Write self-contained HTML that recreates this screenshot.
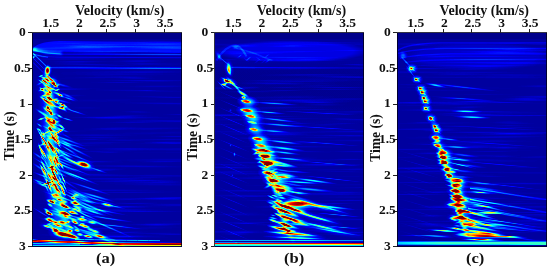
<!DOCTYPE html>
<html><head><meta charset="utf-8">
<style>
html,body{margin:0;padding:0;background:#fff;}
body{width:550px;height:272px;position:relative;overflow:hidden;font-family:"Liberation Serif","Times New Roman",serif;font-weight:bold;color:#111;}
div,svg.hm{position:absolute;}
.tk{background:#222;}
.tl{font-size:13.5px;line-height:14px;white-space:nowrap;}
.ttl{font-size:14px;line-height:15px;white-space:nowrap;}
.cap{font-size:14.5px;line-height:17px;white-space:nowrap;transform:scaleX(1.14);transform-origin:0 0;}
.yl{font-size:14px;line-height:15px;white-space:nowrap;transform:translate(-50%,-50%) rotate(-90deg);}
.add > *{mix-blend-mode:plus-lighter;}
.bx{border:1px solid rgba(0,0,20,0.8);box-sizing:border-box;}
</style></head><body>
<svg width="0" height="0" style="position:absolute">
<defs>
<filter id="jet" x="0" y="0" width="1" height="1" color-interpolation-filters="sRGB">
<feGaussianBlur stdDeviation="0.7"/>
<feColorMatrix type="matrix" values="1 0 0 0 0  1 0 0 0 0  1 0 0 0 0  0 0 0 0 1"/>
<feComponentTransfer>
<feFuncR type="table" tableValues="0 0 0 0 0 0 0 0 0 0 0 0 0 0.125 0.25 0.375 0.5 0.625 0.75 0.875 1 1 1 1 1 1 1 1 1 0.875 0.75 0.625 0.5"/>
<feFuncG type="table" tableValues="0 0 0 0 0 0.125 0.25 0.375 0.5 0.625 0.75 0.875 1 1 1 1 1 1 1 1 1 0.875 0.75 0.625 0.5 0.375 0.25 0.125 0 0 0 0 0"/>
<feFuncB type="table" tableValues="0.5 0.625 0.75 0.875 1 1 1 1 1 1 1 1 1 0.875 0.75 0.625 0.5 0.375 0.25 0.125 0 0 0 0 0 0 0 0 0 0 0 0 0"/>
</feComponentTransfer>
</filter>
<filter id="b05" filterUnits="userSpaceOnUse" x="-20" y="-20" width="200" height="260"><feGaussianBlur stdDeviation="0.5"/></filter>
<filter id="b1" filterUnits="userSpaceOnUse" x="-20" y="-20" width="200" height="260"><feGaussianBlur stdDeviation="1"/></filter>
<filter id="b2" filterUnits="userSpaceOnUse" x="-20" y="-20" width="200" height="260"><feGaussianBlur stdDeviation="2"/></filter>
<radialGradient id="g"><stop offset="0" stop-color="#fff" stop-opacity="1"/><stop offset="0.25" stop-color="#fff" stop-opacity="0.85"/><stop offset="0.5" stop-color="#fff" stop-opacity="0.5"/><stop offset="0.75" stop-color="#fff" stop-opacity="0.18"/><stop offset="1" stop-color="#fff" stop-opacity="0"/></radialGradient>
<radialGradient id="h"><stop offset="0" stop-color="#fff" stop-opacity="1"/><stop offset="0.5" stop-color="#fff" stop-opacity="0.9"/><stop offset="0.8" stop-color="#fff" stop-opacity="0.45"/><stop offset="1" stop-color="#fff" stop-opacity="0"/></radialGradient>
<radialGradient id="f"><stop offset="0" stop-color="#fff" stop-opacity="1"/><stop offset="0.8" stop-color="#fff" stop-opacity="0.95"/><stop offset="1" stop-color="#fff" stop-opacity="0"/></radialGradient>
</defs></svg>
<svg class="hm" style="left:32.0px;top:32.6px" width="149.8" height="214.2" viewBox="0 0 149.8 214.2"><g filter="url(#jet)"><rect width="149.8" height="214.2" fill="rgb(3,3,3)"/><g class="add"><rect x="0.0" y="6.4" width="150.0" height="208.0" fill="#fff" opacity="0.020"/>
<ellipse cx="130.2" cy="34.5" rx="49.4" ry="1.0" fill="url(#g)" opacity="0.038" transform="rotate(-0.3 130.2 34.5)"/>
<ellipse cx="32.2" cy="164.7" rx="16.3" ry="1.4" fill="url(#g)" opacity="0.015" transform="rotate(0.9 32.2 164.7)"/>
<ellipse cx="113.8" cy="96.4" rx="25.3" ry="0.6" fill="url(#g)" opacity="0.016" transform="rotate(1.9 113.8 96.4)"/>
<ellipse cx="142.1" cy="115.9" rx="32.2" ry="0.6" fill="url(#g)" opacity="0.023" transform="rotate(-0.6 142.1 115.9)"/>
<ellipse cx="84.5" cy="95.0" rx="25.5" ry="1.1" fill="url(#g)" opacity="0.025" transform="rotate(-1.2 84.5 95.0)"/>
<ellipse cx="128.9" cy="11.2" rx="40.0" ry="1.6" fill="url(#g)" opacity="0.045" transform="rotate(-0.2 128.9 11.2)"/>
<ellipse cx="63.3" cy="31.8" rx="47.5" ry="1.0" fill="url(#g)" opacity="0.044" transform="rotate(0.8 63.3 31.8)"/>
<ellipse cx="59.4" cy="141.4" rx="41.4" ry="1.1" fill="url(#g)" opacity="0.036" transform="rotate(1.0 59.4 141.4)"/>
<ellipse cx="51.6" cy="14.1" rx="50.9" ry="1.1" fill="url(#g)" opacity="0.040" transform="rotate(-0.5 51.6 14.1)"/>
<ellipse cx="68.7" cy="142.6" rx="34.8" ry="1.1" fill="url(#g)" opacity="0.029" transform="rotate(0.5 68.7 142.6)"/>
<ellipse cx="23.8" cy="105.6" rx="17.0" ry="1.2" fill="url(#g)" opacity="0.029" transform="rotate(2.3 23.8 105.6)"/>
<ellipse cx="85.3" cy="41.2" rx="59.2" ry="1.5" fill="url(#g)" opacity="0.023" transform="rotate(0.3 85.3 41.2)"/>
<ellipse cx="143.8" cy="110.0" rx="41.0" ry="1.1" fill="url(#g)" opacity="0.048" transform="rotate(-0.4 143.8 110.0)"/>
<ellipse cx="121.9" cy="8.4" rx="51.9" ry="1.4" fill="url(#g)" opacity="0.033" transform="rotate(0.7 121.9 8.4)"/>
<ellipse cx="75.4" cy="119.4" rx="17.5" ry="0.8" fill="url(#g)" opacity="0.033" transform="rotate(1.4 75.4 119.4)"/>
<ellipse cx="66.4" cy="104.5" rx="30.6" ry="1.2" fill="url(#g)" opacity="0.031" transform="rotate(0.3 66.4 104.5)"/>
<ellipse cx="49.8" cy="13.3" rx="23.0" ry="1.4" fill="url(#g)" opacity="0.043" transform="rotate(1.1 49.8 13.3)"/>
<ellipse cx="53.2" cy="170.1" rx="52.9" ry="0.6" fill="url(#g)" opacity="0.016" transform="rotate(-0.3 53.2 170.1)"/>
<ellipse cx="52.4" cy="158.2" rx="19.9" ry="0.7" fill="url(#g)" opacity="0.021" transform="rotate(-0.1 52.4 158.2)"/>
<ellipse cx="41.9" cy="112.6" rx="27.3" ry="0.9" fill="url(#g)" opacity="0.032" transform="rotate(0.3 41.9 112.6)"/>
<ellipse cx="70.3" cy="12.0" rx="33.9" ry="1.5" fill="url(#g)" opacity="0.033" transform="rotate(-1.2 70.3 12.0)"/>
<ellipse cx="98.7" cy="49.2" rx="51.8" ry="0.7" fill="url(#g)" opacity="0.040" transform="rotate(-1.1 98.7 49.2)"/>
<ellipse cx="111.6" cy="39.1" rx="45.5" ry="1.6" fill="url(#g)" opacity="0.043" transform="rotate(-0.3 111.6 39.1)"/>
<ellipse cx="49.0" cy="110.9" rx="44.2" ry="0.9" fill="url(#g)" opacity="0.037" transform="rotate(-0.0 49.0 110.9)"/>
<ellipse cx="58.8" cy="18.6" rx="58.6" ry="1.5" fill="url(#g)" opacity="0.026" transform="rotate(0.2 58.8 18.6)"/>
<ellipse cx="116.7" cy="195.0" rx="33.7" ry="1.5" fill="url(#g)" opacity="0.016" transform="rotate(-1.3 116.7 195.0)"/>
<ellipse cx="145.1" cy="172.0" rx="40.7" ry="1.6" fill="url(#g)" opacity="0.040" transform="rotate(0.1 145.1 172.0)"/>
<ellipse cx="69.1" cy="109.6" rx="30.6" ry="1.0" fill="url(#g)" opacity="0.022" transform="rotate(-0.2 69.1 109.6)"/>
<ellipse cx="106.6" cy="28.1" rx="28.3" ry="1.5" fill="url(#g)" opacity="0.046" transform="rotate(-0.4 106.6 28.1)"/>
<ellipse cx="46.1" cy="10.8" rx="29.8" ry="0.9" fill="url(#g)" opacity="0.022" transform="rotate(1.5 46.1 10.8)"/>
<ellipse cx="128.9" cy="142.8" rx="56.9" ry="1.3" fill="url(#g)" opacity="0.032" transform="rotate(0.2 128.9 142.8)"/>
<ellipse cx="50.5" cy="204.6" rx="47.7" ry="1.5" fill="url(#g)" opacity="0.022" transform="rotate(-0.9 50.5 204.6)"/>
<ellipse cx="98.0" cy="159.2" rx="52.9" ry="0.9" fill="url(#g)" opacity="0.045" transform="rotate(-0.3 98.0 159.2)"/>
<ellipse cx="144.1" cy="128.6" rx="54.9" ry="0.7" fill="url(#g)" opacity="0.016" transform="rotate(-0.3 144.1 128.6)"/>
<ellipse cx="132.6" cy="21.6" rx="50.5" ry="1.2" fill="url(#g)" opacity="0.042" transform="rotate(0.2 132.6 21.6)"/>
<ellipse cx="94.2" cy="83.2" rx="25.1" ry="1.5" fill="url(#g)" opacity="0.035" transform="rotate(-1.5 94.2 83.2)"/>
<ellipse cx="79.5" cy="192.5" rx="27.5" ry="0.6" fill="url(#g)" opacity="0.038" transform="rotate(1.3 79.5 192.5)"/>
<ellipse cx="35.0" cy="25.9" rx="54.8" ry="1.6" fill="url(#g)" opacity="0.030" transform="rotate(-0.8 35.0 25.9)"/>
<ellipse cx="41.8" cy="29.9" rx="25.9" ry="1.5" fill="url(#g)" opacity="0.028" transform="rotate(-0.3 41.8 29.9)"/>
<ellipse cx="138.2" cy="201.7" rx="28.2" ry="0.7" fill="url(#g)" opacity="0.038" transform="rotate(-0.5 138.2 201.7)"/>
<ellipse cx="21.4" cy="15.6" rx="59.2" ry="1.0" fill="url(#g)" opacity="0.026" transform="rotate(-0.1 21.4 15.6)"/>
<ellipse cx="138.7" cy="19.1" rx="58.6" ry="0.8" fill="url(#g)" opacity="0.037" transform="rotate(0.1 138.7 19.1)"/>
<ellipse cx="90.6" cy="203.0" rx="46.0" ry="1.1" fill="url(#g)" opacity="0.026" transform="rotate(-0.1 90.6 203.0)"/>
<ellipse cx="30.6" cy="56.1" rx="27.6" ry="1.3" fill="url(#g)" opacity="0.038" transform="rotate(0.9 30.6 56.1)"/>
<ellipse cx="70.8" cy="195.5" rx="28.8" ry="1.4" fill="url(#g)" opacity="0.046" transform="rotate(-0.7 70.8 195.5)"/>
<ellipse cx="63.5" cy="68.0" rx="39.5" ry="0.8" fill="url(#g)" opacity="0.016" transform="rotate(0.3 63.5 68.0)"/>
<ellipse cx="29.4" cy="56.2" rx="39.8" ry="1.2" fill="url(#g)" opacity="0.025" transform="rotate(-1.2 29.4 56.2)"/>
<ellipse cx="84.1" cy="166.2" rx="53.8" ry="1.4" fill="url(#g)" opacity="0.018" transform="rotate(-0.4 84.1 166.2)"/>
<ellipse cx="42.5" cy="197.1" rx="49.9" ry="0.9" fill="url(#g)" opacity="0.019" transform="rotate(0.9 42.5 197.1)"/>
<ellipse cx="139.5" cy="109.5" rx="28.2" ry="1.5" fill="url(#g)" opacity="0.016" transform="rotate(0.1 139.5 109.5)"/>
<ellipse cx="137.4" cy="70.5" rx="51.2" ry="1.3" fill="url(#g)" opacity="0.039" transform="rotate(0.8 137.4 70.5)"/>
<ellipse cx="76.2" cy="43.0" rx="22.1" ry="0.9" fill="url(#g)" opacity="0.017" transform="rotate(1.0 76.2 43.0)"/>
<ellipse cx="125.1" cy="200.4" rx="39.7" ry="1.1" fill="url(#g)" opacity="0.029" transform="rotate(0.6 125.1 200.4)"/>
<ellipse cx="53.5" cy="74.9" rx="16.1" ry="1.2" fill="url(#g)" opacity="0.017" transform="rotate(0.2 53.5 74.9)"/>
<ellipse cx="38.0" cy="79.0" rx="20.6" ry="1.0" fill="url(#g)" opacity="0.029" transform="rotate(0.2 38.0 79.0)"/>
<ellipse cx="50.4" cy="129.9" rx="15.3" ry="1.2" fill="url(#g)" opacity="0.030" transform="rotate(0.1 50.4 129.9)"/>
<ellipse cx="115.1" cy="144.7" rx="25.7" ry="0.8" fill="url(#g)" opacity="0.029" transform="rotate(-0.1 115.1 144.7)"/>
<ellipse cx="137.9" cy="119.9" rx="56.3" ry="0.6" fill="url(#g)" opacity="0.018" transform="rotate(-0.1 137.9 119.9)"/>
<ellipse cx="134.1" cy="109.9" rx="22.2" ry="0.9" fill="url(#g)" opacity="0.039" transform="rotate(1.7 134.1 109.9)"/>
<ellipse cx="68.3" cy="177.1" rx="46.6" ry="1.5" fill="url(#g)" opacity="0.046" transform="rotate(0.4 68.3 177.1)"/>
<ellipse cx="94.3" cy="199.4" rx="22.9" ry="1.2" fill="url(#g)" opacity="0.042" transform="rotate(-1.3 94.3 199.4)"/>
<ellipse cx="108.6" cy="18.0" rx="47.3" ry="0.8" fill="url(#g)" opacity="0.041" transform="rotate(-0.2 108.6 18.0)"/>
<ellipse cx="147.6" cy="15.2" rx="51.4" ry="1.5" fill="url(#g)" opacity="0.049" transform="rotate(-0.1 147.6 15.2)"/>
<ellipse cx="120.8" cy="35.3" rx="52.9" ry="1.0" fill="url(#g)" opacity="0.047" transform="rotate(0.4 120.8 35.3)"/>
<ellipse cx="69.7" cy="201.4" rx="51.1" ry="0.9" fill="url(#g)" opacity="0.019" transform="rotate(-0.5 69.7 201.4)"/>
<ellipse cx="144.7" cy="189.0" rx="20.4" ry="0.7" fill="url(#g)" opacity="0.025" transform="rotate(0.0 144.7 189.0)"/>
<ellipse cx="117.4" cy="57.3" rx="15.2" ry="0.6" fill="url(#g)" opacity="0.037" transform="rotate(-1.4 117.4 57.3)"/>
<ellipse cx="128.6" cy="128.8" rx="24.3" ry="0.9" fill="url(#g)" opacity="0.036" transform="rotate(-0.4 128.6 128.8)"/>
<ellipse cx="108.9" cy="57.7" rx="50.6" ry="1.1" fill="url(#g)" opacity="0.032" transform="rotate(0.9 108.9 57.7)"/>
<ellipse cx="120.0" cy="178.4" rx="40.7" ry="0.7" fill="url(#g)" opacity="0.043" transform="rotate(-0.5 120.0 178.4)"/>
<ellipse cx="117.1" cy="30.8" rx="39.5" ry="1.6" fill="url(#g)" opacity="0.020" transform="rotate(1.1 117.1 30.8)"/>
<ellipse cx="94.4" cy="107.3" rx="29.0" ry="1.1" fill="url(#g)" opacity="0.015" transform="rotate(-0.3 94.4 107.3)"/>
<ellipse cx="78.4" cy="96.2" rx="28.7" ry="1.3" fill="url(#g)" opacity="0.032" transform="rotate(0.4 78.4 96.2)"/>
<ellipse cx="69.1" cy="137.2" rx="24.2" ry="1.2" fill="url(#g)" opacity="0.046" transform="rotate(-1.7 69.1 137.2)"/>
<ellipse cx="86.4" cy="173.7" rx="59.4" ry="1.0" fill="url(#g)" opacity="0.041" transform="rotate(0.3 86.4 173.7)"/>
<ellipse cx="59.7" cy="204.8" rx="22.7" ry="1.0" fill="url(#g)" opacity="0.015" transform="rotate(0.4 59.7 204.8)"/>
<ellipse cx="75.4" cy="85.0" rx="33.2" ry="1.3" fill="url(#g)" opacity="0.046" transform="rotate(0.8 75.4 85.0)"/>
<ellipse cx="84.1" cy="157.2" rx="48.6" ry="1.2" fill="url(#g)" opacity="0.029" transform="rotate(0.3 84.1 157.2)"/>
<ellipse cx="102.4" cy="133.3" rx="57.2" ry="1.4" fill="url(#g)" opacity="0.044" transform="rotate(0.6 102.4 133.3)"/>
<ellipse cx="65.4" cy="128.7" rx="26.9" ry="1.1" fill="url(#g)" opacity="0.020" transform="rotate(1.2 65.4 128.7)"/>
<ellipse cx="83.0" cy="174.5" rx="36.0" ry="1.3" fill="url(#g)" opacity="0.030" transform="rotate(-0.7 83.0 174.5)"/>
<ellipse cx="105.4" cy="78.9" rx="15.9" ry="1.3" fill="url(#g)" opacity="0.029" transform="rotate(1.6 105.4 78.9)"/>
<ellipse cx="98.6" cy="145.9" rx="24.4" ry="0.9" fill="url(#g)" opacity="0.018" transform="rotate(0.2 98.6 145.9)"/>
<ellipse cx="88.0" cy="173.8" rx="31.6" ry="0.8" fill="url(#g)" opacity="0.038" transform="rotate(0.5 88.0 173.8)"/>
<ellipse cx="126.0" cy="149.7" rx="27.1" ry="1.2" fill="url(#g)" opacity="0.021" transform="rotate(-0.3 126.0 149.7)"/>
<ellipse cx="132.7" cy="166.1" rx="29.8" ry="1.3" fill="url(#g)" opacity="0.045" transform="rotate(0.4 132.7 166.1)"/>
<ellipse cx="136.9" cy="13.6" rx="43.0" ry="1.4" fill="url(#g)" opacity="0.042" transform="rotate(-0.3 136.9 13.6)"/>
<ellipse cx="101.4" cy="44.9" rx="22.5" ry="1.5" fill="url(#g)" opacity="0.040" transform="rotate(1.1 101.4 44.9)"/>
<ellipse cx="54.1" cy="128.7" rx="38.7" ry="1.3" fill="url(#g)" opacity="0.028" transform="rotate(-1.1 54.1 128.7)"/>
<ellipse cx="51.3" cy="157.3" rx="47.3" ry="0.7" fill="url(#g)" opacity="0.029" transform="rotate(0.0 51.3 157.3)"/>
<ellipse cx="33.0" cy="106.4" rx="23.4" ry="1.5" fill="url(#g)" opacity="0.023" transform="rotate(-0.8 33.0 106.4)"/>
<ellipse cx="111.5" cy="14.0" rx="51.7" ry="0.9" fill="url(#g)" opacity="0.044" transform="rotate(0.6 111.5 14.0)"/>
<ellipse cx="110.0" cy="31.1" rx="19.3" ry="1.0" fill="url(#g)" opacity="0.021" transform="rotate(-0.3 110.0 31.1)"/>
<ellipse cx="126.6" cy="53.4" rx="35.8" ry="1.3" fill="url(#g)" opacity="0.027" transform="rotate(-0.3 126.6 53.4)"/>
<ellipse cx="138.2" cy="126.9" rx="59.7" ry="1.5" fill="url(#g)" opacity="0.026" transform="rotate(-0.1 138.2 126.9)"/>
<ellipse cx="95.4" cy="84.5" rx="56.3" ry="1.4" fill="url(#g)" opacity="0.020" transform="rotate(0.3 95.4 84.5)"/>
<ellipse cx="22.0" cy="189.5" rx="21.5" ry="1.0" fill="url(#g)" opacity="0.020" transform="rotate(-0.7 22.0 189.5)"/>
<ellipse cx="129.2" cy="100.0" rx="55.8" ry="1.4" fill="url(#g)" opacity="0.016" transform="rotate(-0.9 129.2 100.0)"/>
<ellipse cx="35.3" cy="62.7" rx="19.1" ry="1.3" fill="url(#g)" opacity="0.039" transform="rotate(-1.0 35.3 62.7)"/>
<ellipse cx="106.2" cy="176.9" rx="32.5" ry="1.2" fill="url(#g)" opacity="0.024" transform="rotate(1.1 106.2 176.9)"/>
<ellipse cx="141.6" cy="19.7" rx="41.6" ry="1.2" fill="url(#g)" opacity="0.033" transform="rotate(-0.1 141.6 19.7)"/>
<ellipse cx="65.9" cy="20.2" rx="33.6" ry="1.0" fill="url(#g)" opacity="0.038" transform="rotate(0.1 65.9 20.2)"/>
<ellipse cx="116.6" cy="149.6" rx="47.5" ry="1.6" fill="url(#g)" opacity="0.020" transform="rotate(0.0 116.6 149.6)"/>
<ellipse cx="131.1" cy="191.2" rx="53.4" ry="1.4" fill="url(#g)" opacity="0.031" transform="rotate(-0.9 131.1 191.2)"/>
<ellipse cx="148.0" cy="81.4" rx="16.8" ry="0.7" fill="url(#g)" opacity="0.029" transform="rotate(-0.1 148.0 81.4)"/>
<ellipse cx="134.7" cy="148.5" rx="16.1" ry="1.4" fill="url(#g)" opacity="0.018" transform="rotate(-1.4 134.7 148.5)"/>
<ellipse cx="70.0" cy="14.1" rx="48.0" ry="1.4" fill="url(#g)" opacity="0.043" transform="rotate(-0.7 70.0 14.1)"/>
<ellipse cx="59.5" cy="178.9" rx="34.1" ry="0.9" fill="url(#g)" opacity="0.027" transform="rotate(-0.3 59.5 178.9)"/>
<ellipse cx="144.3" cy="164.7" rx="41.3" ry="1.0" fill="url(#g)" opacity="0.050" transform="rotate(-0.3 144.3 164.7)"/>
<ellipse cx="128.5" cy="151.6" rx="46.6" ry="1.4" fill="url(#g)" opacity="0.025" transform="rotate(0.5 128.5 151.6)"/>
<ellipse cx="68.1" cy="39.1" rx="38.5" ry="1.2" fill="url(#g)" opacity="0.017" transform="rotate(-0.8 68.1 39.1)"/>
<ellipse cx="104.6" cy="170.4" rx="29.1" ry="0.9" fill="url(#g)" opacity="0.041" transform="rotate(-0.7 104.6 170.4)"/>
<ellipse cx="88.4" cy="107.0" rx="21.7" ry="0.9" fill="url(#g)" opacity="0.017" transform="rotate(0.6 88.4 107.0)"/>
<ellipse cx="82.4" cy="203.3" rx="56.1" ry="1.4" fill="url(#g)" opacity="0.047" transform="rotate(0.9 82.4 203.3)"/>
<ellipse cx="124.2" cy="191.9" rx="21.1" ry="1.6" fill="url(#g)" opacity="0.042" transform="rotate(0.3 124.2 191.9)"/>
<ellipse cx="117.1" cy="147.7" rx="31.3" ry="1.0" fill="url(#g)" opacity="0.031" transform="rotate(1.1 117.1 147.7)"/>
<ellipse cx="89.2" cy="203.9" rx="22.6" ry="1.2" fill="url(#g)" opacity="0.047" transform="rotate(-0.4 89.2 203.9)"/>
<ellipse cx="73.4" cy="44.4" rx="47.8" ry="1.1" fill="url(#g)" opacity="0.024" transform="rotate(-1.0 73.4 44.4)"/>
<ellipse cx="54.0" cy="28.3" rx="43.4" ry="0.7" fill="url(#g)" opacity="0.045" transform="rotate(-0.5 54.0 28.3)"/>
<ellipse cx="42.5" cy="136.4" rx="53.8" ry="1.4" fill="url(#g)" opacity="0.040" transform="rotate(-0.6 42.5 136.4)"/>
<ellipse cx="135.9" cy="64.2" rx="41.9" ry="1.0" fill="url(#g)" opacity="0.039" transform="rotate(1.0 135.9 64.2)"/>
<ellipse cx="142.8" cy="116.4" rx="50.9" ry="1.6" fill="url(#g)" opacity="0.024" transform="rotate(0.6 142.8 116.4)"/>
<ellipse cx="117.1" cy="47.6" rx="49.7" ry="1.0" fill="url(#g)" opacity="0.046" transform="rotate(0.0 117.1 47.6)"/>
<ellipse cx="96.0" cy="166.3" rx="16.8" ry="0.8" fill="url(#g)" opacity="0.025" transform="rotate(1.1 96.0 166.3)"/>
<ellipse cx="20.7" cy="146.3" rx="20.4" ry="1.3" fill="url(#g)" opacity="0.049" transform="rotate(0.5 20.7 146.3)"/>
<ellipse cx="94.4" cy="116.0" rx="39.8" ry="1.4" fill="url(#g)" opacity="0.048" transform="rotate(0.1 94.4 116.0)"/>
<ellipse cx="101.9" cy="89.3" rx="28.8" ry="1.2" fill="url(#g)" opacity="0.034" transform="rotate(-0.4 101.9 89.3)"/>
<ellipse cx="41.2" cy="202.5" rx="43.7" ry="1.2" fill="url(#g)" opacity="0.028" transform="rotate(1.0 41.2 202.5)"/>
<ellipse cx="141.7" cy="88.1" rx="55.3" ry="1.5" fill="url(#g)" opacity="0.045" transform="rotate(0.6 141.7 88.1)"/>
<ellipse cx="80.4" cy="84.5" rx="50.8" ry="1.1" fill="url(#g)" opacity="0.027" transform="rotate(0.1 80.4 84.5)"/>
<ellipse cx="35.1" cy="98.2" rx="31.0" ry="0.8" fill="url(#g)" opacity="0.024" transform="rotate(-1.0 35.1 98.2)"/>
<ellipse cx="96.6" cy="178.2" rx="27.9" ry="1.1" fill="url(#g)" opacity="0.041" transform="rotate(0.5 96.6 178.2)"/>
<ellipse cx="76.4" cy="145.9" rx="50.0" ry="1.1" fill="url(#g)" opacity="0.049" transform="rotate(0.2 76.4 145.9)"/>
<ellipse cx="31.9" cy="149.9" rx="20.8" ry="0.6" fill="url(#g)" opacity="0.024" transform="rotate(0.5 31.9 149.9)"/>
<ellipse cx="143.8" cy="103.5" rx="33.0" ry="0.7" fill="url(#g)" opacity="0.036" transform="rotate(1.0 143.8 103.5)"/>
<ellipse cx="91.4" cy="207.2" rx="39.1" ry="1.6" fill="url(#g)" opacity="0.019" transform="rotate(0.4 91.4 207.2)"/>
<ellipse cx="74.6" cy="118.1" rx="45.2" ry="0.9" fill="url(#g)" opacity="0.032" transform="rotate(-0.8 74.6 118.1)"/>
<ellipse cx="131.5" cy="165.5" rx="50.4" ry="1.0" fill="url(#g)" opacity="0.038" transform="rotate(-0.3 131.5 165.5)"/>
<ellipse cx="86.0" cy="67.0" rx="55.7" ry="0.7" fill="url(#g)" opacity="0.029" transform="rotate(-0.0 86.0 67.0)"/>
<ellipse cx="46.2" cy="188.9" rx="38.4" ry="1.6" fill="url(#g)" opacity="0.025" transform="rotate(0.5 46.2 188.9)"/>
<ellipse cx="136.4" cy="106.4" rx="39.5" ry="0.9" fill="url(#g)" opacity="0.032" transform="rotate(-0.0 136.4 106.4)"/>
<ellipse cx="148.6" cy="9.2" rx="44.6" ry="0.9" fill="url(#g)" opacity="0.034" transform="rotate(1.1 148.6 9.2)"/>
<ellipse cx="118.8" cy="95.5" rx="52.9" ry="1.3" fill="url(#g)" opacity="0.029" transform="rotate(-0.5 118.8 95.5)"/>
<ellipse cx="45.4" cy="33.8" rx="40.2" ry="1.1" fill="url(#g)" opacity="0.036" transform="rotate(0.8 45.4 33.8)"/>
<ellipse cx="73.8" cy="36.7" rx="27.6" ry="0.8" fill="url(#g)" opacity="0.028" transform="rotate(-0.1 73.8 36.7)"/>
<ellipse cx="64.0" cy="102.2" rx="42.3" ry="1.3" fill="url(#g)" opacity="0.034" transform="rotate(0.1 64.0 102.2)"/>
<ellipse cx="62.4" cy="19.2" rx="46.1" ry="1.5" fill="url(#g)" opacity="0.026" transform="rotate(0.6 62.4 19.2)"/>
<ellipse cx="62.9" cy="106.3" rx="20.8" ry="0.7" fill="url(#g)" opacity="0.034" transform="rotate(-1.7 62.9 106.3)"/>
<ellipse cx="93.2" cy="148.0" rx="45.8" ry="1.2" fill="url(#g)" opacity="0.046" transform="rotate(-0.7 93.2 148.0)"/>
<ellipse cx="20.6" cy="92.2" rx="15.9" ry="0.7" fill="url(#g)" opacity="0.023" transform="rotate(-0.3 20.6 92.2)"/>
<path d="M 1.0 14.9 C 6.0 10.4 13.0 8.4 28.0 7.9 L 151.0 9.4 L 151.0 19.4 L 28.0 18.4 C 13.0 18.4 6.0 18.4 1.0 18.9 Z" fill="#fff" opacity="0.100" filter="url(#b05)"/>
<ellipse cx="2.5" cy="16.4" rx="4.0" ry="3.0" fill="url(#g)" opacity="0.100"/>
<path d="M 1.0 15.9 C 5.0 16.9 10.0 18.7 16.0 19.7 L 30.0 20.4" fill="none" stroke="#fff" stroke-width="2.2" stroke-linecap="butt" opacity="0.220" filter="url(#b1)"/>
<path d="M 1.0 20.9 C 6.0 22.4 10.0 23.9 16.0 24.4" fill="none" stroke="#fff" stroke-width="1.3" stroke-linecap="butt" opacity="0.120" filter="url(#b05)"/>
<ellipse cx="1.5" cy="24.4" rx="1.5" ry="1.2" fill="url(#g)" opacity="0.350"/>
<ellipse cx="2.0" cy="23.4" rx="2.0" ry="1.5" fill="url(#g)" opacity="0.250"/>
<path d="M 1.0 16.9 C 6.0 18.9 13.0 20.4 28.0 21.0 L 151.0 21.7" fill="none" stroke="#fff" stroke-width="1.2" stroke-linecap="butt" opacity="0.120" filter="url(#b05)"/>
<path d="M 1.0 20.9 C 6.0 22.9 13.0 23.9 28.0 24.2 L 151.0 24.7" fill="none" stroke="#fff" stroke-width="1.0" stroke-linecap="butt" opacity="0.080" filter="url(#b05)"/>
<path d="M 1.0 20.4 L 14.0 32.9" fill="none" stroke="#fff" stroke-width="1.1" stroke-linecap="butt" opacity="0.220" filter="url(#b05)"/>
<path d="M 1.0 24.9 L 12.0 35.9" fill="none" stroke="#fff" stroke-width="1.0" stroke-linecap="butt" opacity="0.120" filter="url(#b05)"/>
<path d="M 1.0 29.4 L 11.0 39.4" fill="none" stroke="#fff" stroke-width="1.0" stroke-linecap="butt" opacity="0.100" filter="url(#b05)"/>
<path d="M 17.0 34.7 L 151.0 35.4" fill="none" stroke="#fff" stroke-width="1.1" stroke-linecap="butt" opacity="0.180" filter="url(#b05)"/>
<ellipse cx="15.5" cy="37.4" rx="3.0" ry="5.5" fill="url(#g)" opacity="0.750"/>
<ellipse cx="15.5" cy="37.9" rx="4.5" ry="7.0" fill="url(#g)" opacity="0.450" transform="rotate(10.0 15.5 37.9)"/>
<path d="M 15.0 45.4 C 18.0 67.4 18.0 107.4 20.0 137.4 C 22.0 162.4 28.0 182.4 32.0 199.4" fill="none" stroke="#fff" stroke-width="16" stroke-linecap="butt" opacity="0.090" filter="url(#b2)"/>
<path d="M 16.0 47.4 C 18.0 67.4 18.0 107.4 19.0 137.4 C 21.0 157.4 24.0 177.4 26.0 195.4" fill="none" stroke="#fff" stroke-width="7" stroke-linecap="butt" opacity="0.080" filter="url(#b2)"/>
<ellipse cx="14.0" cy="43.4" rx="7.8" ry="3.5" fill="url(#g)" opacity="0.050" transform="rotate(60.0 14.0 43.4)"/>
<ellipse cx="16.2" cy="43.4" rx="3.6" ry="1.3" fill="url(#g)" opacity="0.544" transform="rotate(32.0 16.2 43.4)"/>
<ellipse cx="22.6" cy="46.7" rx="7.3" ry="1.6" fill="url(#g)" opacity="0.127" transform="rotate(27.4 22.6 46.7)"/>
<ellipse cx="8.9" cy="42.9" rx="3.6" ry="1.1" fill="url(#g)" opacity="0.440" transform="rotate(-23.0 8.9 42.9)"/>
<ellipse cx="16.3" cy="47.8" rx="8.6" ry="1.6" fill="url(#g)" opacity="0.159" transform="rotate(30.7 16.3 47.8)"/>
<ellipse cx="16.2" cy="44.3" rx="4.6" ry="1.7" fill="url(#g)" opacity="0.259" transform="rotate(26.4 16.2 44.3)"/>
<ellipse cx="14.5" cy="45.8" rx="8.6" ry="3.5" fill="url(#g)" opacity="0.050" transform="rotate(60.0 14.5 45.8)"/>
<ellipse cx="19.0" cy="46.2" rx="5.4" ry="1.5" fill="url(#g)" opacity="0.392" transform="rotate(28.1 19.0 46.2)"/>
<ellipse cx="15.0" cy="45.9" rx="3.7" ry="1.5" fill="url(#g)" opacity="0.308" transform="rotate(32.7 15.0 45.9)"/>
<ellipse cx="21.5" cy="48.3" rx="6.9" ry="1.5" fill="url(#g)" opacity="0.160" transform="rotate(20.7 21.5 48.3)"/>
<ellipse cx="11.5" cy="45.0" rx="4.6" ry="1.6" fill="url(#g)" opacity="0.362" transform="rotate(28.1 11.5 45.0)"/>
<ellipse cx="15.0" cy="48.2" rx="9.4" ry="3.5" fill="url(#g)" opacity="0.050" transform="rotate(60.0 15.0 48.2)"/>
<ellipse cx="15.6" cy="47.3" rx="4.4" ry="1.6" fill="url(#g)" opacity="0.488" transform="rotate(33.7 15.6 47.3)"/>
<ellipse cx="28.4" cy="51.6" rx="13.2" ry="1.7" fill="url(#g)" opacity="0.155" transform="rotate(14.8 28.4 51.6)"/>
<ellipse cx="19.9" cy="47.5" rx="6.0" ry="1.4" fill="url(#g)" opacity="0.489" transform="rotate(37.8 19.9 47.5)"/>
<ellipse cx="9.5" cy="48.8" rx="5.3" ry="1.1" fill="url(#g)" opacity="0.390" transform="rotate(33.3 9.5 48.8)"/>
<ellipse cx="15.5" cy="50.6" rx="10.1" ry="3.5" fill="url(#g)" opacity="0.050" transform="rotate(60.0 15.5 50.6)"/>
<ellipse cx="22.0" cy="51.4" rx="4.9" ry="1.6" fill="url(#g)" opacity="0.407" transform="rotate(31.2 22.0 51.4)"/>
<ellipse cx="14.3" cy="49.7" rx="4.9" ry="1.1" fill="url(#g)" opacity="0.523" transform="rotate(32.1 14.3 49.7)"/>
<ellipse cx="7.7" cy="50.6" rx="4.6" ry="1.3" fill="url(#g)" opacity="0.167" transform="rotate(-26.9 7.7 50.6)"/>
<ellipse cx="16.0" cy="53.0" rx="10.9" ry="3.5" fill="url(#g)" opacity="0.050" transform="rotate(60.0 16.0 53.0)"/>
<ellipse cx="22.9" cy="52.5" rx="5.9" ry="1.3" fill="url(#g)" opacity="0.412" transform="rotate(36.4 22.9 52.5)"/>
<ellipse cx="13.6" cy="52.6" rx="6.1" ry="1.3" fill="url(#g)" opacity="0.213" transform="rotate(38.3 13.6 52.6)"/>
<ellipse cx="24.3" cy="52.8" rx="4.4" ry="1.7" fill="url(#g)" opacity="0.459" transform="rotate(-20.4 24.3 52.8)"/>
<ellipse cx="16.5" cy="55.4" rx="11.7" ry="3.5" fill="url(#g)" opacity="0.050" transform="rotate(60.0 16.5 55.4)"/>
<ellipse cx="20.1" cy="55.7" rx="6.2" ry="1.2" fill="url(#g)" opacity="0.404" transform="rotate(21.1 20.1 55.7)"/>
<ellipse cx="16.3" cy="54.4" rx="6.2" ry="1.4" fill="url(#g)" opacity="0.286" transform="rotate(39.5 16.3 54.4)"/>
<ellipse cx="10.6" cy="56.3" rx="5.5" ry="1.6" fill="url(#g)" opacity="0.437" transform="rotate(-22.6 10.6 56.3)"/>
<ellipse cx="17.0" cy="57.8" rx="12.5" ry="3.5" fill="url(#g)" opacity="0.050" transform="rotate(60.0 17.0 57.8)"/>
<ellipse cx="16.4" cy="57.2" rx="4.8" ry="1.5" fill="url(#g)" opacity="0.347" transform="rotate(34.5 16.4 57.2)"/>
<ellipse cx="25.2" cy="57.0" rx="3.6" ry="1.2" fill="url(#g)" opacity="0.486" transform="rotate(-21.7 25.2 57.0)"/>
<ellipse cx="35.9" cy="62.9" rx="11.9" ry="1.7" fill="url(#g)" opacity="0.166" transform="rotate(25.3 35.9 62.9)"/>
<ellipse cx="10.4" cy="56.8" rx="4.7" ry="1.5" fill="url(#g)" opacity="0.539" transform="rotate(38.9 10.4 56.8)"/>
<ellipse cx="17.5" cy="60.2" rx="13.3" ry="3.5" fill="url(#g)" opacity="0.050" transform="rotate(60.0 17.5 60.2)"/>
<ellipse cx="25.9" cy="60.8" rx="6.4" ry="1.7" fill="url(#g)" opacity="0.365" transform="rotate(20.1 25.9 60.8)"/>
<ellipse cx="14.3" cy="61.1" rx="4.0" ry="1.5" fill="url(#g)" opacity="0.246" transform="rotate(38.7 14.3 61.1)"/>
<ellipse cx="16.0" cy="60.6" rx="5.6" ry="1.6" fill="url(#g)" opacity="0.468" transform="rotate(34.5 16.0 60.6)"/>
<ellipse cx="18.0" cy="62.6" rx="14.0" ry="3.5" fill="url(#g)" opacity="0.050" transform="rotate(60.0 18.0 62.6)"/>
<ellipse cx="12.6" cy="62.4" rx="5.2" ry="1.5" fill="url(#g)" opacity="0.462" transform="rotate(-15.8 12.6 62.4)"/>
<ellipse cx="28.3" cy="62.2" rx="4.3" ry="1.4" fill="url(#g)" opacity="0.246" transform="rotate(-9.0 28.3 62.2)"/>
<ellipse cx="28.5" cy="62.5" rx="5.0" ry="1.4" fill="url(#g)" opacity="0.433" transform="rotate(30.7 28.5 62.5)"/>
<ellipse cx="36.6" cy="65.5" rx="8.6" ry="1.3" fill="url(#g)" opacity="0.251" transform="rotate(19.8 36.6 65.5)"/>
<ellipse cx="18.5" cy="65.0" rx="14.8" ry="3.5" fill="url(#g)" opacity="0.050" transform="rotate(60.0 18.5 65.0)"/>
<ellipse cx="15.3" cy="65.6" rx="5.4" ry="1.6" fill="url(#g)" opacity="0.211" transform="rotate(36.9 15.3 65.6)"/>
<ellipse cx="10.4" cy="64.9" rx="3.9" ry="1.2" fill="url(#g)" opacity="0.252" transform="rotate(25.6 10.4 64.9)"/>
<ellipse cx="16.3" cy="68.2" rx="6.8" ry="1.5" fill="url(#g)" opacity="0.152" transform="rotate(28.0 16.3 68.2)"/>
<ellipse cx="16.9" cy="64.8" rx="4.1" ry="1.5" fill="url(#g)" opacity="0.499" transform="rotate(31.1 16.9 64.8)"/>
<ellipse cx="28.6" cy="67.7" rx="12.1" ry="1.6" fill="url(#g)" opacity="0.181" transform="rotate(13.2 28.6 67.7)"/>
<ellipse cx="19.0" cy="67.4" rx="15.6" ry="3.5" fill="url(#g)" opacity="0.050" transform="rotate(60.0 19.0 67.4)"/>
<ellipse cx="23.4" cy="66.5" rx="4.2" ry="1.4" fill="url(#g)" opacity="0.386" transform="rotate(-18.2 23.4 66.5)"/>
<ellipse cx="32.7" cy="73.2" rx="11.0" ry="1.4" fill="url(#g)" opacity="0.254" transform="rotate(31.7 32.7 73.2)"/>
<ellipse cx="12.4" cy="66.6" rx="6.0" ry="1.2" fill="url(#g)" opacity="0.434" transform="rotate(30.7 12.4 66.6)"/>
<ellipse cx="14.0" cy="67.9" rx="4.3" ry="1.1" fill="url(#g)" opacity="0.474" transform="rotate(32.3 14.0 67.9)"/>
<ellipse cx="19.0" cy="69.8" rx="15.6" ry="3.5" fill="url(#g)" opacity="0.050" transform="rotate(60.0 19.0 69.8)"/>
<ellipse cx="14.6" cy="69.0" rx="6.1" ry="1.5" fill="url(#g)" opacity="0.475" transform="rotate(32.6 14.6 69.0)"/>
<ellipse cx="20.9" cy="72.4" rx="6.9" ry="1.3" fill="url(#g)" opacity="0.265" transform="rotate(22.2 20.9 72.4)"/>
<ellipse cx="24.0" cy="69.1" rx="5.6" ry="1.3" fill="url(#g)" opacity="0.478" transform="rotate(38.5 24.0 69.1)"/>
<ellipse cx="29.8" cy="71.5" rx="6.1" ry="1.7" fill="url(#g)" opacity="0.180" transform="rotate(16.0 29.8 71.5)"/>
<ellipse cx="18.6" cy="70.1" rx="6.3" ry="1.5" fill="url(#g)" opacity="0.395" transform="rotate(32.8 18.6 70.1)"/>
<ellipse cx="19.0" cy="72.2" rx="15.6" ry="3.5" fill="url(#g)" opacity="0.050" transform="rotate(60.0 19.0 72.2)"/>
<ellipse cx="30.2" cy="71.4" rx="6.0" ry="1.2" fill="url(#g)" opacity="0.458" transform="rotate(25.4 30.2 71.4)"/>
<ellipse cx="17.9" cy="72.3" rx="6.3" ry="1.7" fill="url(#g)" opacity="0.168" transform="rotate(36.5 17.9 72.3)"/>
<ellipse cx="28.7" cy="74.7" rx="11.1" ry="1.5" fill="url(#g)" opacity="0.191" transform="rotate(12.9 28.7 74.7)"/>
<ellipse cx="30.0" cy="72.2" rx="4.1" ry="1.4" fill="url(#g)" opacity="0.388" transform="rotate(-18.8 30.0 72.2)"/>
<ellipse cx="19.0" cy="74.6" rx="15.6" ry="3.5" fill="url(#g)" opacity="0.050" transform="rotate(60.0 19.0 74.6)"/>
<ellipse cx="30.6" cy="74.5" rx="6.0" ry="1.2" fill="url(#g)" opacity="0.461" transform="rotate(-10.1 30.6 74.5)"/>
<ellipse cx="43.1" cy="78.6" rx="13.2" ry="1.2" fill="url(#g)" opacity="0.200" transform="rotate(17.7 43.1 78.6)"/>
<ellipse cx="30.8" cy="75.2" rx="6.0" ry="1.6" fill="url(#g)" opacity="0.484" transform="rotate(39.9 30.8 75.2)"/>
<ellipse cx="28.7" cy="75.4" rx="4.9" ry="1.4" fill="url(#g)" opacity="0.338" transform="rotate(31.0 28.7 75.4)"/>
<ellipse cx="19.0" cy="77.0" rx="15.6" ry="3.5" fill="url(#g)" opacity="0.050" transform="rotate(60.0 19.0 77.0)"/>
<ellipse cx="14.6" cy="76.6" rx="6.1" ry="1.7" fill="url(#g)" opacity="0.210" transform="rotate(37.0 14.6 76.6)"/>
<ellipse cx="17.0" cy="76.2" rx="5.2" ry="1.1" fill="url(#g)" opacity="0.550" transform="rotate(31.5 17.0 76.2)"/>
<ellipse cx="15.1" cy="77.2" rx="5.0" ry="1.5" fill="url(#g)" opacity="0.297" transform="rotate(32.7 15.1 77.2)"/>
<ellipse cx="19.0" cy="79.4" rx="15.6" ry="3.5" fill="url(#g)" opacity="0.050" transform="rotate(60.0 19.0 79.4)"/>
<ellipse cx="17.7" cy="78.7" rx="4.5" ry="1.2" fill="url(#g)" opacity="0.350" transform="rotate(20.1 17.7 78.7)"/>
<ellipse cx="10.6" cy="80.0" rx="6.5" ry="1.7" fill="url(#g)" opacity="0.193" transform="rotate(30.2 10.6 80.0)"/>
<ellipse cx="7.9" cy="78.9" rx="6.4" ry="1.5" fill="url(#g)" opacity="0.175" transform="rotate(36.4 7.9 78.9)"/>
<ellipse cx="19.0" cy="81.8" rx="15.6" ry="3.5" fill="url(#g)" opacity="0.050" transform="rotate(60.0 19.0 81.8)"/>
<ellipse cx="21.8" cy="81.3" rx="3.7" ry="1.3" fill="url(#g)" opacity="0.180" transform="rotate(-9.4 21.8 81.3)"/>
<ellipse cx="13.3" cy="82.3" rx="4.4" ry="1.7" fill="url(#g)" opacity="0.234" transform="rotate(29.6 13.3 82.3)"/>
<ellipse cx="26.7" cy="82.5" rx="3.9" ry="1.4" fill="url(#g)" opacity="0.180" transform="rotate(38.5 26.7 82.5)"/>
<ellipse cx="19.0" cy="84.2" rx="15.6" ry="3.5" fill="url(#g)" opacity="0.050" transform="rotate(60.0 19.0 84.2)"/>
<ellipse cx="24.9" cy="85.0" rx="3.6" ry="1.5" fill="url(#g)" opacity="0.161" transform="rotate(35.0 24.9 85.0)"/>
<ellipse cx="28.0" cy="83.4" rx="3.9" ry="1.5" fill="url(#g)" opacity="0.320" transform="rotate(23.9 28.0 83.4)"/>
<ellipse cx="35.1" cy="86.2" rx="7.4" ry="1.2" fill="url(#g)" opacity="0.274" transform="rotate(15.9 35.1 86.2)"/>
<ellipse cx="15.0" cy="85.1" rx="3.5" ry="1.8" fill="url(#g)" opacity="0.536" transform="rotate(24.4 15.0 85.1)"/>
<ellipse cx="21.7" cy="87.0" rx="7.3" ry="1.2" fill="url(#g)" opacity="0.242" transform="rotate(23.0 21.7 87.0)"/>
<ellipse cx="19.0" cy="86.6" rx="15.6" ry="3.5" fill="url(#g)" opacity="0.050" transform="rotate(60.0 19.0 86.6)"/>
<ellipse cx="9.0" cy="86.0" rx="4.4" ry="1.4" fill="url(#g)" opacity="0.477" transform="rotate(-18.4 9.0 86.0)"/>
<ellipse cx="16.4" cy="87.0" rx="4.4" ry="1.8" fill="url(#g)" opacity="0.411" transform="rotate(-26.0 16.4 87.0)"/>
<ellipse cx="18.4" cy="86.9" rx="5.5" ry="1.8" fill="url(#g)" opacity="0.159" transform="rotate(-27.7 18.4 86.9)"/>
<ellipse cx="19.0" cy="89.0" rx="15.6" ry="3.5" fill="url(#g)" opacity="0.050" transform="rotate(60.0 19.0 89.0)"/>
<ellipse cx="24.0" cy="89.4" rx="5.9" ry="1.8" fill="url(#g)" opacity="0.287" transform="rotate(-20.8 24.0 89.4)"/>
<ellipse cx="20.5" cy="89.4" rx="5.2" ry="1.7" fill="url(#g)" opacity="0.370" transform="rotate(29.6 20.5 89.4)"/>
<ellipse cx="18.3" cy="89.1" rx="5.9" ry="1.5" fill="url(#g)" opacity="0.483" transform="rotate(30.5 18.3 89.1)"/>
<ellipse cx="25.4" cy="92.2" rx="7.8" ry="1.2" fill="url(#g)" opacity="0.193" transform="rotate(24.1 25.4 92.2)"/>
<ellipse cx="19.0" cy="91.4" rx="15.6" ry="3.5" fill="url(#g)" opacity="0.050" transform="rotate(60.0 19.0 91.4)"/>
<ellipse cx="28.4" cy="92.3" rx="5.6" ry="1.5" fill="url(#g)" opacity="0.243" transform="rotate(34.0 28.4 92.3)"/>
<ellipse cx="17.5" cy="90.4" rx="5.8" ry="1.6" fill="url(#g)" opacity="0.407" transform="rotate(35.7 17.5 90.4)"/>
<ellipse cx="7.4" cy="92.1" rx="4.1" ry="1.2" fill="url(#g)" opacity="0.285" transform="rotate(35.7 7.4 92.1)"/>
<ellipse cx="20.0" cy="97.3" rx="13.9" ry="1.3" fill="url(#g)" opacity="0.231" transform="rotate(24.9 20.0 97.3)"/>
<ellipse cx="19.0" cy="93.8" rx="15.6" ry="3.5" fill="url(#g)" opacity="0.050" transform="rotate(60.0 19.0 93.8)"/>
<ellipse cx="30.0" cy="94.2" rx="4.0" ry="1.6" fill="url(#g)" opacity="0.393" transform="rotate(39.2 30.0 94.2)"/>
<ellipse cx="20.8" cy="93.9" rx="4.9" ry="1.7" fill="url(#g)" opacity="0.296" transform="rotate(28.4 20.8 93.9)"/>
<ellipse cx="26.6" cy="97.3" rx="6.8" ry="1.6" fill="url(#g)" opacity="0.219" transform="rotate(30.8 26.6 97.3)"/>
<ellipse cx="22.1" cy="93.1" rx="6.5" ry="1.6" fill="url(#g)" opacity="0.247" transform="rotate(24.2 22.1 93.1)"/>
<ellipse cx="19.0" cy="96.2" rx="15.6" ry="3.5" fill="url(#g)" opacity="0.050" transform="rotate(60.0 19.0 96.2)"/>
<ellipse cx="7.0" cy="96.6" rx="3.6" ry="1.4" fill="url(#g)" opacity="0.432" transform="rotate(30.0 7.0 96.6)"/>
<ellipse cx="28.0" cy="96.4" rx="4.4" ry="1.5" fill="url(#g)" opacity="0.355" transform="rotate(32.1 28.0 96.4)"/>
<ellipse cx="32.8" cy="97.8" rx="5.1" ry="1.3" fill="url(#g)" opacity="0.199" transform="rotate(18.2 32.8 97.8)"/>
<ellipse cx="19.0" cy="97.2" rx="4.3" ry="1.4" fill="url(#g)" opacity="0.498" transform="rotate(35.0 19.0 97.2)"/>
<ellipse cx="24.5" cy="98.4" rx="5.9" ry="1.5" fill="url(#g)" opacity="0.141" transform="rotate(22.3 24.5 98.4)"/>
<ellipse cx="18.0" cy="99.4" rx="14.3" ry="3.5" fill="url(#g)" opacity="0.050" transform="rotate(60.0 18.0 99.4)"/>
<ellipse cx="27.3" cy="98.5" rx="7.9" ry="1.4" fill="url(#g)" opacity="0.591" transform="rotate(-29.9 27.3 98.5)"/>
<ellipse cx="34.1" cy="102.9" rx="7.6" ry="1.3" fill="url(#g)" opacity="0.123" transform="rotate(27.1 34.1 102.9)"/>
<ellipse cx="7.2" cy="99.5" rx="6.0" ry="1.1" fill="url(#g)" opacity="0.285" transform="rotate(59.4 7.2 99.5)"/>
<ellipse cx="26.5" cy="107.2" rx="20.8" ry="1.4" fill="url(#g)" opacity="0.183" transform="rotate(22.1 26.5 107.2)"/>
<ellipse cx="14.3" cy="99.7" rx="8.0" ry="1.1" fill="url(#g)" opacity="0.363" transform="rotate(-25.9 14.3 99.7)"/>
<ellipse cx="34.1" cy="106.5" rx="21.1" ry="1.5" fill="url(#g)" opacity="0.243" transform="rotate(19.7 34.1 106.5)"/>
<ellipse cx="18.1" cy="101.7" rx="14.2" ry="3.5" fill="url(#g)" opacity="0.050" transform="rotate(60.0 18.1 101.7)"/>
<ellipse cx="10.4" cy="101.3" rx="6.4" ry="1.3" fill="url(#g)" opacity="0.533" transform="rotate(55.6 10.4 101.3)"/>
<ellipse cx="24.5" cy="102.2" rx="5.5" ry="1.5" fill="url(#g)" opacity="0.466" transform="rotate(58.0 24.5 102.2)"/>
<ellipse cx="12.0" cy="101.2" rx="5.1" ry="1.1" fill="url(#g)" opacity="0.314" transform="rotate(61.3 12.0 101.2)"/>
<ellipse cx="23.5" cy="107.2" rx="12.7" ry="1.5" fill="url(#g)" opacity="0.212" transform="rotate(25.7 23.5 107.2)"/>
<ellipse cx="18.2" cy="104.0" rx="14.1" ry="3.5" fill="url(#g)" opacity="0.050" transform="rotate(60.0 18.2 104.0)"/>
<ellipse cx="20.8" cy="103.5" rx="8.3" ry="1.4" fill="url(#g)" opacity="0.546" transform="rotate(61.4 20.8 103.5)"/>
<ellipse cx="20.5" cy="104.8" rx="7.1" ry="1.5" fill="url(#g)" opacity="0.246" transform="rotate(-12.5 20.5 104.8)"/>
<ellipse cx="23.8" cy="103.8" rx="6.9" ry="1.0" fill="url(#g)" opacity="0.348" transform="rotate(60.3 23.8 103.8)"/>
<ellipse cx="32.7" cy="108.6" rx="10.0" ry="1.5" fill="url(#g)" opacity="0.220" transform="rotate(27.6 32.7 108.6)"/>
<ellipse cx="18.4" cy="106.3" rx="14.1" ry="3.5" fill="url(#g)" opacity="0.050" transform="rotate(60.0 18.4 106.3)"/>
<ellipse cx="10.8" cy="105.5" rx="7.4" ry="1.1" fill="url(#g)" opacity="0.383" transform="rotate(57.0 10.8 105.5)"/>
<ellipse cx="11.3" cy="106.4" rx="8.5" ry="1.5" fill="url(#g)" opacity="0.542" transform="rotate(61.4 11.3 106.4)"/>
<ellipse cx="22.4" cy="107.3" rx="7.9" ry="1.1" fill="url(#g)" opacity="0.228" transform="rotate(63.0 22.4 107.3)"/>
<ellipse cx="42.0" cy="116.1" rx="21.9" ry="1.5" fill="url(#g)" opacity="0.240" transform="rotate(26.6 42.0 116.1)"/>
<ellipse cx="18.5" cy="108.6" rx="14.0" ry="3.5" fill="url(#g)" opacity="0.050" transform="rotate(60.0 18.5 108.6)"/>
<ellipse cx="24.5" cy="107.8" rx="8.8" ry="1.0" fill="url(#g)" opacity="0.451" transform="rotate(60.1 24.5 107.8)"/>
<ellipse cx="38.3" cy="118.0" rx="16.7" ry="1.2" fill="url(#g)" opacity="0.155" transform="rotate(34.4 38.3 118.0)"/>
<ellipse cx="26.0" cy="107.7" rx="8.8" ry="1.3" fill="url(#g)" opacity="0.331" transform="rotate(60.4 26.0 107.7)"/>
<ellipse cx="34.4" cy="111.7" rx="9.0" ry="1.3" fill="url(#g)" opacity="0.245" transform="rotate(20.3 34.4 111.7)"/>
<ellipse cx="10.8" cy="109.4" rx="7.2" ry="1.5" fill="url(#g)" opacity="0.291" transform="rotate(62.7 10.8 109.4)"/>
<ellipse cx="18.6" cy="110.9" rx="13.9" ry="3.5" fill="url(#g)" opacity="0.050" transform="rotate(60.0 18.6 110.9)"/>
<ellipse cx="17.2" cy="110.9" rx="6.4" ry="1.2" fill="url(#g)" opacity="0.549" transform="rotate(62.1 17.2 110.9)"/>
<ellipse cx="26.2" cy="116.3" rx="10.6" ry="1.2" fill="url(#g)" opacity="0.149" transform="rotate(31.0 26.2 116.3)"/>
<ellipse cx="11.4" cy="111.1" rx="7.7" ry="1.4" fill="url(#g)" opacity="0.345" transform="rotate(-22.1 11.4 111.1)"/>
<ellipse cx="27.4" cy="117.1" rx="17.2" ry="1.3" fill="url(#g)" opacity="0.201" transform="rotate(21.3 27.4 117.1)"/>
<ellipse cx="25.8" cy="110.5" rx="6.9" ry="1.0" fill="url(#g)" opacity="0.468" transform="rotate(55.3 25.8 110.5)"/>
<ellipse cx="37.4" cy="116.9" rx="13.0" ry="1.2" fill="url(#g)" opacity="0.130" transform="rotate(27.5 37.4 116.9)"/>
<ellipse cx="18.7" cy="113.2" rx="13.8" ry="3.5" fill="url(#g)" opacity="0.050" transform="rotate(60.0 18.7 113.2)"/>
<ellipse cx="14.9" cy="113.4" rx="8.6" ry="1.3" fill="url(#g)" opacity="0.497" transform="rotate(70.0 14.9 113.4)"/>
<ellipse cx="16.9" cy="113.9" rx="5.1" ry="1.1" fill="url(#g)" opacity="0.229" transform="rotate(-15.5 16.9 113.9)"/>
<ellipse cx="27.3" cy="119.7" rx="12.2" ry="1.2" fill="url(#g)" opacity="0.163" transform="rotate(32.2 27.3 119.7)"/>
<ellipse cx="18.5" cy="112.3" rx="6.7" ry="1.5" fill="url(#g)" opacity="0.580" transform="rotate(64.5 18.5 112.3)"/>
<ellipse cx="29.7" cy="119.5" rx="12.8" ry="1.4" fill="url(#g)" opacity="0.201" transform="rotate(29.1 29.7 119.5)"/>
<ellipse cx="18.8" cy="115.5" rx="13.7" ry="3.5" fill="url(#g)" opacity="0.050" transform="rotate(60.0 18.8 115.5)"/>
<ellipse cx="21.1" cy="115.3" rx="7.1" ry="1.3" fill="url(#g)" opacity="0.470" transform="rotate(60.3 21.1 115.3)"/>
<ellipse cx="16.6" cy="115.0" rx="7.9" ry="1.1" fill="url(#g)" opacity="0.380" transform="rotate(69.6 16.6 115.0)"/>
<ellipse cx="9.1" cy="116.3" rx="8.2" ry="1.3" fill="url(#g)" opacity="0.403" transform="rotate(65.5 9.1 116.3)"/>
<ellipse cx="19.0" cy="117.8" rx="13.7" ry="3.5" fill="url(#g)" opacity="0.050" transform="rotate(60.0 19.0 117.8)"/>
<ellipse cx="8.7" cy="117.1" rx="7.4" ry="1.0" fill="url(#g)" opacity="0.421" transform="rotate(66.1 8.7 117.1)"/>
<ellipse cx="25.7" cy="117.4" rx="5.4" ry="1.4" fill="url(#g)" opacity="0.375" transform="rotate(64.9 25.7 117.4)"/>
<ellipse cx="34.7" cy="122.1" rx="9.9" ry="1.5" fill="url(#g)" opacity="0.254" transform="rotate(25.5 34.7 122.1)"/>
<ellipse cx="20.4" cy="116.8" rx="5.9" ry="1.4" fill="url(#g)" opacity="0.588" transform="rotate(62.4 20.4 116.8)"/>
<ellipse cx="35.9" cy="125.6" rx="17.3" ry="1.6" fill="url(#g)" opacity="0.259" transform="rotate(26.7 35.9 125.6)"/>
<ellipse cx="19.1" cy="120.1" rx="13.6" ry="3.5" fill="url(#g)" opacity="0.050" transform="rotate(60.0 19.1 120.1)"/>
<ellipse cx="11.2" cy="119.5" rx="8.6" ry="1.3" fill="url(#g)" opacity="0.305" transform="rotate(59.9 11.2 119.5)"/>
<ellipse cx="25.5" cy="126.9" rx="15.8" ry="1.3" fill="url(#g)" opacity="0.197" transform="rotate(25.3 25.5 126.9)"/>
<ellipse cx="12.2" cy="120.7" rx="6.1" ry="1.1" fill="url(#g)" opacity="0.446" transform="rotate(63.9 12.2 120.7)"/>
<ellipse cx="33.1" cy="127.7" rx="22.2" ry="1.3" fill="url(#g)" opacity="0.212" transform="rotate(20.0 33.1 127.7)"/>
<ellipse cx="24.0" cy="120.0" rx="8.3" ry="1.0" fill="url(#g)" opacity="0.447" transform="rotate(67.2 24.0 120.0)"/>
<ellipse cx="19.2" cy="122.4" rx="13.5" ry="3.5" fill="url(#g)" opacity="0.050" transform="rotate(60.0 19.2 122.4)"/>
<ellipse cx="10.8" cy="122.3" rx="8.4" ry="1.0" fill="url(#g)" opacity="0.355" transform="rotate(57.7 10.8 122.3)"/>
<ellipse cx="30.8" cy="132.0" rx="22.1" ry="1.3" fill="url(#g)" opacity="0.248" transform="rotate(25.6 30.8 132.0)"/>
<ellipse cx="24.9" cy="123.0" rx="7.2" ry="1.4" fill="url(#g)" opacity="0.269" transform="rotate(57.7 24.9 123.0)"/>
<ellipse cx="44.8" cy="130.4" rx="21.4" ry="1.5" fill="url(#g)" opacity="0.182" transform="rotate(21.9 44.8 130.4)"/>
<ellipse cx="27.3" cy="123.3" rx="6.9" ry="1.3" fill="url(#g)" opacity="0.241" transform="rotate(-19.7 27.3 123.3)"/>
<ellipse cx="41.4" cy="129.1" rx="15.6" ry="1.5" fill="url(#g)" opacity="0.224" transform="rotate(25.3 41.4 129.1)"/>
<ellipse cx="19.3" cy="124.7" rx="13.4" ry="3.5" fill="url(#g)" opacity="0.050" transform="rotate(60.0 19.3 124.7)"/>
<ellipse cx="18.9" cy="124.9" rx="5.9" ry="1.4" fill="url(#g)" opacity="0.260" transform="rotate(69.6 18.9 124.9)"/>
<ellipse cx="30.9" cy="132.5" rx="14.3" ry="1.2" fill="url(#g)" opacity="0.134" transform="rotate(32.9 30.9 132.5)"/>
<ellipse cx="10.1" cy="124.3" rx="5.1" ry="1.2" fill="url(#g)" opacity="0.261" transform="rotate(59.8 10.1 124.3)"/>
<ellipse cx="24.3" cy="125.2" rx="5.7" ry="1.2" fill="url(#g)" opacity="0.321" transform="rotate(59.7 24.3 125.2)"/>
<ellipse cx="19.5" cy="127.0" rx="13.4" ry="3.5" fill="url(#g)" opacity="0.050" transform="rotate(60.0 19.5 127.0)"/>
<ellipse cx="18.6" cy="127.6" rx="8.8" ry="1.3" fill="url(#g)" opacity="0.415" transform="rotate(59.7 18.6 127.6)"/>
<ellipse cx="24.0" cy="127.0" rx="6.6" ry="1.3" fill="url(#g)" opacity="0.328" transform="rotate(61.9 24.0 127.0)"/>
<ellipse cx="34.4" cy="131.1" rx="11.1" ry="1.4" fill="url(#g)" opacity="0.154" transform="rotate(21.4 34.4 131.1)"/>
<ellipse cx="25.2" cy="127.9" rx="6.4" ry="1.2" fill="url(#g)" opacity="0.562" transform="rotate(59.9 25.2 127.9)"/>
<ellipse cx="19.6" cy="129.3" rx="13.3" ry="3.5" fill="url(#g)" opacity="0.050" transform="rotate(60.0 19.6 129.3)"/>
<ellipse cx="22.9" cy="128.9" rx="5.9" ry="1.2" fill="url(#g)" opacity="0.364" transform="rotate(67.8 22.9 128.9)"/>
<ellipse cx="23.0" cy="130.2" rx="7.4" ry="1.4" fill="url(#g)" opacity="0.270" transform="rotate(68.5 23.0 130.2)"/>
<ellipse cx="13.9" cy="129.7" rx="6.2" ry="1.2" fill="url(#g)" opacity="0.226" transform="rotate(60.8 13.9 129.7)"/>
<ellipse cx="19.7" cy="131.6" rx="13.2" ry="3.5" fill="url(#g)" opacity="0.050" transform="rotate(60.0 19.7 131.6)"/>
<ellipse cx="11.4" cy="132.1" rx="8.9" ry="1.4" fill="url(#g)" opacity="0.363" transform="rotate(63.0 11.4 132.1)"/>
<ellipse cx="23.9" cy="138.0" rx="14.1" ry="1.4" fill="url(#g)" opacity="0.218" transform="rotate(27.2 23.9 138.0)"/>
<ellipse cx="29.3" cy="132.5" rx="5.6" ry="1.5" fill="url(#g)" opacity="0.577" transform="rotate(57.4 29.3 132.5)"/>
<ellipse cx="44.6" cy="137.2" rx="16.3" ry="1.2" fill="url(#g)" opacity="0.167" transform="rotate(20.2 44.6 137.2)"/>
<ellipse cx="25.7" cy="131.3" rx="5.7" ry="1.1" fill="url(#g)" opacity="0.481" transform="rotate(57.1 25.7 131.3)"/>
<ellipse cx="19.8" cy="133.9" rx="13.1" ry="3.5" fill="url(#g)" opacity="0.050" transform="rotate(60.0 19.8 133.9)"/>
<ellipse cx="19.6" cy="134.0" rx="5.6" ry="1.2" fill="url(#g)" opacity="0.569" transform="rotate(-18.3 19.6 134.0)"/>
<ellipse cx="38.7" cy="142.4" rx="20.9" ry="1.1" fill="url(#g)" opacity="0.187" transform="rotate(23.9 38.7 142.4)"/>
<ellipse cx="20.4" cy="134.7" rx="5.0" ry="1.3" fill="url(#g)" opacity="0.555" transform="rotate(58.1 20.4 134.7)"/>
<ellipse cx="38.9" cy="141.1" rx="19.8" ry="1.5" fill="url(#g)" opacity="0.234" transform="rotate(21.2 38.9 141.1)"/>
<ellipse cx="25.3" cy="134.3" rx="9.0" ry="1.3" fill="url(#g)" opacity="0.244" transform="rotate(56.6 25.3 134.3)"/>
<ellipse cx="19.9" cy="136.2" rx="13.0" ry="3.5" fill="url(#g)" opacity="0.050" transform="rotate(60.0 19.9 136.2)"/>
<ellipse cx="23.3" cy="136.7" rx="6.6" ry="1.2" fill="url(#g)" opacity="0.257" transform="rotate(60.2 23.3 136.7)"/>
<ellipse cx="14.0" cy="136.5" rx="6.8" ry="1.3" fill="url(#g)" opacity="0.226" transform="rotate(55.3 14.0 136.5)"/>
<ellipse cx="11.0" cy="136.1" rx="8.1" ry="1.2" fill="url(#g)" opacity="0.526" transform="rotate(55.1 11.0 136.1)"/>
<ellipse cx="20.2" cy="138.5" rx="13.1" ry="3.5" fill="url(#g)" opacity="0.050" transform="rotate(60.0 20.2 138.5)"/>
<ellipse cx="24.1" cy="138.7" rx="5.2" ry="1.2" fill="url(#g)" opacity="0.464" transform="rotate(66.7 24.1 138.7)"/>
<ellipse cx="20.6" cy="138.0" rx="7.6" ry="1.2" fill="url(#g)" opacity="0.434" transform="rotate(67.6 20.6 138.0)"/>
<ellipse cx="27.9" cy="141.2" rx="7.8" ry="1.2" fill="url(#g)" opacity="0.186" transform="rotate(20.2 27.9 141.2)"/>
<ellipse cx="10.6" cy="138.4" rx="6.9" ry="1.3" fill="url(#g)" opacity="0.227" transform="rotate(69.7 10.6 138.4)"/>
<ellipse cx="24.2" cy="146.2" rx="15.6" ry="1.6" fill="url(#g)" opacity="0.210" transform="rotate(29.5 24.2 146.2)"/>
<ellipse cx="20.5" cy="140.8" rx="13.2" ry="3.5" fill="url(#g)" opacity="0.050" transform="rotate(60.0 20.5 140.8)"/>
<ellipse cx="21.4" cy="140.8" rx="7.9" ry="1.2" fill="url(#g)" opacity="0.364" transform="rotate(62.9 21.4 140.8)"/>
<ellipse cx="35.2" cy="149.7" rx="16.4" ry="1.3" fill="url(#g)" opacity="0.133" transform="rotate(32.7 35.2 149.7)"/>
<ellipse cx="12.5" cy="140.0" rx="7.0" ry="1.5" fill="url(#g)" opacity="0.563" transform="rotate(64.8 12.5 140.0)"/>
<ellipse cx="23.1" cy="146.6" rx="12.1" ry="1.4" fill="url(#g)" opacity="0.198" transform="rotate(28.4 23.1 146.6)"/>
<ellipse cx="18.3" cy="141.0" rx="6.8" ry="1.1" fill="url(#g)" opacity="0.216" transform="rotate(59.2 18.3 141.0)"/>
<ellipse cx="20.8" cy="143.1" rx="13.3" ry="3.5" fill="url(#g)" opacity="0.050" transform="rotate(60.0 20.8 143.1)"/>
<ellipse cx="17.1" cy="142.6" rx="5.7" ry="1.4" fill="url(#g)" opacity="0.588" transform="rotate(63.0 17.1 142.6)"/>
<ellipse cx="22.5" cy="143.6" rx="7.7" ry="1.2" fill="url(#g)" opacity="0.273" transform="rotate(64.9 22.5 143.6)"/>
<ellipse cx="22.8" cy="142.2" rx="5.6" ry="1.5" fill="url(#g)" opacity="0.391" transform="rotate(59.6 22.8 142.2)"/>
<ellipse cx="21.1" cy="145.4" rx="13.5" ry="3.5" fill="url(#g)" opacity="0.050" transform="rotate(60.0 21.1 145.4)"/>
<ellipse cx="27.9" cy="145.5" rx="6.2" ry="1.1" fill="url(#g)" opacity="0.304" transform="rotate(66.8 27.9 145.5)"/>
<ellipse cx="31.4" cy="146.2" rx="7.2" ry="1.1" fill="url(#g)" opacity="0.540" transform="rotate(65.9 31.4 146.2)"/>
<ellipse cx="21.9" cy="145.3" rx="5.0" ry="1.1" fill="url(#g)" opacity="0.508" transform="rotate(56.0 21.9 145.3)"/>
<ellipse cx="21.4" cy="147.7" rx="13.6" ry="3.5" fill="url(#g)" opacity="0.050" transform="rotate(60.0 21.4 147.7)"/>
<ellipse cx="25.4" cy="147.9" rx="7.5" ry="1.3" fill="url(#g)" opacity="0.426" transform="rotate(65.3 25.4 147.9)"/>
<ellipse cx="20.3" cy="148.1" rx="5.8" ry="1.0" fill="url(#g)" opacity="0.444" transform="rotate(63.8 20.3 148.1)"/>
<ellipse cx="27.5" cy="151.5" rx="8.1" ry="1.3" fill="url(#g)" opacity="0.230" transform="rotate(27.4 27.5 151.5)"/>
<ellipse cx="14.3" cy="147.4" rx="7.8" ry="1.3" fill="url(#g)" opacity="0.260" transform="rotate(56.3 14.3 147.4)"/>
<ellipse cx="22.7" cy="152.1" rx="9.5" ry="1.2" fill="url(#g)" opacity="0.240" transform="rotate(27.8 22.7 152.1)"/>
<ellipse cx="21.7" cy="150.0" rx="13.7" ry="3.5" fill="url(#g)" opacity="0.050" transform="rotate(60.0 21.7 150.0)"/>
<ellipse cx="16.7" cy="149.6" rx="6.9" ry="1.2" fill="url(#g)" opacity="0.573" transform="rotate(-16.6 16.7 149.6)"/>
<ellipse cx="15.1" cy="150.6" rx="6.7" ry="1.4" fill="url(#g)" opacity="0.507" transform="rotate(-16.0 15.1 150.6)"/>
<ellipse cx="25.8" cy="157.1" rx="12.8" ry="1.6" fill="url(#g)" opacity="0.230" transform="rotate(33.5 25.8 157.1)"/>
<ellipse cx="16.0" cy="149.6" rx="5.9" ry="1.1" fill="url(#g)" opacity="0.577" transform="rotate(68.0 16.0 149.6)"/>
<ellipse cx="22.0" cy="152.3" rx="13.9" ry="3.5" fill="url(#g)" opacity="0.050" transform="rotate(60.0 22.0 152.3)"/>
<ellipse cx="32.3" cy="153.1" rx="8.1" ry="1.0" fill="url(#g)" opacity="0.408" transform="rotate(65.3 32.3 153.1)"/>
<ellipse cx="48.9" cy="161.9" rx="19.1" ry="1.6" fill="url(#g)" opacity="0.246" transform="rotate(29.9 48.9 161.9)"/>
<ellipse cx="28.4" cy="152.8" rx="6.8" ry="1.4" fill="url(#g)" opacity="0.476" transform="rotate(55.5 28.4 152.8)"/>
<ellipse cx="46.2" cy="162.2" rx="20.4" ry="1.5" fill="url(#g)" opacity="0.218" transform="rotate(29.0 46.2 162.2)"/>
<ellipse cx="20.7" cy="152.4" rx="5.7" ry="1.2" fill="url(#g)" opacity="0.406" transform="rotate(-24.7 20.7 152.4)"/>
<ellipse cx="22.3" cy="154.6" rx="14.0" ry="3.5" fill="url(#g)" opacity="0.050" transform="rotate(60.0 22.3 154.6)"/>
<ellipse cx="24.4" cy="154.4" rx="8.0" ry="1.3" fill="url(#g)" opacity="0.558" transform="rotate(63.3 24.4 154.4)"/>
<ellipse cx="14.6" cy="154.9" rx="5.8" ry="1.1" fill="url(#g)" opacity="0.251" transform="rotate(64.2 14.6 154.9)"/>
<ellipse cx="17.3" cy="153.9" rx="7.9" ry="1.4" fill="url(#g)" opacity="0.532" transform="rotate(66.7 17.3 153.9)"/>
<ellipse cx="22.7" cy="156.9" rx="14.2" ry="3.5" fill="url(#g)" opacity="0.050" transform="rotate(60.0 22.7 156.9)"/>
<ellipse cx="31.4" cy="157.4" rx="6.8" ry="1.4" fill="url(#g)" opacity="0.210" transform="rotate(68.7 31.4 157.4)"/>
<ellipse cx="49.1" cy="165.1" rx="19.5" ry="1.6" fill="url(#g)" opacity="0.124" transform="rotate(24.9 49.1 165.1)"/>
<ellipse cx="24.5" cy="156.9" rx="8.4" ry="1.1" fill="url(#g)" opacity="0.252" transform="rotate(69.6 24.5 156.9)"/>
<ellipse cx="42.2" cy="165.2" rx="19.5" ry="1.1" fill="url(#g)" opacity="0.214" transform="rotate(25.0 42.2 165.2)"/>
<ellipse cx="31.4" cy="156.0" rx="5.3" ry="1.0" fill="url(#g)" opacity="0.234" transform="rotate(60.2 31.4 156.0)"/>
<ellipse cx="42.2" cy="162.4" rx="12.1" ry="1.4" fill="url(#g)" opacity="0.239" transform="rotate(27.1 42.2 162.4)"/>
<ellipse cx="23.0" cy="159.2" rx="14.3" ry="3.5" fill="url(#g)" opacity="0.050" transform="rotate(60.0 23.0 159.2)"/>
<ellipse cx="30.8" cy="158.7" rx="7.4" ry="1.5" fill="url(#g)" opacity="0.268" transform="rotate(68.1 30.8 158.7)"/>
<ellipse cx="27.4" cy="158.8" rx="6.2" ry="1.0" fill="url(#g)" opacity="0.324" transform="rotate(67.5 27.4 158.8)"/>
<ellipse cx="31.2" cy="158.5" rx="6.0" ry="1.1" fill="url(#g)" opacity="0.514" transform="rotate(58.6 31.2 158.5)"/>
<ellipse cx="44.3" cy="167.9" rx="15.8" ry="1.5" fill="url(#g)" opacity="0.207" transform="rotate(33.5 44.3 167.9)"/>
<ellipse cx="30.0" cy="162.4" rx="20.8" ry="3.5" fill="url(#g)" opacity="0.060" transform="rotate(60.0 30.0 162.4)"/>
<ellipse cx="24.1" cy="161.8" rx="4.6" ry="1.8" fill="url(#g)" opacity="0.518" transform="rotate(15.8 24.1 161.8)"/>
<ellipse cx="21.0" cy="162.3" rx="3.2" ry="1.3" fill="url(#g)" opacity="0.423" transform="rotate(30.9 21.0 162.3)"/>
<ellipse cx="31.4" cy="167.5" rx="11.5" ry="1.5" fill="url(#g)" opacity="0.122" transform="rotate(26.3 31.4 167.5)"/>
<ellipse cx="44.5" cy="161.9" rx="3.4" ry="1.7" fill="url(#g)" opacity="0.360" transform="rotate(18.8 44.5 161.9)"/>
<ellipse cx="30.3" cy="165.0" rx="21.1" ry="3.5" fill="url(#g)" opacity="0.060" transform="rotate(60.0 30.3 165.0)"/>
<ellipse cx="22.7" cy="164.0" rx="4.6" ry="2.0" fill="url(#g)" opacity="0.322" transform="rotate(15.6 22.7 164.0)"/>
<ellipse cx="28.2" cy="167.1" rx="6.0" ry="1.4" fill="url(#g)" opacity="0.159" transform="rotate(21.0 28.2 167.1)"/>
<ellipse cx="42.3" cy="165.2" rx="4.4" ry="1.8" fill="url(#g)" opacity="0.268" transform="rotate(-10.1 42.3 165.2)"/>
<ellipse cx="59.1" cy="168.8" rx="17.2" ry="1.3" fill="url(#g)" opacity="0.196" transform="rotate(12.6 59.1 168.8)"/>
<ellipse cx="41.3" cy="164.0" rx="3.3" ry="1.9" fill="url(#g)" opacity="0.532" transform="rotate(-27.0 41.3 164.0)"/>
<ellipse cx="52.6" cy="168.2" rx="11.7" ry="1.2" fill="url(#g)" opacity="0.165" transform="rotate(15.9 52.6 168.2)"/>
<ellipse cx="30.6" cy="167.6" rx="21.4" ry="3.5" fill="url(#g)" opacity="0.060" transform="rotate(60.0 30.6 167.6)"/>
<ellipse cx="22.7" cy="167.7" rx="3.6" ry="1.4" fill="url(#g)" opacity="0.390" transform="rotate(25.6 22.7 167.7)"/>
<ellipse cx="27.1" cy="166.7" rx="3.6" ry="1.5" fill="url(#g)" opacity="0.516" transform="rotate(15.5 27.1 166.7)"/>
<ellipse cx="43.2" cy="168.4" rx="3.1" ry="1.8" fill="url(#g)" opacity="0.455" transform="rotate(31.6 43.2 168.4)"/>
<ellipse cx="52.7" cy="171.0" rx="10.1" ry="1.4" fill="url(#g)" opacity="0.127" transform="rotate(19.8 52.7 171.0)"/>
<ellipse cx="30.9" cy="170.2" rx="21.7" ry="3.5" fill="url(#g)" opacity="0.060" transform="rotate(60.0 30.9 170.2)"/>
<ellipse cx="20.7" cy="169.2" rx="4.1" ry="1.4" fill="url(#g)" opacity="0.447" transform="rotate(33.2 20.7 169.2)"/>
<ellipse cx="32.1" cy="169.3" rx="4.7" ry="1.9" fill="url(#g)" opacity="0.257" transform="rotate(-19.4 32.1 169.3)"/>
<ellipse cx="45.2" cy="177.4" rx="15.0" ry="1.2" fill="url(#g)" opacity="0.214" transform="rotate(28.8 45.2 177.4)"/>
<ellipse cx="30.1" cy="170.8" rx="4.9" ry="2.0" fill="url(#g)" opacity="0.261" transform="rotate(26.3 30.1 170.8)"/>
<ellipse cx="31.3" cy="172.8" rx="22.0" ry="3.5" fill="url(#g)" opacity="0.060" transform="rotate(60.0 31.3 172.8)"/>
<ellipse cx="43.9" cy="172.8" rx="3.7" ry="1.9" fill="url(#g)" opacity="0.222" transform="rotate(24.5 43.9 172.8)"/>
<ellipse cx="43.0" cy="173.8" rx="4.1" ry="1.6" fill="url(#g)" opacity="0.355" transform="rotate(22.1 43.0 173.8)"/>
<ellipse cx="17.9" cy="172.0" rx="3.8" ry="1.7" fill="url(#g)" opacity="0.440" transform="rotate(31.1 17.9 172.0)"/>
<ellipse cx="30.5" cy="180.1" rx="14.5" ry="1.6" fill="url(#g)" opacity="0.242" transform="rotate(30.0 30.5 180.1)"/>
<ellipse cx="31.6" cy="175.4" rx="22.3" ry="3.5" fill="url(#g)" opacity="0.060" transform="rotate(60.0 31.6 175.4)"/>
<ellipse cx="46.8" cy="175.8" rx="3.6" ry="1.7" fill="url(#g)" opacity="0.359" transform="rotate(32.8 46.8 175.8)"/>
<ellipse cx="43.4" cy="175.8" rx="4.5" ry="1.6" fill="url(#g)" opacity="0.245" transform="rotate(-14.9 43.4 175.8)"/>
<ellipse cx="47.4" cy="174.6" rx="4.3" ry="1.8" fill="url(#g)" opacity="0.289" transform="rotate(15.5 47.4 174.6)"/>
<ellipse cx="61.1" cy="179.2" rx="14.3" ry="1.4" fill="url(#g)" opacity="0.222" transform="rotate(15.4 61.1 179.2)"/>
<ellipse cx="31.9" cy="178.0" rx="22.6" ry="3.5" fill="url(#g)" opacity="0.060" transform="rotate(60.0 31.9 178.0)"/>
<ellipse cx="41.6" cy="178.3" rx="4.7" ry="1.7" fill="url(#g)" opacity="0.358" transform="rotate(24.4 41.6 178.3)"/>
<ellipse cx="47.0" cy="177.6" rx="4.1" ry="1.7" fill="url(#g)" opacity="0.212" transform="rotate(-29.2 47.0 177.6)"/>
<ellipse cx="15.1" cy="177.7" rx="4.7" ry="1.8" fill="url(#g)" opacity="0.506" transform="rotate(34.3 15.1 177.7)"/>
<ellipse cx="25.8" cy="181.9" rx="11.4" ry="1.8" fill="url(#g)" opacity="0.157" transform="rotate(19.9 25.8 181.9)"/>
<ellipse cx="32.2" cy="180.6" rx="23.0" ry="3.5" fill="url(#g)" opacity="0.060" transform="rotate(60.0 32.2 180.6)"/>
<ellipse cx="28.5" cy="180.8" rx="3.3" ry="1.9" fill="url(#g)" opacity="0.261" transform="rotate(-18.2 28.5 180.8)"/>
<ellipse cx="43.6" cy="187.8" rx="16.7" ry="1.8" fill="url(#g)" opacity="0.190" transform="rotate(25.5 43.6 187.8)"/>
<ellipse cx="44.2" cy="180.6" rx="3.5" ry="1.5" fill="url(#g)" opacity="0.412" transform="rotate(23.2 44.2 180.6)"/>
<ellipse cx="17.3" cy="180.5" rx="4.7" ry="1.7" fill="url(#g)" opacity="0.491" transform="rotate(18.2 17.3 180.5)"/>
<ellipse cx="32.5" cy="183.2" rx="23.3" ry="3.5" fill="url(#g)" opacity="0.060" transform="rotate(60.0 32.5 183.2)"/>
<ellipse cx="32.7" cy="182.8" rx="3.7" ry="1.8" fill="url(#g)" opacity="0.260" transform="rotate(30.0 32.7 182.8)"/>
<ellipse cx="34.4" cy="184.0" rx="4.4" ry="1.5" fill="url(#g)" opacity="0.300" transform="rotate(25.9 34.4 184.0)"/>
<ellipse cx="47.0" cy="187.1" rx="13.2" ry="1.7" fill="url(#g)" opacity="0.146" transform="rotate(17.3 47.0 187.1)"/>
<ellipse cx="50.3" cy="183.8" rx="3.2" ry="1.4" fill="url(#g)" opacity="0.480" transform="rotate(15.3 50.3 183.8)"/>
<ellipse cx="32.8" cy="185.8" rx="23.6" ry="3.5" fill="url(#g)" opacity="0.060" transform="rotate(60.0 32.8 185.8)"/>
<ellipse cx="21.0" cy="186.4" rx="3.1" ry="1.3" fill="url(#g)" opacity="0.233" transform="rotate(28.1 21.0 186.4)"/>
<ellipse cx="41.6" cy="186.6" rx="4.7" ry="2.0" fill="url(#g)" opacity="0.273" transform="rotate(17.2 41.6 186.6)"/>
<ellipse cx="17.7" cy="185.7" rx="4.4" ry="1.8" fill="url(#g)" opacity="0.486" transform="rotate(22.0 17.7 185.7)"/>
<ellipse cx="33.2" cy="188.4" rx="23.9" ry="3.5" fill="url(#g)" opacity="0.060" transform="rotate(60.0 33.2 188.4)"/>
<ellipse cx="24.6" cy="189.3" rx="3.1" ry="1.7" fill="url(#g)" opacity="0.253" transform="rotate(-8.8 24.6 189.3)"/>
<ellipse cx="35.9" cy="189.1" rx="3.2" ry="1.4" fill="url(#g)" opacity="0.540" transform="rotate(-14.2 35.9 189.1)"/>
<ellipse cx="23.4" cy="188.9" rx="3.6" ry="1.9" fill="url(#g)" opacity="0.416" transform="rotate(29.2 23.4 188.9)"/>
<ellipse cx="32.6" cy="192.1" rx="10.0" ry="1.6" fill="url(#g)" opacity="0.125" transform="rotate(21.8 32.6 192.1)"/>
<ellipse cx="33.5" cy="191.0" rx="24.2" ry="3.5" fill="url(#g)" opacity="0.060" transform="rotate(60.0 33.5 191.0)"/>
<ellipse cx="17.7" cy="190.9" rx="4.2" ry="1.6" fill="url(#g)" opacity="0.329" transform="rotate(-10.0 17.7 190.9)"/>
<ellipse cx="49.3" cy="191.6" rx="4.8" ry="1.7" fill="url(#g)" opacity="0.515" transform="rotate(-16.6 49.3 191.6)"/>
<ellipse cx="21.4" cy="191.4" rx="3.8" ry="1.7" fill="url(#g)" opacity="0.203" transform="rotate(-23.9 21.4 191.4)"/>
<ellipse cx="36.2" cy="199.7" rx="17.2" ry="1.4" fill="url(#g)" opacity="0.181" transform="rotate(30.4 36.2 199.7)"/>
<ellipse cx="33.8" cy="193.6" rx="24.5" ry="3.5" fill="url(#g)" opacity="0.060" transform="rotate(60.0 33.8 193.6)"/>
<ellipse cx="18.9" cy="193.2" rx="4.4" ry="1.3" fill="url(#g)" opacity="0.338" transform="rotate(29.5 18.9 193.2)"/>
<ellipse cx="39.0" cy="194.4" rx="4.4" ry="1.6" fill="url(#g)" opacity="0.302" transform="rotate(32.3 39.0 194.4)"/>
<ellipse cx="43.7" cy="194.0" rx="4.5" ry="1.3" fill="url(#g)" opacity="0.311" transform="rotate(30.7 43.7 194.0)"/>
<ellipse cx="19.0" cy="168.4" rx="5.6" ry="2.0" fill="url(#g)" opacity="0.848" transform="rotate(17.5 19.0 168.4)"/>
<ellipse cx="43.0" cy="170.4" rx="6.3" ry="2.1" fill="url(#g)" opacity="0.899" transform="rotate(12.2 43.0 170.4)"/>
<ellipse cx="33.0" cy="173.4" rx="6.8" ry="2.1" fill="url(#g)" opacity="0.839" transform="rotate(21.9 33.0 173.4)"/>
<ellipse cx="17.0" cy="180.4" rx="5.4" ry="1.8" fill="url(#g)" opacity="0.756" transform="rotate(24.1 17.0 180.4)"/>
<ellipse cx="34.0" cy="180.4" rx="6.5" ry="1.9" fill="url(#g)" opacity="0.842" transform="rotate(22.7 34.0 180.4)"/>
<ellipse cx="40.0" cy="179.4" rx="4.9" ry="1.9" fill="url(#g)" opacity="0.858" transform="rotate(19.6 40.0 179.4)"/>
<ellipse cx="18.0" cy="187.4" rx="6.9" ry="1.8" fill="url(#g)" opacity="0.852" transform="rotate(22.1 18.0 187.4)"/>
<ellipse cx="30.0" cy="189.4" rx="5.5" ry="2.2" fill="url(#g)" opacity="0.812" transform="rotate(13.9 30.0 189.4)"/>
<ellipse cx="43.0" cy="189.4" rx="4.9" ry="1.8" fill="url(#g)" opacity="0.898" transform="rotate(23.9 43.0 189.4)"/>
<ellipse cx="23.0" cy="196.4" rx="6.7" ry="2.0" fill="url(#g)" opacity="0.825" transform="rotate(20.4 23.0 196.4)"/>
<ellipse cx="45.0" cy="197.4" rx="3.5" ry="1.8" fill="url(#g)" opacity="0.600" transform="rotate(15.0 45.0 197.4)"/>
<ellipse cx="53.0" cy="193.4" rx="6.2" ry="2.0" fill="url(#g)" opacity="0.600" transform="rotate(12.7 53.0 193.4)"/>
<ellipse cx="53.0" cy="193.4" rx="9.0" ry="3.5" fill="url(#g)" opacity="0.150" transform="rotate(12.0 53.0 193.4)"/>
<ellipse cx="63.0" cy="198.4" rx="5.8" ry="1.9" fill="url(#g)" opacity="0.450" transform="rotate(17.6 63.0 198.4)"/>
<ellipse cx="63.0" cy="198.4" rx="9.0" ry="3.5" fill="url(#g)" opacity="0.150" transform="rotate(12.0 63.0 198.4)"/>
<ellipse cx="68.0" cy="203.4" rx="6.5" ry="1.6" fill="url(#g)" opacity="0.500" transform="rotate(15.6 68.0 203.4)"/>
<ellipse cx="68.0" cy="203.4" rx="9.0" ry="3.5" fill="url(#g)" opacity="0.150" transform="rotate(12.0 68.0 203.4)"/>
<ellipse cx="56.0" cy="203.4" rx="5.5" ry="1.6" fill="url(#g)" opacity="0.700" transform="rotate(11.1 56.0 203.4)"/>
<ellipse cx="56.0" cy="203.4" rx="9.0" ry="3.5" fill="url(#g)" opacity="0.150" transform="rotate(12.0 56.0 203.4)"/>
<ellipse cx="15.0" cy="193.4" rx="5.0" ry="1.6" fill="url(#g)" opacity="0.550" transform="rotate(16.1 15.0 193.4)"/>
<ellipse cx="15.0" cy="193.4" rx="9.0" ry="3.5" fill="url(#g)" opacity="0.150" transform="rotate(12.0 15.0 193.4)"/>
<ellipse cx="26.0" cy="192.4" rx="6.6" ry="1.6" fill="url(#g)" opacity="0.600" transform="rotate(19.4 26.0 192.4)"/>
<ellipse cx="26.0" cy="192.4" rx="9.0" ry="3.5" fill="url(#g)" opacity="0.150" transform="rotate(12.0 26.0 192.4)"/>
<ellipse cx="50.0" cy="186.4" rx="5.9" ry="1.9" fill="url(#g)" opacity="0.500" transform="rotate(8.5 50.0 186.4)"/>
<ellipse cx="50.0" cy="186.4" rx="9.0" ry="3.5" fill="url(#g)" opacity="0.150" transform="rotate(12.0 50.0 186.4)"/>
<ellipse cx="60.0" cy="189.4" rx="5.2" ry="1.9" fill="url(#g)" opacity="0.400" transform="rotate(9.2 60.0 189.4)"/>
<ellipse cx="60.0" cy="189.4" rx="9.0" ry="3.5" fill="url(#g)" opacity="0.150" transform="rotate(12.0 60.0 189.4)"/>
<ellipse cx="12.0" cy="47.9" rx="3.5" ry="1.5" fill="url(#g)" opacity="0.850" transform="rotate(25.0 12.0 47.9)"/>
<ellipse cx="21.5" cy="50.4" rx="3.5" ry="2.0" fill="url(#g)" opacity="0.850" transform="rotate(15.0 21.5 50.4)"/>
<ellipse cx="18.0" cy="59.4" rx="2.5" ry="1.5" fill="url(#g)" opacity="0.700" transform="rotate(20.0 18.0 59.4)"/>
<ellipse cx="18.0" cy="65.9" rx="4.5" ry="1.8" fill="url(#g)" opacity="0.850" transform="rotate(30.0 18.0 65.9)"/>
<ellipse cx="25.0" cy="68.4" rx="3.0" ry="1.6" fill="url(#g)" opacity="0.600" transform="rotate(-15.0 25.0 68.4)"/>
<ellipse cx="16.0" cy="74.4" rx="3.0" ry="1.8" fill="url(#g)" opacity="0.800" transform="rotate(40.0 16.0 74.4)"/>
<ellipse cx="19.0" cy="80.4" rx="3.0" ry="2.0" fill="url(#g)" opacity="0.800" transform="rotate(50.0 19.0 80.4)"/>
<ellipse cx="22.0" cy="88.4" rx="3.0" ry="2.0" fill="url(#g)" opacity="0.800" transform="rotate(55.0 22.0 88.4)"/>
<ellipse cx="18.0" cy="95.4" rx="3.0" ry="2.0" fill="url(#g)" opacity="0.800" transform="rotate(55.0 18.0 95.4)"/>
<ellipse cx="52.0" cy="131.4" rx="8.0" ry="3.0" fill="url(#g)" opacity="0.920" transform="rotate(18.0 52.0 131.4)"/>
<ellipse cx="52.0" cy="131.9" rx="12.0" ry="5.5" fill="url(#g)" opacity="0.300" transform="rotate(18.0 52.0 131.9)"/>
<ellipse cx="65.5" cy="136.9" rx="11.1" ry="1.3" fill="url(#g)" opacity="0.220" transform="rotate(18.4 65.5 136.9)"/>
<ellipse cx="75.0" cy="171.9" rx="7.0" ry="2.0" fill="url(#g)" opacity="0.550" transform="rotate(10.0 75.0 171.9)"/>
<ellipse cx="79.0" cy="172.4" rx="16.5" ry="1.3" fill="url(#g)" opacity="0.220" transform="rotate(14.0 79.0 172.4)"/>
<ellipse cx="49.0" cy="144.9" rx="20.4" ry="1.4" fill="url(#g)" opacity="0.220" transform="rotate(21.5 49.0 144.9)"/>
<ellipse cx="56.5" cy="154.9" rx="24.7" ry="1.4" fill="url(#g)" opacity="0.200" transform="rotate(17.7 56.5 154.9)"/>
<ellipse cx="64.0" cy="166.4" rx="26.9" ry="1.3" fill="url(#g)" opacity="0.200" transform="rotate(15.1 64.0 166.4)"/>
<ellipse cx="69.5" cy="177.4" rx="27.0" ry="1.3" fill="url(#g)" opacity="0.200" transform="rotate(10.7 69.5 177.4)"/>
<ellipse cx="75.5" cy="185.4" rx="27.8" ry="1.3" fill="url(#g)" opacity="0.220" transform="rotate(8.3 75.5 185.4)"/>
<ellipse cx="83.0" cy="192.9" rx="30.2" ry="1.2" fill="url(#g)" opacity="0.200" transform="rotate(6.7 83.0 192.9)"/>
<ellipse cx="45.5" cy="123.9" rx="18.7" ry="1.3" fill="url(#g)" opacity="0.200" transform="rotate(20.4 45.5 123.9)"/>
<ellipse cx="42.0" cy="112.4" rx="16.8" ry="1.2" fill="url(#g)" opacity="0.180" transform="rotate(17.4 42.0 112.4)"/>
<ellipse cx="20.9" cy="189.0" rx="16.0" ry="1.6" fill="url(#g)" opacity="0.167" transform="rotate(17.0 20.9 189.0)"/>
<ellipse cx="75.9" cy="207.7" rx="36.9" ry="1.6" fill="url(#g)" opacity="0.174" transform="rotate(19.4 75.9 207.7)"/>
<ellipse cx="62.7" cy="202.3" rx="34.5" ry="1.6" fill="url(#g)" opacity="0.210" transform="rotate(14.1 62.7 202.3)"/>
<ellipse cx="55.4" cy="198.7" rx="30.0" ry="1.6" fill="url(#g)" opacity="0.290" transform="rotate(15.9 55.4 198.7)"/>
<ellipse cx="54.1" cy="162.6" rx="15.3" ry="1.2" fill="url(#g)" opacity="0.163" transform="rotate(18.9 54.1 162.6)"/>
<ellipse cx="62.9" cy="163.2" rx="21.3" ry="1.7" fill="url(#g)" opacity="0.292" transform="rotate(15.7 62.9 163.2)"/>
<ellipse cx="54.7" cy="182.6" rx="17.6" ry="1.3" fill="url(#g)" opacity="0.246" transform="rotate(23.6 54.7 182.6)"/>
<ellipse cx="70.3" cy="191.6" rx="34.9" ry="1.4" fill="url(#g)" opacity="0.256" transform="rotate(23.3 70.3 191.6)"/>
<ellipse cx="37.2" cy="182.3" rx="30.1" ry="1.4" fill="url(#g)" opacity="0.264" transform="rotate(15.3 37.2 182.3)"/>
<ellipse cx="30.9" cy="200.6" rx="18.2" ry="1.5" fill="url(#g)" opacity="0.185" transform="rotate(14.7 30.9 200.6)"/>
<ellipse cx="57.7" cy="177.3" rx="17.9" ry="1.4" fill="url(#g)" opacity="0.244" transform="rotate(20.0 57.7 177.3)"/>
<ellipse cx="29.5" cy="164.5" rx="21.6" ry="1.3" fill="url(#g)" opacity="0.181" transform="rotate(18.2 29.5 164.5)"/>
<ellipse cx="61.9" cy="174.8" rx="22.8" ry="1.7" fill="url(#g)" opacity="0.266" transform="rotate(22.5 61.9 174.8)"/>
<ellipse cx="26.0" cy="195.3" rx="17.0" ry="1.3" fill="url(#g)" opacity="0.183" transform="rotate(21.6 26.0 195.3)"/>
<ellipse cx="50.6" cy="172.8" rx="30.0" ry="1.5" fill="url(#g)" opacity="0.270" transform="rotate(21.9 50.6 172.8)"/>
<ellipse cx="43.6" cy="176.7" rx="33.8" ry="1.6" fill="url(#g)" opacity="0.235" transform="rotate(15.9 43.6 176.7)"/>
<ellipse cx="7.1" cy="134.4" rx="8.6" ry="1.5" fill="url(#g)" opacity="0.197" transform="rotate(33.8 7.1 134.4)"/>
<ellipse cx="6.3" cy="123.0" rx="7.6" ry="1.4" fill="url(#g)" opacity="0.211" transform="rotate(34.1 6.3 123.0)"/>
<ellipse cx="11.2" cy="143.0" rx="12.0" ry="1.3" fill="url(#g)" opacity="0.209" transform="rotate(21.1 11.2 143.0)"/>
<ellipse cx="10.7" cy="152.3" rx="11.6" ry="1.5" fill="url(#g)" opacity="0.241" transform="rotate(22.8 10.7 152.3)"/>
<ellipse cx="7.8" cy="150.0" rx="9.1" ry="1.2" fill="url(#g)" opacity="0.197" transform="rotate(31.9 7.8 150.0)"/>
<ellipse cx="10.4" cy="180.4" rx="12.2" ry="1.1" fill="url(#g)" opacity="0.166" transform="rotate(31.3 10.4 180.4)"/>
<ellipse cx="9.7" cy="129.8" rx="11.5" ry="1.1" fill="url(#g)" opacity="0.181" transform="rotate(32.7 9.7 129.8)"/>
<ellipse cx="8.4" cy="148.9" rx="8.9" ry="1.3" fill="url(#g)" opacity="0.244" transform="rotate(20.4 8.4 148.9)"/>
<ellipse cx="31.0" cy="201.4" rx="11.0" ry="3.5" fill="url(#g)" opacity="0.950" transform="rotate(10.0 31.0 201.4)"/>
<ellipse cx="41.0" cy="203.9" rx="8.0" ry="2.5" fill="url(#g)" opacity="0.800" transform="rotate(12.0 41.0 203.9)"/>
<ellipse cx="33.0" cy="201.4" rx="18.0" ry="7.0" fill="url(#g)" opacity="0.280" transform="rotate(10.0 33.0 201.4)"/>
<ellipse cx="23.0" cy="197.9" rx="4.0" ry="1.8" fill="url(#g)" opacity="0.700"/>
<ellipse cx="38.0" cy="197.9" rx="3.5" ry="1.8" fill="url(#g)" opacity="0.750"/>
<ellipse cx="48.0" cy="201.4" rx="4.0" ry="2.0" fill="url(#g)" opacity="0.550" transform="rotate(10.0 48.0 201.4)"/>
<ellipse cx="58.0" cy="196.4" rx="4.0" ry="2.0" fill="url(#g)" opacity="0.350" transform="rotate(10.0 58.0 196.4)"/>
<path d="M 0.0 207.7 C 28.0 208.4 58.0 210.4 88.0 210.8 L 151.0 211.0" fill="none" stroke="#fff" stroke-width="2.0" stroke-linecap="butt" opacity="0.880" filter="url(#b05)"/>
<ellipse cx="2.0" cy="207.7" rx="4.0" ry="1.5" fill="url(#g)" opacity="0.200"/>
<path d="M 0.0 210.6 L 48.0 211.0" fill="none" stroke="#fff" stroke-width="1.0" stroke-linecap="butt" opacity="0.330" filter="url(#b05)"/>
<path d="M 43.0 206.4 C 68.0 206.9 98.0 207.4 128.0 207.7" fill="none" stroke="#fff" stroke-width="1.0" stroke-linecap="butt" opacity="0.300" filter="url(#b05)"/>
<linearGradient id="lg0_575" gradientUnits="userSpaceOnUse" x1="28.0" y1="0" x2="118.0" y2="0"><stop offset="0" stop-color="#fff" stop-opacity="0.3"/><stop offset="1" stop-color="#fff" stop-opacity="0.58"/></linearGradient>
<path d="M 0.0 212.5 L 151.0 212.6" fill="none" stroke="url(#lg0_575)" stroke-width="1.5" filter="url(#b05)"/></g></g></svg><div class="bx" style="left:31.5px;top:32.1px;width:150.10000000000002px;height:214.5px"></div>
<svg class="hm" style="left:214.5px;top:32.6px" width="149.8" height="214.2" viewBox="0 0 149.8 214.2"><g filter="url(#jet)"><rect width="149.8" height="214.2" fill="rgb(3,3,3)"/><g class="add"><linearGradient id="vg1_0" gradientUnits="userSpaceOnUse" x1="0" y1="6.4" x2="0" y2="214.4"><stop offset="0.000" stop-color="#fff" stop-opacity="0.02"/><stop offset="0.111" stop-color="#fff" stop-opacity="0.02"/><stop offset="0.159" stop-color="#fff" stop-opacity="0.006"/><stop offset="0.293" stop-color="#fff" stop-opacity="0.006"/><stop offset="0.413" stop-color="#fff" stop-opacity="0.02"/><stop offset="1.000" stop-color="#fff" stop-opacity="0.02"/></linearGradient>
<rect x="0.0" y="6.4" width="150.0" height="208.0" fill="url(#vg1_0)"/>
<ellipse cx="142.7" cy="199.4" rx="17.5" ry="1.3" fill="url(#g)" opacity="0.038" transform="rotate(-0.3 142.7 199.4)"/>
<ellipse cx="94.8" cy="68.6" rx="42.3" ry="1.0" fill="url(#g)" opacity="0.029" transform="rotate(-0.4 94.8 68.6)"/>
<ellipse cx="149.3" cy="151.9" rx="57.7" ry="0.9" fill="url(#g)" opacity="0.016" transform="rotate(-0.0 149.3 151.9)"/>
<ellipse cx="75.1" cy="13.4" rx="29.3" ry="1.1" fill="url(#g)" opacity="0.035" transform="rotate(0.5 75.1 13.4)"/>
<ellipse cx="13.3" cy="55.0" rx="29.6" ry="1.6" fill="url(#g)" opacity="0.039" transform="rotate(-0.7 13.3 55.0)"/>
<ellipse cx="135.1" cy="43.9" rx="50.9" ry="1.4" fill="url(#g)" opacity="0.043" transform="rotate(0.7 135.1 43.9)"/>
<ellipse cx="147.3" cy="78.8" rx="58.3" ry="1.3" fill="url(#g)" opacity="0.031" transform="rotate(-0.1 147.3 78.8)"/>
<ellipse cx="78.6" cy="113.8" rx="56.6" ry="1.0" fill="url(#g)" opacity="0.046" transform="rotate(0.3 78.6 113.8)"/>
<ellipse cx="74.5" cy="187.1" rx="40.6" ry="1.1" fill="url(#g)" opacity="0.023" transform="rotate(0.9 74.5 187.1)"/>
<ellipse cx="107.9" cy="71.7" rx="22.5" ry="1.5" fill="url(#g)" opacity="0.026" transform="rotate(0.4 107.9 71.7)"/>
<ellipse cx="108.9" cy="199.0" rx="37.7" ry="1.2" fill="url(#g)" opacity="0.026" transform="rotate(0.3 108.9 199.0)"/>
<ellipse cx="81.7" cy="48.4" rx="57.0" ry="1.4" fill="url(#g)" opacity="0.040" transform="rotate(-0.3 81.7 48.4)"/>
<ellipse cx="36.8" cy="189.5" rx="48.5" ry="0.9" fill="url(#g)" opacity="0.023" transform="rotate(-0.3 36.8 189.5)"/>
<ellipse cx="24.9" cy="181.9" rx="38.5" ry="0.8" fill="url(#g)" opacity="0.046" transform="rotate(0.1 24.9 181.9)"/>
<ellipse cx="110.4" cy="91.8" rx="16.4" ry="1.3" fill="url(#g)" opacity="0.018" transform="rotate(-1.6 110.4 91.8)"/>
<ellipse cx="13.5" cy="198.5" rx="47.8" ry="1.4" fill="url(#g)" opacity="0.020" transform="rotate(-0.9 13.5 198.5)"/>
<ellipse cx="106.8" cy="45.1" rx="32.4" ry="0.8" fill="url(#g)" opacity="0.016" transform="rotate(0.1 106.8 45.1)"/>
<ellipse cx="96.1" cy="76.5" rx="48.4" ry="0.6" fill="url(#g)" opacity="0.031" transform="rotate(-0.7 96.1 76.5)"/>
<ellipse cx="113.6" cy="160.7" rx="55.6" ry="1.3" fill="url(#g)" opacity="0.032" transform="rotate(0.6 113.6 160.7)"/>
<ellipse cx="102.5" cy="52.9" rx="29.2" ry="1.5" fill="url(#g)" opacity="0.019" transform="rotate(-0.9 102.5 52.9)"/>
<ellipse cx="65.0" cy="125.2" rx="38.2" ry="0.9" fill="url(#g)" opacity="0.036" transform="rotate(0.2 65.0 125.2)"/>
<ellipse cx="12.5" cy="91.3" rx="40.1" ry="0.6" fill="url(#g)" opacity="0.021" transform="rotate(-1.1 12.5 91.3)"/>
<ellipse cx="98.9" cy="26.5" rx="37.9" ry="1.6" fill="url(#g)" opacity="0.023" transform="rotate(1.4 98.9 26.5)"/>
<ellipse cx="45.1" cy="96.5" rx="41.6" ry="1.3" fill="url(#g)" opacity="0.024" transform="rotate(0.6 45.1 96.5)"/>
<ellipse cx="83.7" cy="92.4" rx="15.2" ry="0.7" fill="url(#g)" opacity="0.040" transform="rotate(-2.1 83.7 92.4)"/>
<ellipse cx="24.0" cy="55.6" rx="23.2" ry="1.1" fill="url(#g)" opacity="0.031" transform="rotate(-1.4 24.0 55.6)"/>
<ellipse cx="99.8" cy="69.4" rx="24.6" ry="1.3" fill="url(#g)" opacity="0.030" transform="rotate(2.0 99.8 69.4)"/>
<ellipse cx="91.4" cy="109.8" rx="17.3" ry="0.8" fill="url(#g)" opacity="0.018" transform="rotate(-0.2 91.4 109.8)"/>
<ellipse cx="61.3" cy="167.6" rx="38.4" ry="0.9" fill="url(#g)" opacity="0.049" transform="rotate(0.8 61.3 167.6)"/>
<ellipse cx="12.7" cy="82.1" rx="45.8" ry="1.4" fill="url(#g)" opacity="0.039" transform="rotate(-0.7 12.7 82.1)"/>
<ellipse cx="73.2" cy="10.3" rx="33.5" ry="1.2" fill="url(#g)" opacity="0.018" transform="rotate(-0.5 73.2 10.3)"/>
<ellipse cx="62.2" cy="65.0" rx="57.1" ry="0.8" fill="url(#g)" opacity="0.035" transform="rotate(-0.2 62.2 65.0)"/>
<ellipse cx="74.9" cy="85.5" rx="48.9" ry="0.7" fill="url(#g)" opacity="0.018" transform="rotate(-0.6 74.9 85.5)"/>
<ellipse cx="99.7" cy="176.7" rx="58.2" ry="1.3" fill="url(#g)" opacity="0.042" transform="rotate(-0.3 99.7 176.7)"/>
<ellipse cx="79.7" cy="152.4" rx="31.1" ry="0.9" fill="url(#g)" opacity="0.033" transform="rotate(0.5 79.7 152.4)"/>
<ellipse cx="143.7" cy="102.8" rx="51.2" ry="0.9" fill="url(#g)" opacity="0.023" transform="rotate(0.9 143.7 102.8)"/>
<ellipse cx="46.3" cy="105.4" rx="34.2" ry="1.2" fill="url(#g)" opacity="0.044" transform="rotate(1.0 46.3 105.4)"/>
<ellipse cx="59.8" cy="26.9" rx="59.9" ry="0.7" fill="url(#g)" opacity="0.018" transform="rotate(-0.4 59.8 26.9)"/>
<ellipse cx="148.4" cy="186.7" rx="44.2" ry="0.8" fill="url(#g)" opacity="0.038" transform="rotate(-0.7 148.4 186.7)"/>
<ellipse cx="71.4" cy="144.0" rx="38.6" ry="1.5" fill="url(#g)" opacity="0.041" transform="rotate(-0.5 71.4 144.0)"/>
<ellipse cx="82.3" cy="27.3" rx="47.2" ry="1.1" fill="url(#g)" opacity="0.040" transform="rotate(0.2 82.3 27.3)"/>
<ellipse cx="149.3" cy="87.8" rx="50.2" ry="1.0" fill="url(#g)" opacity="0.016" transform="rotate(-0.3 149.3 87.8)"/>
<ellipse cx="133.5" cy="126.4" rx="23.1" ry="1.0" fill="url(#g)" opacity="0.040" transform="rotate(-0.0 133.5 126.4)"/>
<ellipse cx="108.8" cy="194.1" rx="36.3" ry="1.3" fill="url(#g)" opacity="0.038" transform="rotate(0.5 108.8 194.1)"/>
<ellipse cx="129.3" cy="159.5" rx="25.1" ry="1.3" fill="url(#g)" opacity="0.049" transform="rotate(0.1 129.3 159.5)"/>
<ellipse cx="11.6" cy="134.5" rx="35.9" ry="1.3" fill="url(#g)" opacity="0.044" transform="rotate(0.9 11.6 134.5)"/>
<ellipse cx="142.1" cy="11.1" rx="47.8" ry="1.5" fill="url(#g)" opacity="0.019" transform="rotate(0.6 142.1 11.1)"/>
<ellipse cx="117.4" cy="170.4" rx="24.0" ry="0.8" fill="url(#g)" opacity="0.043" transform="rotate(0.8 117.4 170.4)"/>
<ellipse cx="95.7" cy="35.3" rx="34.5" ry="1.1" fill="url(#g)" opacity="0.022" transform="rotate(-0.3 95.7 35.3)"/>
<ellipse cx="20.2" cy="201.1" rx="15.1" ry="1.3" fill="url(#g)" opacity="0.041" transform="rotate(1.2 20.2 201.1)"/>
<ellipse cx="104.5" cy="104.6" rx="30.1" ry="0.6" fill="url(#g)" opacity="0.018" transform="rotate(-0.4 104.5 104.6)"/>
<ellipse cx="34.3" cy="157.8" rx="48.8" ry="1.3" fill="url(#g)" opacity="0.043" transform="rotate(0.2 34.3 157.8)"/>
<ellipse cx="28.9" cy="180.3" rx="22.3" ry="0.9" fill="url(#g)" opacity="0.015" transform="rotate(-0.4 28.9 180.3)"/>
<ellipse cx="145.4" cy="118.7" rx="31.5" ry="1.0" fill="url(#g)" opacity="0.045" transform="rotate(-0.1 145.4 118.7)"/>
<ellipse cx="100.9" cy="69.5" rx="36.8" ry="0.7" fill="url(#g)" opacity="0.044" transform="rotate(0.7 100.9 69.5)"/>
<ellipse cx="100.5" cy="68.0" rx="50.8" ry="1.4" fill="url(#g)" opacity="0.018" transform="rotate(0.1 100.5 68.0)"/>
<ellipse cx="64.8" cy="134.0" rx="38.9" ry="1.2" fill="url(#g)" opacity="0.026" transform="rotate(1.0 64.8 134.0)"/>
<ellipse cx="74.1" cy="54.7" rx="25.4" ry="0.7" fill="url(#g)" opacity="0.044" transform="rotate(0.5 74.1 54.7)"/>
<ellipse cx="61.0" cy="83.6" rx="29.3" ry="0.8" fill="url(#g)" opacity="0.030" transform="rotate(-0.9 61.0 83.6)"/>
<ellipse cx="135.2" cy="66.0" rx="56.5" ry="1.5" fill="url(#g)" opacity="0.026" transform="rotate(0.1 135.2 66.0)"/>
<ellipse cx="43.3" cy="27.0" rx="23.5" ry="1.0" fill="url(#g)" opacity="0.043" transform="rotate(0.1 43.3 27.0)"/>
<ellipse cx="123.2" cy="54.5" rx="43.5" ry="0.9" fill="url(#g)" opacity="0.046" transform="rotate(0.3 123.2 54.5)"/>
<ellipse cx="80.4" cy="192.4" rx="46.1" ry="1.4" fill="url(#g)" opacity="0.045" transform="rotate(0.9 80.4 192.4)"/>
<ellipse cx="115.5" cy="194.8" rx="59.1" ry="1.3" fill="url(#g)" opacity="0.028" transform="rotate(-0.1 115.5 194.8)"/>
<ellipse cx="34.5" cy="86.6" rx="58.1" ry="1.5" fill="url(#g)" opacity="0.022" transform="rotate(-0.2 34.5 86.6)"/>
<ellipse cx="27.8" cy="199.5" rx="16.3" ry="1.5" fill="url(#g)" opacity="0.046" transform="rotate(-1.0 27.8 199.5)"/>
<ellipse cx="71.1" cy="160.3" rx="39.4" ry="1.0" fill="url(#g)" opacity="0.025" transform="rotate(0.1 71.1 160.3)"/>
<ellipse cx="31.1" cy="134.1" rx="29.2" ry="0.7" fill="url(#g)" opacity="0.022" transform="rotate(0.0 31.1 134.1)"/>
<ellipse cx="68.9" cy="57.5" rx="26.3" ry="0.8" fill="url(#g)" opacity="0.036" transform="rotate(-0.9 68.9 57.5)"/>
<ellipse cx="62.2" cy="74.8" rx="49.6" ry="1.5" fill="url(#g)" opacity="0.030" transform="rotate(-0.9 62.2 74.8)"/>
<ellipse cx="28.6" cy="162.7" rx="38.5" ry="1.4" fill="url(#g)" opacity="0.036" transform="rotate(0.3 28.6 162.7)"/>
<ellipse cx="149.6" cy="86.5" rx="32.7" ry="0.9" fill="url(#g)" opacity="0.044" transform="rotate(0.2 149.6 86.5)"/>
<ellipse cx="92.3" cy="126.9" rx="39.2" ry="1.4" fill="url(#g)" opacity="0.031" transform="rotate(1.4 92.3 126.9)"/>
<ellipse cx="83.5" cy="90.6" rx="17.1" ry="0.7" fill="url(#g)" opacity="0.048" transform="rotate(0.3 83.5 90.6)"/>
<ellipse cx="138.1" cy="143.8" rx="18.5" ry="0.6" fill="url(#g)" opacity="0.019" transform="rotate(0.3 138.1 143.8)"/>
<ellipse cx="34.2" cy="77.0" rx="21.6" ry="1.6" fill="url(#g)" opacity="0.038" transform="rotate(-0.6 34.2 77.0)"/>
<ellipse cx="135.8" cy="17.4" rx="25.9" ry="0.7" fill="url(#g)" opacity="0.033" transform="rotate(0.1 135.8 17.4)"/>
<ellipse cx="37.9" cy="19.2" rx="56.3" ry="1.3" fill="url(#g)" opacity="0.046" transform="rotate(0.4 37.9 19.2)"/>
<ellipse cx="78.9" cy="35.4" rx="20.9" ry="0.8" fill="url(#g)" opacity="0.017" transform="rotate(-2.1 78.9 35.4)"/>
<ellipse cx="63.1" cy="50.5" rx="43.0" ry="1.3" fill="url(#g)" opacity="0.033" transform="rotate(1.0 63.1 50.5)"/>
<ellipse cx="32.8" cy="190.6" rx="19.8" ry="0.8" fill="url(#g)" opacity="0.028" transform="rotate(1.3 32.8 190.6)"/>
<ellipse cx="70.3" cy="67.3" rx="34.2" ry="1.4" fill="url(#g)" opacity="0.035" transform="rotate(0.3 70.3 67.3)"/>
<ellipse cx="49.8" cy="101.2" rx="49.4" ry="1.3" fill="url(#g)" opacity="0.039" transform="rotate(0.3 49.8 101.2)"/>
<ellipse cx="14.3" cy="139.0" rx="39.8" ry="1.2" fill="url(#g)" opacity="0.038" transform="rotate(-0.9 14.3 139.0)"/>
<ellipse cx="113.9" cy="132.1" rx="46.6" ry="1.4" fill="url(#g)" opacity="0.044" transform="rotate(-0.6 113.9 132.1)"/>
<ellipse cx="93.7" cy="174.4" rx="16.7" ry="1.2" fill="url(#g)" opacity="0.034" transform="rotate(-2.4 93.7 174.4)"/>
<ellipse cx="143.8" cy="44.3" rx="59.0" ry="0.9" fill="url(#g)" opacity="0.022" transform="rotate(0.4 143.8 44.3)"/>
<ellipse cx="108.1" cy="171.9" rx="27.5" ry="1.0" fill="url(#g)" opacity="0.030" transform="rotate(1.0 108.1 171.9)"/>
<ellipse cx="73.8" cy="152.1" rx="44.7" ry="0.9" fill="url(#g)" opacity="0.047" transform="rotate(-0.2 73.8 152.1)"/>
<ellipse cx="56.7" cy="50.4" rx="39.2" ry="1.5" fill="url(#g)" opacity="0.022" transform="rotate(-0.1 56.7 50.4)"/>
<ellipse cx="107.1" cy="161.8" rx="50.4" ry="0.9" fill="url(#g)" opacity="0.032" transform="rotate(-0.1 107.1 161.8)"/>
<ellipse cx="36.7" cy="58.6" rx="36.4" ry="1.2" fill="url(#g)" opacity="0.026" transform="rotate(-0.5 36.7 58.6)"/>
<ellipse cx="94.7" cy="41.9" rx="53.7" ry="1.3" fill="url(#g)" opacity="0.046" transform="rotate(-0.2 94.7 41.9)"/>
<ellipse cx="53.1" cy="143.3" rx="24.3" ry="0.6" fill="url(#g)" opacity="0.045" transform="rotate(0.3 53.1 143.3)"/>
<ellipse cx="53.8" cy="47.4" rx="29.4" ry="0.9" fill="url(#g)" opacity="0.030" transform="rotate(-0.0 53.8 47.4)"/>
<ellipse cx="126.7" cy="90.8" rx="15.8" ry="0.8" fill="url(#g)" opacity="0.036" transform="rotate(-1.0 126.7 90.8)"/>
<ellipse cx="19.1" cy="82.3" rx="41.5" ry="1.1" fill="url(#g)" opacity="0.043" transform="rotate(0.8 19.1 82.3)"/>
<ellipse cx="31.2" cy="190.5" rx="28.5" ry="0.8" fill="url(#g)" opacity="0.040" transform="rotate(1.8 31.2 190.5)"/>
<ellipse cx="92.8" cy="182.0" rx="46.6" ry="0.8" fill="url(#g)" opacity="0.017" transform="rotate(-0.3 92.8 182.0)"/>
<ellipse cx="29.4" cy="140.6" rx="43.0" ry="1.6" fill="url(#g)" opacity="0.029" transform="rotate(-0.2 29.4 140.6)"/>
<ellipse cx="63.2" cy="102.7" rx="24.7" ry="1.4" fill="url(#g)" opacity="0.018" transform="rotate(-0.6 63.2 102.7)"/>
<ellipse cx="104.4" cy="196.2" rx="17.4" ry="1.1" fill="url(#g)" opacity="0.019" transform="rotate(0.4 104.4 196.2)"/>
<ellipse cx="82.8" cy="109.6" rx="50.2" ry="1.3" fill="url(#g)" opacity="0.023" transform="rotate(0.3 82.8 109.6)"/>
<ellipse cx="77.0" cy="12.5" rx="20.8" ry="1.1" fill="url(#g)" opacity="0.037" transform="rotate(-1.5 77.0 12.5)"/>
<ellipse cx="142.0" cy="136.2" rx="19.6" ry="1.3" fill="url(#g)" opacity="0.030" transform="rotate(-1.0 142.0 136.2)"/>
<ellipse cx="53.5" cy="35.9" rx="44.7" ry="1.0" fill="url(#g)" opacity="0.027" transform="rotate(0.5 53.5 35.9)"/>
<ellipse cx="94.8" cy="191.5" rx="19.8" ry="1.5" fill="url(#g)" opacity="0.037" transform="rotate(0.4 94.8 191.5)"/>
<ellipse cx="135.4" cy="167.4" rx="37.9" ry="0.9" fill="url(#g)" opacity="0.044" transform="rotate(-0.0 135.4 167.4)"/>
<ellipse cx="104.1" cy="9.2" rx="60.0" ry="0.7" fill="url(#g)" opacity="0.034" transform="rotate(0.6 104.1 9.2)"/>
<ellipse cx="71.0" cy="128.7" rx="33.9" ry="0.6" fill="url(#g)" opacity="0.036" transform="rotate(-0.1 71.0 128.7)"/>
<ellipse cx="125.8" cy="201.3" rx="45.3" ry="0.6" fill="url(#g)" opacity="0.024" transform="rotate(0.3 125.8 201.3)"/>
<ellipse cx="135.3" cy="164.2" rx="33.1" ry="1.2" fill="url(#g)" opacity="0.017" transform="rotate(0.0 135.3 164.2)"/>
<ellipse cx="36.6" cy="54.2" rx="15.3" ry="0.9" fill="url(#g)" opacity="0.038" transform="rotate(-0.4 36.6 54.2)"/>
<ellipse cx="82.4" cy="18.4" rx="38.7" ry="0.7" fill="url(#g)" opacity="0.030" transform="rotate(0.5 82.4 18.4)"/>
<ellipse cx="62.2" cy="99.3" rx="58.8" ry="1.0" fill="url(#g)" opacity="0.030" transform="rotate(0.1 62.2 99.3)"/>
<ellipse cx="121.9" cy="198.0" rx="44.1" ry="0.7" fill="url(#g)" opacity="0.027" transform="rotate(-0.3 121.9 198.0)"/>
<ellipse cx="108.7" cy="11.9" rx="59.0" ry="0.9" fill="url(#g)" opacity="0.030" transform="rotate(0.2 108.7 11.9)"/>
<ellipse cx="69.2" cy="100.8" rx="27.1" ry="1.6" fill="url(#g)" opacity="0.044" transform="rotate(-0.1 69.2 100.8)"/>
<ellipse cx="13.9" cy="131.8" rx="28.6" ry="1.1" fill="url(#g)" opacity="0.035" transform="rotate(1.6 13.9 131.8)"/>
<ellipse cx="44.6" cy="145.2" rx="47.0" ry="1.1" fill="url(#g)" opacity="0.038" transform="rotate(0.3 44.6 145.2)"/>
<ellipse cx="84.9" cy="118.4" rx="35.7" ry="1.0" fill="url(#g)" opacity="0.033" transform="rotate(1.1 84.9 118.4)"/>
<ellipse cx="114.6" cy="186.1" rx="44.4" ry="1.2" fill="url(#g)" opacity="0.037" transform="rotate(0.1 114.6 186.1)"/>
<ellipse cx="144.8" cy="98.5" rx="58.5" ry="1.4" fill="url(#g)" opacity="0.039" transform="rotate(0.0 144.8 98.5)"/>
<ellipse cx="121.8" cy="80.5" rx="30.7" ry="1.2" fill="url(#g)" opacity="0.029" transform="rotate(-0.4 121.8 80.5)"/>
<ellipse cx="148.3" cy="107.7" rx="51.4" ry="1.2" fill="url(#g)" opacity="0.029" transform="rotate(0.4 148.3 107.7)"/>
<ellipse cx="119.7" cy="136.8" rx="55.3" ry="1.0" fill="url(#g)" opacity="0.016" transform="rotate(0.3 119.7 136.8)"/>
<ellipse cx="26.0" cy="98.6" rx="57.4" ry="1.3" fill="url(#g)" opacity="0.021" transform="rotate(-0.0 26.0 98.6)"/>
<ellipse cx="55.6" cy="173.9" rx="18.6" ry="1.5" fill="url(#g)" opacity="0.031" transform="rotate(0.0 55.6 173.9)"/>
<ellipse cx="12.6" cy="26.5" rx="16.4" ry="0.7" fill="url(#g)" opacity="0.027" transform="rotate(0.7 12.6 26.5)"/>
<ellipse cx="135.7" cy="102.8" rx="58.7" ry="1.2" fill="url(#g)" opacity="0.023" transform="rotate(0.5 135.7 102.8)"/>
<ellipse cx="33.2" cy="129.6" rx="28.6" ry="1.3" fill="url(#g)" opacity="0.031" transform="rotate(0.8 33.2 129.6)"/>
<ellipse cx="80.5" cy="63.9" rx="40.8" ry="1.6" fill="url(#g)" opacity="0.021" transform="rotate(0.1 80.5 63.9)"/>
<ellipse cx="123.6" cy="56.2" rx="47.5" ry="0.8" fill="url(#g)" opacity="0.045" transform="rotate(-0.2 123.6 56.2)"/>
<ellipse cx="81.5" cy="125.0" rx="22.3" ry="1.0" fill="url(#g)" opacity="0.021" transform="rotate(-0.3 81.5 125.0)"/>
<ellipse cx="108.0" cy="46.8" rx="56.6" ry="1.4" fill="url(#g)" opacity="0.020" transform="rotate(0.5 108.0 46.8)"/>
<ellipse cx="108.5" cy="50.1" rx="15.1" ry="0.8" fill="url(#g)" opacity="0.021" transform="rotate(-0.5 108.5 50.1)"/>
<ellipse cx="127.2" cy="85.9" rx="15.5" ry="1.2" fill="url(#g)" opacity="0.032" transform="rotate(0.7 127.2 85.9)"/>
<ellipse cx="144.2" cy="31.8" rx="22.9" ry="1.1" fill="url(#g)" opacity="0.049" transform="rotate(1.7 144.2 31.8)"/>
<ellipse cx="30.7" cy="20.7" rx="36.8" ry="1.1" fill="url(#g)" opacity="0.043" transform="rotate(-0.2 30.7 20.7)"/>
<ellipse cx="13.8" cy="64.9" rx="55.1" ry="0.7" fill="url(#g)" opacity="0.036" transform="rotate(-0.4 13.8 64.9)"/>
<ellipse cx="37.7" cy="100.6" rx="16.8" ry="0.8" fill="url(#g)" opacity="0.023" transform="rotate(0.4 37.7 100.6)"/>
<ellipse cx="98.9" cy="131.3" rx="51.2" ry="0.8" fill="url(#g)" opacity="0.047" transform="rotate(0.6 98.9 131.3)"/>
<ellipse cx="26.7" cy="12.9" rx="19.7" ry="1.5" fill="url(#g)" opacity="0.049" transform="rotate(0.8 26.7 12.9)"/>
<ellipse cx="96.0" cy="197.6" rx="30.8" ry="0.8" fill="url(#g)" opacity="0.034" transform="rotate(1.3 96.0 197.6)"/>
<ellipse cx="12.4" cy="11.6" rx="43.8" ry="1.4" fill="url(#g)" opacity="0.020" transform="rotate(0.8 12.4 11.6)"/>
<ellipse cx="147.4" cy="154.8" rx="45.5" ry="0.7" fill="url(#g)" opacity="0.037" transform="rotate(-0.3 147.4 154.8)"/>
<ellipse cx="26.1" cy="199.2" rx="51.9" ry="1.4" fill="url(#g)" opacity="0.020" transform="rotate(0.3 26.1 199.2)"/>
<ellipse cx="89.3" cy="67.1" rx="54.6" ry="1.5" fill="url(#g)" opacity="0.035" transform="rotate(-0.4 89.3 67.1)"/>
<ellipse cx="42.2" cy="163.3" rx="30.1" ry="1.0" fill="url(#g)" opacity="0.029" transform="rotate(-1.4 42.2 163.3)"/>
<ellipse cx="126.7" cy="138.5" rx="30.0" ry="0.9" fill="url(#g)" opacity="0.021" transform="rotate(1.1 126.7 138.5)"/>
<ellipse cx="76.5" cy="18.4" rx="78.0" ry="11.0" fill="url(#f)" opacity="0.065"/>
<path d="M 1.5 27.4 C 7.5 17.4 13.5 12.4 20.5 12.4 C 25.5 12.4 28.5 17.4 31.5 23.4" fill="none" stroke="#fff" stroke-width="2.0" stroke-linecap="butt" opacity="0.080" filter="url(#b05)"/>
<ellipse cx="20.5" cy="14.4" rx="4.0" ry="2.5" fill="url(#g)" opacity="0.120"/>
<path d="M 21.5 15.4 C 35.5 17.4 45.5 23.4 57.5 27.4" fill="none" stroke="#fff" stroke-width="1.5" stroke-linecap="butt" opacity="0.060" filter="url(#b05)"/>
<ellipse cx="4.0" cy="23.4" rx="5.8" ry="2.6" fill="url(#g)" opacity="0.220" transform="rotate(59.0 4.0 23.4)"/>
<ellipse cx="52.2" cy="28.0" rx="3.7" ry="1.0" fill="url(#g)" opacity="0.056" transform="rotate(-35.0 52.2 28.0)"/>
<ellipse cx="52.0" cy="22.8" rx="3.7" ry="1.0" fill="url(#g)" opacity="0.082" transform="rotate(-35.0 52.0 22.8)"/>
<ellipse cx="42.0" cy="28.4" rx="3.7" ry="1.0" fill="url(#g)" opacity="0.054" transform="rotate(-35.0 42.0 28.4)"/>
<ellipse cx="48.5" cy="28.6" rx="3.7" ry="1.0" fill="url(#g)" opacity="0.060" transform="rotate(-35.0 48.5 28.6)"/>
<ellipse cx="52.9" cy="28.1" rx="3.7" ry="1.0" fill="url(#g)" opacity="0.077" transform="rotate(-35.0 52.9 28.1)"/>
<ellipse cx="32.9" cy="26.4" rx="3.7" ry="1.0" fill="url(#g)" opacity="0.084" transform="rotate(-35.0 32.9 26.4)"/>
<ellipse cx="43.7" cy="26.0" rx="3.7" ry="1.0" fill="url(#g)" opacity="0.062" transform="rotate(35.0 43.7 26.0)"/>
<ellipse cx="33.8" cy="25.3" rx="3.7" ry="1.0" fill="url(#g)" opacity="0.087" transform="rotate(-35.0 33.8 25.3)"/>
<ellipse cx="31.3" cy="26.9" rx="3.7" ry="1.0" fill="url(#g)" opacity="0.071" transform="rotate(35.0 31.3 26.9)"/>
<ellipse cx="24.8" cy="23.1" rx="3.7" ry="1.0" fill="url(#g)" opacity="0.097" transform="rotate(-35.0 24.8 23.1)"/>
<ellipse cx="9.5" cy="28.4" rx="7.8" ry="1.0" fill="url(#g)" opacity="0.180" transform="rotate(39.8 9.5 28.4)"/>
<ellipse cx="80.0" cy="24.6" rx="69.5" ry="1.0" fill="url(#g)" opacity="0.050" transform="rotate(0.6 80.0 24.6)"/>
<linearGradient id="lg1_169" gradientUnits="userSpaceOnUse" x1="20.5" y1="0" x2="149.5" y2="0"><stop offset="0" stop-color="#fff" stop-opacity="0.13"/><stop offset="1" stop-color="#fff" stop-opacity="0.06"/></linearGradient>
<path d="M 16.5 34.4 L 149.5 35.0" fill="none" stroke="url(#lg1_169)" stroke-width="1.2" filter="url(#b05)"/>
<ellipse cx="14.0" cy="35.4" rx="2.6" ry="7.0" fill="url(#g)" opacity="0.450" transform="rotate(-8.0 14.0 35.4)"/>
<ellipse cx="14.0" cy="35.9" rx="5.0" ry="10.0" fill="url(#g)" opacity="0.200" transform="rotate(-8.0 14.0 35.9)"/>
<ellipse cx="11.0" cy="47.9" rx="3.0" ry="2.0" fill="url(#g)" opacity="0.850" transform="rotate(20.0 11.0 47.9)"/>
<ellipse cx="13.5" cy="48.4" rx="10.0" ry="4.5" fill="url(#g)" opacity="0.300" transform="rotate(15.0 13.5 48.4)"/>
<ellipse cx="7.5" cy="51.4" rx="2.0" ry="1.5" fill="url(#g)" opacity="0.350"/>
<ellipse cx="15.5" cy="48.9" rx="11.0" ry="1.0" fill="url(#g)" opacity="0.200" transform="rotate(24.2 15.5 48.9)"/>
<ellipse cx="28.0" cy="60.9" rx="7.4" ry="2.2" fill="url(#g)" opacity="0.550" transform="rotate(28.3 28.0 60.9)"/>
<ellipse cx="13.0" cy="48.4" rx="9.9" ry="1.3" fill="url(#g)" opacity="0.330" transform="rotate(30.5 13.0 48.4)"/>
<ellipse cx="11.5" cy="53.4" rx="8.9" ry="1.2" fill="url(#g)" opacity="0.280" transform="rotate(26.6 11.5 53.4)"/>
<ellipse cx="12.5" cy="49.4" rx="6.4" ry="1.2" fill="url(#g)" opacity="0.280" transform="rotate(-38.7 12.5 49.4)"/>
<ellipse cx="20.5" cy="53.4" rx="16.3" ry="1.6" fill="url(#g)" opacity="0.320" transform="rotate(47.5 20.5 53.4)"/>
<ellipse cx="6.5" cy="52.4" rx="7.1" ry="1.0" fill="url(#g)" opacity="0.220" transform="rotate(45.0 6.5 52.4)"/>
<ellipse cx="14.0" cy="38.4" rx="5.6" ry="1.6" fill="url(#g)" opacity="0.300" transform="rotate(63.4 14.0 38.4)"/>
<ellipse cx="23.5" cy="54.4" rx="8.5" ry="1.1" fill="url(#g)" opacity="0.220" transform="rotate(20.6 23.5 54.4)"/>
<ellipse cx="9.5" cy="51.4" rx="2.5" ry="1.8" fill="url(#g)" opacity="0.500"/>
<ellipse cx="28.5" cy="64.4" rx="3.0" ry="1.8" fill="url(#g)" opacity="0.700" transform="rotate(15.0 28.5 64.4)"/>
<ellipse cx="31.0" cy="68.4" rx="5.6" ry="1.8" fill="url(#h)" opacity="0.540" transform="rotate(10.3 31.0 68.4)"/>
<ellipse cx="33.0" cy="68.7" rx="11.6" ry="6.3" fill="url(#g)" opacity="0.378" transform="rotate(6.2 33.0 68.7)"/>
<ellipse cx="59.5" cy="70.5" rx="26.0" ry="1.4" fill="url(#g)" opacity="0.264" transform="rotate(3.6 59.5 70.5)"/>
<ellipse cx="31.5" cy="77.4" rx="7.1" ry="1.9" fill="url(#h)" opacity="0.540" transform="rotate(8.1 31.5 77.4)"/>
<ellipse cx="33.5" cy="77.7" rx="13.1" ry="6.4" fill="url(#g)" opacity="0.378" transform="rotate(5.5 33.5 77.7)"/>
<ellipse cx="53.5" cy="79.4" rx="18.1" ry="1.3" fill="url(#g)" opacity="0.305" transform="rotate(4.8 53.5 79.4)"/>
<ellipse cx="35.5" cy="83.4" rx="6.1" ry="1.7" fill="url(#h)" opacity="0.468" transform="rotate(9.5 35.5 83.4)"/>
<ellipse cx="37.5" cy="83.7" rx="12.1" ry="6.2" fill="url(#g)" opacity="0.328" transform="rotate(5.9 37.5 83.7)"/>
<ellipse cx="62.3" cy="86.8" rx="24.0" ry="1.4" fill="url(#g)" opacity="0.250" transform="rotate(6.8 62.3 86.8)"/>
<ellipse cx="37.0" cy="89.4" rx="5.6" ry="1.5" fill="url(#h)" opacity="0.300" transform="rotate(10.3 37.0 89.4)"/>
<ellipse cx="39.0" cy="89.7" rx="11.6" ry="6.0" fill="url(#g)" opacity="0.210" transform="rotate(6.2 39.0 89.7)"/>
<ellipse cx="64.9" cy="92.0" rx="25.5" ry="1.5" fill="url(#g)" opacity="0.270" transform="rotate(4.6 64.9 92.0)"/>
<ellipse cx="38.5" cy="96.4" rx="5.1" ry="1.7" fill="url(#h)" opacity="0.468" transform="rotate(11.3 38.5 96.4)"/>
<ellipse cx="40.5" cy="96.7" rx="11.1" ry="6.2" fill="url(#g)" opacity="0.328" transform="rotate(6.5 40.5 96.7)"/>
<ellipse cx="58.0" cy="98.1" rx="17.6" ry="1.5" fill="url(#g)" opacity="0.280" transform="rotate(4.0 58.0 98.1)"/>
<ellipse cx="42.5" cy="105.9" rx="6.1" ry="1.8" fill="url(#h)" opacity="0.540" transform="rotate(9.5 42.5 105.9)"/>
<ellipse cx="44.5" cy="106.2" rx="12.1" ry="6.3" fill="url(#g)" opacity="0.378" transform="rotate(5.9 44.5 106.2)"/>
<ellipse cx="66.8" cy="108.9" rx="21.4" ry="1.5" fill="url(#g)" opacity="0.304" transform="rotate(6.7 66.8 108.9)"/>
<ellipse cx="45.0" cy="112.4" rx="6.6" ry="1.7" fill="url(#h)" opacity="0.450" transform="rotate(8.7 45.0 112.4)"/>
<ellipse cx="47.0" cy="112.7" rx="12.6" ry="6.2" fill="url(#g)" opacity="0.315" transform="rotate(5.7 47.0 112.7)"/>
<ellipse cx="69.3" cy="115.4" rx="20.9" ry="1.8" fill="url(#g)" opacity="0.378" transform="rotate(6.8 69.3 115.4)"/>
<ellipse cx="48.0" cy="117.4" rx="8.6" ry="1.7" fill="url(#h)" opacity="0.480" transform="rotate(6.7 48.0 117.4)"/>
<ellipse cx="50.0" cy="117.7" rx="14.6" ry="6.2" fill="url(#g)" opacity="0.336" transform="rotate(4.9 50.0 117.7)"/>
<ellipse cx="69.6" cy="119.7" rx="16.2" ry="1.5" fill="url(#g)" opacity="0.325" transform="rotate(6.6 69.6 119.7)"/>
<ellipse cx="49.5" cy="123.4" rx="7.1" ry="2.0" fill="url(#h)" opacity="0.528" transform="rotate(8.1 49.5 123.4)"/>
<ellipse cx="51.5" cy="123.7" rx="13.1" ry="6.5" fill="url(#g)" opacity="0.370" transform="rotate(5.5 51.5 123.7)"/>
<ellipse cx="74.9" cy="126.0" rx="21.5" ry="1.5" fill="url(#g)" opacity="0.259" transform="rotate(5.5 74.9 126.0)"/>
<ellipse cx="52.5" cy="130.4" rx="7.1" ry="2.6" fill="url(#h)" opacity="0.552" transform="rotate(8.1 52.5 130.4)"/>
<ellipse cx="54.5" cy="130.7" rx="13.1" ry="7.1" fill="url(#g)" opacity="0.386" transform="rotate(5.5 54.5 130.7)"/>
<ellipse cx="70.1" cy="132.6" rx="13.7" ry="1.9" fill="url(#g)" opacity="0.310" transform="rotate(7.1 70.1 132.6)"/>
<ellipse cx="52.0" cy="139.9" rx="5.6" ry="1.8" fill="url(#h)" opacity="0.510" transform="rotate(10.3 52.0 139.9)"/>
<ellipse cx="54.0" cy="140.2" rx="11.6" ry="6.3" fill="url(#g)" opacity="0.357" transform="rotate(6.2 54.0 140.2)"/>
<ellipse cx="69.3" cy="142.1" rx="14.9" ry="1.7" fill="url(#g)" opacity="0.311" transform="rotate(6.7 69.3 142.1)"/>
<ellipse cx="58.0" cy="147.4" rx="7.6" ry="1.9" fill="url(#h)" opacity="0.540" transform="rotate(7.6 58.0 147.4)"/>
<ellipse cx="60.0" cy="147.7" rx="13.6" ry="6.4" fill="url(#g)" opacity="0.378" transform="rotate(5.3 60.0 147.7)"/>
<ellipse cx="85.6" cy="149.3" rx="23.1" ry="1.5" fill="url(#g)" opacity="0.356" transform="rotate(3.5 85.6 149.3)"/>
<ellipse cx="68.0" cy="143.9" rx="8.6" ry="1.3" fill="url(#h)" opacity="0.330" transform="rotate(6.7 68.0 143.9)"/>
<ellipse cx="70.0" cy="144.2" rx="14.6" ry="5.8" fill="url(#g)" opacity="0.231" transform="rotate(4.9 70.0 144.2)"/>
<ellipse cx="98.0" cy="147.7" rx="24.7" ry="1.6" fill="url(#g)" opacity="0.376" transform="rotate(7.6 98.0 147.7)"/>
<ellipse cx="63.0" cy="153.4" rx="8.6" ry="1.6" fill="url(#h)" opacity="0.270" transform="rotate(6.7 63.0 153.4)"/>
<ellipse cx="65.0" cy="153.7" rx="14.6" ry="6.1" fill="url(#g)" opacity="0.189" transform="rotate(4.9 65.0 153.7)"/>
<ellipse cx="95.3" cy="156.4" rx="26.9" ry="1.9" fill="url(#g)" opacity="0.271" transform="rotate(5.3 95.3 156.4)"/>
<ellipse cx="65.5" cy="157.4" rx="6.1" ry="1.8" fill="url(#h)" opacity="0.480" transform="rotate(9.5 65.5 157.4)"/>
<ellipse cx="67.5" cy="157.7" rx="12.1" ry="6.3" fill="url(#g)" opacity="0.336" transform="rotate(5.9 67.5 157.7)"/>
<ellipse cx="83.1" cy="159.6" rx="14.7" ry="1.4" fill="url(#g)" opacity="0.317" transform="rotate(6.5 83.1 159.6)"/>
<ellipse cx="80.5" cy="170.9" rx="14.0" ry="2.8" fill="url(#h)" opacity="0.570" transform="rotate(4.1 80.5 170.9)"/>
<ellipse cx="82.5" cy="171.2" rx="20.0" ry="7.3" fill="url(#g)" opacity="0.399" transform="rotate(3.6 82.5 171.2)"/>
<ellipse cx="116.1" cy="174.0" rx="24.7" ry="1.5" fill="url(#g)" opacity="0.352" transform="rotate(6.1 116.1 174.0)"/>
<ellipse cx="112.5" cy="130.4" rx="37.1" ry="0.9" fill="url(#g)" opacity="0.150" transform="rotate(4.6 112.5 130.4)"/>
<ellipse cx="110.0" cy="110.4" rx="39.6" ry="0.9" fill="url(#g)" opacity="0.130" transform="rotate(4.3 110.0 110.4)"/>
<ellipse cx="107.5" cy="94.9" rx="42.1" ry="0.9" fill="url(#g)" opacity="0.120" transform="rotate(3.4 107.5 94.9)"/>
<ellipse cx="102.5" cy="79.9" rx="47.1" ry="0.9" fill="url(#g)" opacity="0.100" transform="rotate(3.0 102.5 79.9)"/>
<ellipse cx="122.5" cy="181.9" rx="27.1" ry="0.9" fill="url(#g)" opacity="0.200" transform="rotate(5.3 122.5 181.9)"/>
<ellipse cx="117.5" cy="145.9" rx="32.2" ry="0.9" fill="url(#g)" opacity="0.150" transform="rotate(6.2 117.5 145.9)"/>
<ellipse cx="127.5" cy="194.4" rx="22.1" ry="0.9" fill="url(#g)" opacity="0.180" transform="rotate(5.2 127.5 194.4)"/>
<ellipse cx="74.5" cy="174.9" rx="24.5" ry="2.0" fill="url(#g)" opacity="0.750" transform="rotate(20.3 74.5 174.9)"/>
<ellipse cx="76.5" cy="175.4" rx="26.6" ry="5.0" fill="url(#g)" opacity="0.225" transform="rotate(19.8 76.5 175.4)"/>
<ellipse cx="69.5" cy="178.4" rx="17.1" ry="2.0" fill="url(#g)" opacity="0.850" transform="rotate(20.6 69.5 178.4)"/>
<ellipse cx="71.5" cy="178.9" rx="19.1" ry="5.0" fill="url(#g)" opacity="0.255" transform="rotate(19.9 71.5 178.9)"/>
<ellipse cx="76.5" cy="186.4" rx="20.2" ry="2.0" fill="url(#g)" opacity="0.750" transform="rotate(20.2 76.5 186.4)"/>
<ellipse cx="78.5" cy="186.9" rx="22.3" ry="5.0" fill="url(#g)" opacity="0.225" transform="rotate(19.7 78.5 186.9)"/>
<ellipse cx="69.5" cy="191.4" rx="16.8" ry="1.8" fill="url(#g)" opacity="0.600" transform="rotate(17.4 69.5 191.4)"/>
<ellipse cx="71.5" cy="191.9" rx="18.8" ry="4.8" fill="url(#g)" opacity="0.180" transform="rotate(17.0 71.5 191.9)"/>
<ellipse cx="66.5" cy="195.9" rx="15.4" ry="1.8" fill="url(#g)" opacity="0.800" transform="rotate(13.1 66.5 195.9)"/>
<ellipse cx="68.5" cy="196.4" rx="17.5" ry="4.8" fill="url(#g)" opacity="0.240" transform="rotate(13.2 68.5 196.4)"/>
<ellipse cx="77.5" cy="200.9" rx="30.1" ry="1.6" fill="url(#g)" opacity="0.650" transform="rotate(4.8 77.5 200.9)"/>
<ellipse cx="79.5" cy="201.4" rx="32.1" ry="4.6" fill="url(#g)" opacity="0.195" transform="rotate(5.4 79.5 201.4)"/>
<ellipse cx="93.0" cy="170.4" rx="23.6" ry="1.6" fill="url(#g)" opacity="0.450" transform="rotate(17.3 93.0 170.4)"/>
<ellipse cx="95.0" cy="170.9" rx="25.6" ry="4.6" fill="url(#g)" opacity="0.135" transform="rotate(17.0 95.0 170.9)"/>
<ellipse cx="100.5" cy="184.4" rx="26.0" ry="1.5" fill="url(#g)" opacity="0.400" transform="rotate(15.6 100.5 184.4)"/>
<ellipse cx="102.5" cy="184.9" rx="28.0" ry="4.5" fill="url(#g)" opacity="0.120" transform="rotate(15.5 102.5 184.9)"/>
<ellipse cx="105.5" cy="193.4" rx="25.7" ry="1.4" fill="url(#g)" opacity="0.350" transform="rotate(13.5 105.5 193.4)"/>
<ellipse cx="107.5" cy="193.9" rx="27.8" ry="4.4" fill="url(#g)" opacity="0.105" transform="rotate(13.5 107.5 193.9)"/>
<ellipse cx="81.5" cy="204.9" rx="34.0" ry="1.2" fill="url(#g)" opacity="0.350" transform="rotate(2.5 81.5 204.9)"/>
<ellipse cx="83.5" cy="205.4" rx="36.1" ry="4.2" fill="url(#g)" opacity="0.105" transform="rotate(3.2 83.5 205.4)"/>
<ellipse cx="110.5" cy="174.4" rx="26.0" ry="1.3" fill="url(#g)" opacity="0.300" transform="rotate(15.6 110.5 174.4)"/>
<ellipse cx="112.5" cy="174.9" rx="28.0" ry="4.3" fill="url(#g)" opacity="0.090" transform="rotate(15.5 112.5 174.9)"/>
<ellipse cx="120.0" cy="198.4" rx="29.9" ry="1.2" fill="url(#g)" opacity="0.250" transform="rotate(9.6 120.0 198.4)"/>
<ellipse cx="122.0" cy="198.9" rx="32.0" ry="4.2" fill="url(#g)" opacity="0.075" transform="rotate(9.9 122.0 198.9)"/>
<ellipse cx="45.5" cy="117.4" rx="6.5" ry="3.5" fill="url(#g)" opacity="0.060" transform="rotate(60.0 45.5 117.4)"/>
<ellipse cx="40.9" cy="117.0" rx="6.0" ry="1.6" fill="url(#g)" opacity="0.369" transform="rotate(15.9 40.9 117.0)"/>
<ellipse cx="49.5" cy="117.4" rx="3.8" ry="1.3" fill="url(#g)" opacity="0.480" transform="rotate(21.5 49.5 117.4)"/>
<ellipse cx="55.8" cy="118.6" rx="6.4" ry="1.4" fill="url(#g)" opacity="0.287" transform="rotate(10.8 55.8 118.6)"/>
<ellipse cx="46.6" cy="120.2" rx="6.8" ry="3.5" fill="url(#g)" opacity="0.060" transform="rotate(60.0 46.6 120.2)"/>
<ellipse cx="41.9" cy="119.8" rx="5.9" ry="1.6" fill="url(#g)" opacity="0.435" transform="rotate(-22.9 41.9 119.8)"/>
<ellipse cx="43.3" cy="120.1" rx="5.0" ry="1.7" fill="url(#g)" opacity="0.214" transform="rotate(24.5 43.3 120.1)"/>
<ellipse cx="54.4" cy="121.9" rx="11.3" ry="1.3" fill="url(#g)" opacity="0.207" transform="rotate(8.6 54.4 121.9)"/>
<ellipse cx="47.6" cy="123.0" rx="7.0" ry="3.5" fill="url(#g)" opacity="0.060" transform="rotate(60.0 47.6 123.0)"/>
<ellipse cx="49.6" cy="123.3" rx="3.5" ry="1.7" fill="url(#g)" opacity="0.240" transform="rotate(10.9 49.6 123.3)"/>
<ellipse cx="51.2" cy="122.7" rx="5.9" ry="1.6" fill="url(#g)" opacity="0.490" transform="rotate(5.4 51.2 122.7)"/>
<ellipse cx="48.7" cy="125.8" rx="7.3" ry="3.5" fill="url(#g)" opacity="0.060" transform="rotate(60.0 48.7 125.8)"/>
<ellipse cx="48.4" cy="126.0" rx="3.3" ry="1.1" fill="url(#g)" opacity="0.482" transform="rotate(17.3 48.4 126.0)"/>
<ellipse cx="65.8" cy="129.9" rx="17.9" ry="1.7" fill="url(#g)" opacity="0.283" transform="rotate(13.3 65.8 129.9)"/>
<ellipse cx="43.4" cy="126.0" rx="5.8" ry="1.7" fill="url(#g)" opacity="0.209" transform="rotate(5.4 43.4 126.0)"/>
<ellipse cx="60.0" cy="129.1" rx="17.0" ry="1.6" fill="url(#g)" opacity="0.212" transform="rotate(11.4 60.0 129.1)"/>
<ellipse cx="49.7" cy="128.6" rx="7.6" ry="3.5" fill="url(#g)" opacity="0.060" transform="rotate(60.0 49.7 128.6)"/>
<ellipse cx="46.6" cy="128.7" rx="3.1" ry="1.3" fill="url(#g)" opacity="0.466" transform="rotate(19.3 46.6 128.7)"/>
<ellipse cx="56.6" cy="129.7" rx="10.0" ry="1.6" fill="url(#g)" opacity="0.252" transform="rotate(6.4 56.6 129.7)"/>
<ellipse cx="45.9" cy="128.8" rx="4.9" ry="1.3" fill="url(#g)" opacity="0.471" transform="rotate(-9.0 45.9 128.8)"/>
<ellipse cx="50.8" cy="131.4" rx="7.9" ry="3.5" fill="url(#g)" opacity="0.060" transform="rotate(60.0 50.8 131.4)"/>
<ellipse cx="55.3" cy="130.9" rx="3.3" ry="1.4" fill="url(#g)" opacity="0.262" transform="rotate(-12.7 55.3 130.9)"/>
<ellipse cx="64.8" cy="132.6" rx="9.5" ry="1.3" fill="url(#g)" opacity="0.273" transform="rotate(7.1 64.8 132.6)"/>
<ellipse cx="51.5" cy="132.3" rx="6.0" ry="1.1" fill="url(#g)" opacity="0.396" transform="rotate(20.5 51.5 132.3)"/>
<ellipse cx="51.8" cy="134.2" rx="8.1" ry="3.5" fill="url(#g)" opacity="0.060" transform="rotate(60.0 51.8 134.2)"/>
<ellipse cx="46.7" cy="133.9" rx="5.9" ry="1.5" fill="url(#g)" opacity="0.342" transform="rotate(17.2 46.7 133.9)"/>
<ellipse cx="50.9" cy="134.5" rx="3.7" ry="1.5" fill="url(#g)" opacity="0.393" transform="rotate(-18.2 50.9 134.5)"/>
<ellipse cx="64.2" cy="136.7" rx="13.6" ry="1.5" fill="url(#g)" opacity="0.173" transform="rotate(10.7 64.2 136.7)"/>
<ellipse cx="52.9" cy="137.0" rx="8.4" ry="3.5" fill="url(#g)" opacity="0.060" transform="rotate(60.0 52.9 137.0)"/>
<ellipse cx="48.8" cy="136.4" rx="4.0" ry="1.3" fill="url(#g)" opacity="0.312" transform="rotate(13.7 48.8 136.4)"/>
<ellipse cx="64.4" cy="139.5" rx="15.7" ry="1.4" fill="url(#g)" opacity="0.150" transform="rotate(9.2 64.4 139.5)"/>
<ellipse cx="58.2" cy="137.6" rx="5.8" ry="1.6" fill="url(#g)" opacity="0.214" transform="rotate(-23.5 58.2 137.6)"/>
<ellipse cx="78.0" cy="138.5" rx="19.8" ry="1.3" fill="url(#g)" opacity="0.167" transform="rotate(4.4 78.0 138.5)"/>
<ellipse cx="53.9" cy="139.8" rx="8.7" ry="3.5" fill="url(#g)" opacity="0.060" transform="rotate(60.0 53.9 139.8)"/>
<ellipse cx="54.7" cy="140.3" rx="5.2" ry="1.2" fill="url(#g)" opacity="0.378" transform="rotate(24.0 54.7 140.3)"/>
<ellipse cx="59.5" cy="139.8" rx="4.6" ry="1.3" fill="url(#g)" opacity="0.448" transform="rotate(-14.3 59.5 139.8)"/>
<ellipse cx="55.0" cy="142.6" rx="9.0" ry="3.5" fill="url(#g)" opacity="0.060" transform="rotate(60.0 55.0 142.6)"/>
<ellipse cx="59.2" cy="141.8" rx="5.0" ry="1.1" fill="url(#g)" opacity="0.431" transform="rotate(19.7 59.2 141.8)"/>
<ellipse cx="66.8" cy="144.1" rx="7.7" ry="1.8" fill="url(#g)" opacity="0.220" transform="rotate(11.2 66.8 144.1)"/>
<ellipse cx="56.9" cy="143.2" rx="4.0" ry="1.2" fill="url(#g)" opacity="0.376" transform="rotate(24.4 56.9 143.2)"/>
<ellipse cx="56.0" cy="145.4" rx="9.2" ry="3.5" fill="url(#g)" opacity="0.060" transform="rotate(60.0 56.0 145.4)"/>
<ellipse cx="52.9" cy="144.8" rx="4.3" ry="1.7" fill="url(#g)" opacity="0.428" transform="rotate(8.4 52.9 144.8)"/>
<ellipse cx="63.0" cy="145.2" rx="4.8" ry="1.3" fill="url(#g)" opacity="0.282" transform="rotate(22.5 63.0 145.2)"/>
<ellipse cx="57.1" cy="148.2" rx="9.5" ry="3.5" fill="url(#g)" opacity="0.060" transform="rotate(60.0 57.1 148.2)"/>
<ellipse cx="56.2" cy="148.8" rx="4.4" ry="1.4" fill="url(#g)" opacity="0.346" transform="rotate(11.4 56.2 148.8)"/>
<ellipse cx="59.5" cy="148.0" rx="4.9" ry="1.7" fill="url(#g)" opacity="0.413" transform="rotate(21.2 59.5 148.0)"/>
<ellipse cx="76.1" cy="151.1" rx="16.9" ry="1.4" fill="url(#g)" opacity="0.168" transform="rotate(9.8 76.1 151.1)"/>
<ellipse cx="58.1" cy="151.0" rx="9.8" ry="3.5" fill="url(#g)" opacity="0.060" transform="rotate(60.0 58.1 151.0)"/>
<ellipse cx="54.9" cy="151.5" rx="5.6" ry="1.7" fill="url(#g)" opacity="0.425" transform="rotate(24.7 54.9 151.5)"/>
<ellipse cx="71.8" cy="155.1" rx="17.4" ry="1.7" fill="url(#g)" opacity="0.191" transform="rotate(13.6 71.8 155.1)"/>
<ellipse cx="61.1" cy="151.4" rx="3.4" ry="1.5" fill="url(#g)" opacity="0.317" transform="rotate(19.6 61.1 151.4)"/>
<ellipse cx="70.3" cy="153.1" rx="9.4" ry="1.7" fill="url(#g)" opacity="0.188" transform="rotate(13.1 70.3 153.1)"/>
<ellipse cx="59.2" cy="153.8" rx="10.0" ry="3.5" fill="url(#g)" opacity="0.060" transform="rotate(60.0 59.2 153.8)"/>
<ellipse cx="63.2" cy="153.0" rx="4.3" ry="1.5" fill="url(#g)" opacity="0.255" transform="rotate(12.0 63.2 153.0)"/>
<ellipse cx="53.0" cy="153.3" rx="5.5" ry="1.8" fill="url(#g)" opacity="0.286" transform="rotate(-25.4 53.0 153.3)"/>
<ellipse cx="66.8" cy="156.2" rx="14.0" ry="1.5" fill="url(#g)" opacity="0.294" transform="rotate(9.8 66.8 156.2)"/>
<ellipse cx="60.2" cy="156.6" rx="10.3" ry="3.5" fill="url(#g)" opacity="0.060" transform="rotate(60.0 60.2 156.6)"/>
<ellipse cx="67.3" cy="156.9" rx="4.6" ry="1.7" fill="url(#g)" opacity="0.212" transform="rotate(15.6 67.3 156.9)"/>
<ellipse cx="80.6" cy="159.7" rx="13.6" ry="1.3" fill="url(#g)" opacity="0.176" transform="rotate(13.1 80.6 159.7)"/>
<ellipse cx="62.0" cy="156.0" rx="4.0" ry="1.6" fill="url(#g)" opacity="0.244" transform="rotate(7.5 62.0 156.0)"/>
<ellipse cx="61.1" cy="159.4" rx="10.8" ry="3.5" fill="url(#g)" opacity="0.060" transform="rotate(60.0 61.1 159.4)"/>
<ellipse cx="62.9" cy="159.6" rx="4.9" ry="1.1" fill="url(#g)" opacity="0.388" transform="rotate(24.5 62.9 159.6)"/>
<ellipse cx="78.0" cy="163.3" rx="15.7" ry="1.6" fill="url(#g)" opacity="0.158" transform="rotate(14.5 78.0 163.3)"/>
<ellipse cx="66.2" cy="158.5" rx="5.3" ry="1.4" fill="url(#g)" opacity="0.264" transform="rotate(8.8 66.2 158.5)"/>
<ellipse cx="61.9" cy="162.2" rx="11.3" ry="3.5" fill="url(#g)" opacity="0.060" transform="rotate(60.0 61.9 162.2)"/>
<ellipse cx="65.4" cy="162.3" rx="3.7" ry="1.3" fill="url(#g)" opacity="0.378" transform="rotate(11.4 65.4 162.3)"/>
<ellipse cx="59.1" cy="162.8" rx="4.0" ry="1.1" fill="url(#g)" opacity="0.416" transform="rotate(14.3 59.1 162.8)"/>
<ellipse cx="62.7" cy="165.0" rx="11.8" ry="3.5" fill="url(#g)" opacity="0.060" transform="rotate(60.0 62.7 165.0)"/>
<ellipse cx="67.2" cy="164.9" rx="4.8" ry="1.7" fill="url(#g)" opacity="0.421" transform="rotate(13.2 67.2 164.9)"/>
<ellipse cx="85.1" cy="169.6" rx="18.5" ry="1.4" fill="url(#g)" opacity="0.153" transform="rotate(14.5 85.1 169.6)"/>
<ellipse cx="56.5" cy="164.2" rx="5.7" ry="1.3" fill="url(#g)" opacity="0.394" transform="rotate(24.0 56.5 164.2)"/>
<ellipse cx="63.5" cy="167.8" rx="12.3" ry="3.5" fill="url(#g)" opacity="0.060" transform="rotate(60.0 63.5 167.8)"/>
<ellipse cx="60.4" cy="168.7" rx="5.5" ry="1.3" fill="url(#g)" opacity="0.233" transform="rotate(11.0 60.4 168.7)"/>
<ellipse cx="64.4" cy="167.8" rx="4.8" ry="1.5" fill="url(#g)" opacity="0.432" transform="rotate(16.3 64.4 167.8)"/>
<ellipse cx="64.3" cy="170.6" rx="12.9" ry="3.5" fill="url(#g)" opacity="0.060" transform="rotate(60.0 64.3 170.6)"/>
<ellipse cx="62.0" cy="169.8" rx="4.2" ry="1.6" fill="url(#g)" opacity="0.319" transform="rotate(15.4 62.0 169.8)"/>
<ellipse cx="56.0" cy="170.1" rx="5.7" ry="1.7" fill="url(#g)" opacity="0.324" transform="rotate(21.9 56.0 170.1)"/>
<ellipse cx="70.0" cy="173.0" rx="14.2" ry="1.6" fill="url(#g)" opacity="0.283" transform="rotate(9.9 70.0 173.0)"/>
<ellipse cx="65.1" cy="173.4" rx="13.4" ry="3.5" fill="url(#g)" opacity="0.060" transform="rotate(60.0 65.1 173.4)"/>
<ellipse cx="58.9" cy="172.9" rx="3.1" ry="1.7" fill="url(#g)" opacity="0.449" transform="rotate(-11.7 58.9 172.9)"/>
<ellipse cx="68.3" cy="173.7" rx="5.4" ry="1.3" fill="url(#g)" opacity="0.433" transform="rotate(10.0 68.3 173.7)"/>
<ellipse cx="65.9" cy="176.2" rx="13.9" ry="3.5" fill="url(#g)" opacity="0.060" transform="rotate(60.0 65.9 176.2)"/>
<ellipse cx="61.0" cy="175.2" rx="3.6" ry="1.6" fill="url(#g)" opacity="0.279" transform="rotate(5.1 61.0 175.2)"/>
<ellipse cx="71.4" cy="175.2" rx="3.3" ry="1.4" fill="url(#g)" opacity="0.409" transform="rotate(16.7 71.4 175.2)"/>
<ellipse cx="82.4" cy="177.6" rx="11.1" ry="1.8" fill="url(#g)" opacity="0.295" transform="rotate(7.0 82.4 177.6)"/>
<ellipse cx="66.7" cy="179.0" rx="14.4" ry="3.5" fill="url(#g)" opacity="0.060" transform="rotate(60.0 66.7 179.0)"/>
<ellipse cx="70.5" cy="178.9" rx="3.4" ry="1.5" fill="url(#g)" opacity="0.326" transform="rotate(6.4 70.5 178.9)"/>
<ellipse cx="64.5" cy="178.9" rx="3.7" ry="1.7" fill="url(#g)" opacity="0.412" transform="rotate(23.3 64.5 178.9)"/>
<ellipse cx="67.5" cy="181.8" rx="14.9" ry="3.5" fill="url(#g)" opacity="0.060" transform="rotate(60.0 67.5 181.8)"/>
<ellipse cx="62.3" cy="181.6" rx="3.8" ry="1.3" fill="url(#g)" opacity="0.405" transform="rotate(24.7 62.3 181.6)"/>
<ellipse cx="71.6" cy="184.1" rx="9.6" ry="1.6" fill="url(#g)" opacity="0.158" transform="rotate(14.1 71.6 184.1)"/>
<ellipse cx="58.1" cy="182.4" rx="3.7" ry="1.2" fill="url(#g)" opacity="0.256" transform="rotate(11.8 58.1 182.4)"/>
<ellipse cx="68.3" cy="184.6" rx="15.5" ry="3.5" fill="url(#g)" opacity="0.060" transform="rotate(60.0 68.3 184.6)"/>
<ellipse cx="58.2" cy="185.1" rx="5.6" ry="1.3" fill="url(#g)" opacity="0.350" transform="rotate(11.8 58.2 185.1)"/>
<ellipse cx="67.9" cy="184.3" rx="5.8" ry="1.4" fill="url(#g)" opacity="0.344" transform="rotate(20.5 67.9 184.3)"/>
<ellipse cx="80.7" cy="186.8" rx="13.0" ry="1.3" fill="url(#g)" opacity="0.282" transform="rotate(9.8 80.7 186.8)"/>
<ellipse cx="69.1" cy="187.4" rx="16.0" ry="3.5" fill="url(#g)" opacity="0.060" transform="rotate(60.0 69.1 187.4)"/>
<ellipse cx="71.4" cy="187.0" rx="4.9" ry="1.6" fill="url(#g)" opacity="0.356" transform="rotate(7.7 71.4 187.0)"/>
<ellipse cx="57.6" cy="187.4" rx="5.6" ry="1.8" fill="url(#g)" opacity="0.433" transform="rotate(18.6 57.6 187.4)"/>
<ellipse cx="69.9" cy="190.2" rx="16.5" ry="3.5" fill="url(#g)" opacity="0.060" transform="rotate(60.0 69.9 190.2)"/>
<ellipse cx="68.2" cy="190.8" rx="3.9" ry="1.5" fill="url(#g)" opacity="0.362" transform="rotate(18.5 68.2 190.8)"/>
<ellipse cx="83.6" cy="191.3" rx="15.5" ry="1.5" fill="url(#g)" opacity="0.259" transform="rotate(4.2 83.6 191.3)"/>
<ellipse cx="80.3" cy="189.2" rx="4.7" ry="1.3" fill="url(#g)" opacity="0.346" transform="rotate(9.0 80.3 189.2)"/>
<ellipse cx="70.7" cy="193.0" rx="17.0" ry="3.5" fill="url(#g)" opacity="0.060" transform="rotate(60.0 70.7 193.0)"/>
<ellipse cx="73.3" cy="193.2" rx="4.9" ry="1.6" fill="url(#g)" opacity="0.427" transform="rotate(11.5 73.3 193.2)"/>
<ellipse cx="69.8" cy="192.3" rx="3.5" ry="1.6" fill="url(#g)" opacity="0.443" transform="rotate(-12.7 69.8 192.3)"/>
<ellipse cx="71.5" cy="195.8" rx="17.5" ry="3.5" fill="url(#g)" opacity="0.060" transform="rotate(60.0 71.5 195.8)"/>
<ellipse cx="67.2" cy="195.0" rx="5.1" ry="1.2" fill="url(#g)" opacity="0.223" transform="rotate(-24.1 67.2 195.0)"/>
<ellipse cx="69.3" cy="195.2" rx="3.4" ry="1.5" fill="url(#g)" opacity="0.411" transform="rotate(17.6 69.3 195.2)"/>
<ellipse cx="72.3" cy="198.6" rx="18.1" ry="3.5" fill="url(#g)" opacity="0.060" transform="rotate(60.0 72.3 198.6)"/>
<ellipse cx="78.5" cy="198.2" rx="3.5" ry="1.6" fill="url(#g)" opacity="0.265" transform="rotate(12.2 78.5 198.2)"/>
<ellipse cx="73.5" cy="198.3" rx="3.7" ry="1.7" fill="url(#g)" opacity="0.450" transform="rotate(-18.0 73.5 198.3)"/>
<ellipse cx="86.1" cy="200.5" rx="12.8" ry="1.3" fill="url(#g)" opacity="0.196" transform="rotate(8.8 86.1 200.5)"/>
<ellipse cx="18.5" cy="64.4" rx="18.4" ry="0.8" fill="url(#g)" opacity="0.050" transform="rotate(22.4 18.5 64.4)"/>
<ellipse cx="18.5" cy="72.4" rx="18.4" ry="0.8" fill="url(#g)" opacity="0.075" transform="rotate(22.4 18.5 72.4)"/>
<ellipse cx="18.5" cy="80.4" rx="18.4" ry="0.8" fill="url(#g)" opacity="0.081" transform="rotate(22.4 18.5 80.4)"/>
<ellipse cx="18.5" cy="88.4" rx="18.4" ry="0.8" fill="url(#g)" opacity="0.100" transform="rotate(22.4 18.5 88.4)"/>
<ellipse cx="18.5" cy="96.4" rx="18.4" ry="0.8" fill="url(#g)" opacity="0.098" transform="rotate(22.4 18.5 96.4)"/>
<ellipse cx="18.5" cy="104.4" rx="18.4" ry="0.8" fill="url(#g)" opacity="0.067" transform="rotate(22.4 18.5 104.4)"/>
<ellipse cx="18.5" cy="112.4" rx="18.4" ry="0.8" fill="url(#g)" opacity="0.098" transform="rotate(22.4 18.5 112.4)"/>
<ellipse cx="18.5" cy="120.4" rx="18.4" ry="0.8" fill="url(#g)" opacity="0.055" transform="rotate(22.4 18.5 120.4)"/>
<ellipse cx="18.5" cy="128.4" rx="18.4" ry="0.8" fill="url(#g)" opacity="0.057" transform="rotate(22.4 18.5 128.4)"/>
<ellipse cx="18.5" cy="136.4" rx="18.4" ry="0.8" fill="url(#g)" opacity="0.076" transform="rotate(22.4 18.5 136.4)"/>
<ellipse cx="18.5" cy="144.4" rx="18.4" ry="0.8" fill="url(#g)" opacity="0.084" transform="rotate(22.4 18.5 144.4)"/>
<ellipse cx="18.5" cy="152.4" rx="18.4" ry="0.8" fill="url(#g)" opacity="0.080" transform="rotate(22.4 18.5 152.4)"/>
<ellipse cx="18.5" cy="160.4" rx="18.4" ry="0.8" fill="url(#g)" opacity="0.052" transform="rotate(22.4 18.5 160.4)"/>
<ellipse cx="18.5" cy="168.4" rx="18.4" ry="0.8" fill="url(#g)" opacity="0.070" transform="rotate(22.4 18.5 168.4)"/>
<ellipse cx="18.5" cy="176.4" rx="18.4" ry="0.8" fill="url(#g)" opacity="0.075" transform="rotate(22.4 18.5 176.4)"/>
<ellipse cx="18.5" cy="184.4" rx="18.4" ry="0.8" fill="url(#g)" opacity="0.069" transform="rotate(22.4 18.5 184.4)"/>
<ellipse cx="18.5" cy="192.4" rx="18.4" ry="0.8" fill="url(#g)" opacity="0.088" transform="rotate(22.4 18.5 192.4)"/>
<ellipse cx="18.5" cy="200.4" rx="18.4" ry="0.8" fill="url(#g)" opacity="0.087" transform="rotate(22.4 18.5 200.4)"/>
<ellipse cx="18.5" cy="208.4" rx="18.4" ry="0.8" fill="url(#g)" opacity="0.054" transform="rotate(22.4 18.5 208.4)"/>
<ellipse cx="19.5" cy="121.4" rx="1.5" ry="2.5" fill="url(#g)" opacity="0.250"/>
<ellipse cx="15.5" cy="112.4" rx="1.2" ry="1.5" fill="url(#g)" opacity="0.150"/>
<ellipse cx="17.5" cy="142.4" rx="1.2" ry="1.5" fill="url(#g)" opacity="0.120"/>
<ellipse cx="15.5" cy="77.4" rx="1.5" ry="2.0" fill="url(#g)" opacity="0.120"/>
<path d="M -0.5 207.4 L 149.5 207.7" fill="none" stroke="#fff" stroke-width="1.0" stroke-linecap="butt" opacity="0.280" filter="url(#b05)"/>
<path d="M -0.5 210.6 L 149.5 210.9" fill="none" stroke="#fff" stroke-width="1.8" stroke-linecap="butt" opacity="0.850" filter="url(#b05)"/>
<path d="M -0.5 212.7 L 149.5 212.7" fill="none" stroke="#fff" stroke-width="1.1" stroke-linecap="butt" opacity="0.450" filter="url(#b05)"/></g></g></svg><div class="bx" style="left:214.0px;top:32.1px;width:150.10000000000002px;height:214.5px"></div>
<svg class="hm" style="left:397.0px;top:32.6px" width="149.8" height="214.2" viewBox="0 0 149.8 214.2"><g filter="url(#jet)"><rect width="149.8" height="214.2" fill="rgb(3,3,3)"/><g class="add"><rect x="0.0" y="6.4" width="150.0" height="208.0" fill="#fff" opacity="0.020"/>
<ellipse cx="86.2" cy="55.0" rx="31.6" ry="0.7" fill="url(#g)" opacity="0.015" transform="rotate(0.4 86.2 55.0)"/>
<ellipse cx="46.3" cy="174.4" rx="25.5" ry="1.4" fill="url(#g)" opacity="0.032" transform="rotate(1.0 46.3 174.4)"/>
<ellipse cx="31.1" cy="134.9" rx="43.6" ry="1.3" fill="url(#g)" opacity="0.038" transform="rotate(0.5 31.1 134.9)"/>
<ellipse cx="116.2" cy="19.9" rx="41.6" ry="1.5" fill="url(#g)" opacity="0.032" transform="rotate(-0.9 116.2 19.9)"/>
<ellipse cx="133.0" cy="150.6" rx="47.1" ry="1.4" fill="url(#g)" opacity="0.031" transform="rotate(0.4 133.0 150.6)"/>
<ellipse cx="133.0" cy="194.6" rx="19.4" ry="1.6" fill="url(#g)" opacity="0.030" transform="rotate(-1.9 133.0 194.6)"/>
<ellipse cx="52.1" cy="132.7" rx="37.8" ry="1.2" fill="url(#g)" opacity="0.035" transform="rotate(-0.4 52.1 132.7)"/>
<ellipse cx="105.5" cy="188.4" rx="56.8" ry="1.3" fill="url(#g)" opacity="0.021" transform="rotate(0.9 105.5 188.4)"/>
<ellipse cx="145.0" cy="179.7" rx="55.7" ry="0.8" fill="url(#g)" opacity="0.044" transform="rotate(0.3 145.0 179.7)"/>
<ellipse cx="49.9" cy="122.2" rx="17.9" ry="0.7" fill="url(#g)" opacity="0.043" transform="rotate(2.7 49.9 122.2)"/>
<ellipse cx="31.1" cy="89.6" rx="28.2" ry="0.6" fill="url(#g)" opacity="0.037" transform="rotate(1.3 31.1 89.6)"/>
<ellipse cx="110.6" cy="16.5" rx="29.9" ry="1.1" fill="url(#g)" opacity="0.050" transform="rotate(1.7 110.6 16.5)"/>
<ellipse cx="20.8" cy="69.5" rx="42.0" ry="1.0" fill="url(#g)" opacity="0.036" transform="rotate(-1.1 20.8 69.5)"/>
<ellipse cx="15.9" cy="39.3" rx="54.1" ry="1.5" fill="url(#g)" opacity="0.028" transform="rotate(0.3 15.9 39.3)"/>
<ellipse cx="82.8" cy="99.4" rx="44.0" ry="1.2" fill="url(#g)" opacity="0.048" transform="rotate(0.2 82.8 99.4)"/>
<ellipse cx="70.4" cy="108.9" rx="47.4" ry="1.6" fill="url(#g)" opacity="0.033" transform="rotate(-0.6 70.4 108.9)"/>
<ellipse cx="11.6" cy="116.5" rx="33.7" ry="1.2" fill="url(#g)" opacity="0.037" transform="rotate(-0.7 11.6 116.5)"/>
<ellipse cx="97.8" cy="19.1" rx="36.0" ry="1.3" fill="url(#g)" opacity="0.041" transform="rotate(0.1 97.8 19.1)"/>
<ellipse cx="18.5" cy="11.1" rx="45.4" ry="1.1" fill="url(#g)" opacity="0.036" transform="rotate(0.3 18.5 11.1)"/>
<ellipse cx="61.0" cy="71.6" rx="29.1" ry="0.9" fill="url(#g)" opacity="0.028" transform="rotate(-0.1 61.0 71.6)"/>
<ellipse cx="13.8" cy="161.4" rx="40.6" ry="0.8" fill="url(#g)" opacity="0.043" transform="rotate(0.1 13.8 161.4)"/>
<ellipse cx="36.2" cy="54.5" rx="34.6" ry="0.9" fill="url(#g)" opacity="0.027" transform="rotate(-0.3 36.2 54.5)"/>
<ellipse cx="71.4" cy="174.3" rx="53.5" ry="1.3" fill="url(#g)" opacity="0.046" transform="rotate(-0.5 71.4 174.3)"/>
<ellipse cx="41.5" cy="97.3" rx="20.4" ry="1.4" fill="url(#g)" opacity="0.044" transform="rotate(-0.8 41.5 97.3)"/>
<ellipse cx="49.0" cy="44.3" rx="51.3" ry="0.9" fill="url(#g)" opacity="0.020" transform="rotate(0.5 49.0 44.3)"/>
<ellipse cx="121.1" cy="65.9" rx="27.2" ry="1.0" fill="url(#g)" opacity="0.029" transform="rotate(-0.5 121.1 65.9)"/>
<ellipse cx="31.8" cy="191.5" rx="15.2" ry="1.6" fill="url(#g)" opacity="0.030" transform="rotate(3.1 31.8 191.5)"/>
<ellipse cx="139.8" cy="197.5" rx="25.0" ry="1.3" fill="url(#g)" opacity="0.033" transform="rotate(1.3 139.8 197.5)"/>
<ellipse cx="57.7" cy="65.7" rx="25.2" ry="0.9" fill="url(#g)" opacity="0.043" transform="rotate(-0.8 57.7 65.7)"/>
<ellipse cx="136.5" cy="16.4" rx="46.2" ry="1.5" fill="url(#g)" opacity="0.035" transform="rotate(1.0 136.5 16.4)"/>
<ellipse cx="114.3" cy="10.4" rx="22.7" ry="1.1" fill="url(#g)" opacity="0.029" transform="rotate(-0.1 114.3 10.4)"/>
<ellipse cx="95.7" cy="195.8" rx="30.4" ry="1.1" fill="url(#g)" opacity="0.042" transform="rotate(0.2 95.7 195.8)"/>
<ellipse cx="37.6" cy="77.1" rx="39.1" ry="1.4" fill="url(#g)" opacity="0.047" transform="rotate(-0.0 37.6 77.1)"/>
<ellipse cx="125.3" cy="168.8" rx="15.3" ry="0.6" fill="url(#g)" opacity="0.024" transform="rotate(1.8 125.3 168.8)"/>
<ellipse cx="83.8" cy="61.4" rx="34.0" ry="0.6" fill="url(#g)" opacity="0.017" transform="rotate(0.4 83.8 61.4)"/>
<ellipse cx="27.4" cy="32.7" rx="18.1" ry="0.7" fill="url(#g)" opacity="0.033" transform="rotate(2.6 27.4 32.7)"/>
<ellipse cx="54.0" cy="70.5" rx="30.8" ry="1.0" fill="url(#g)" opacity="0.022" transform="rotate(0.4 54.0 70.5)"/>
<ellipse cx="27.3" cy="72.8" rx="40.0" ry="0.7" fill="url(#g)" opacity="0.021" transform="rotate(0.1 27.3 72.8)"/>
<ellipse cx="94.6" cy="82.5" rx="50.2" ry="1.2" fill="url(#g)" opacity="0.030" transform="rotate(0.2 94.6 82.5)"/>
<ellipse cx="79.5" cy="82.2" rx="46.6" ry="1.1" fill="url(#g)" opacity="0.024" transform="rotate(0.1 79.5 82.2)"/>
<ellipse cx="107.3" cy="114.6" rx="18.2" ry="1.5" fill="url(#g)" opacity="0.048" transform="rotate(-0.5 107.3 114.6)"/>
<ellipse cx="135.7" cy="82.4" rx="50.6" ry="0.7" fill="url(#g)" opacity="0.043" transform="rotate(-0.3 135.7 82.4)"/>
<ellipse cx="134.2" cy="139.9" rx="50.7" ry="1.2" fill="url(#g)" opacity="0.019" transform="rotate(0.5 134.2 139.9)"/>
<ellipse cx="10.7" cy="124.2" rx="21.5" ry="0.7" fill="url(#g)" opacity="0.018" transform="rotate(-0.5 10.7 124.2)"/>
<ellipse cx="35.1" cy="182.8" rx="16.1" ry="1.4" fill="url(#g)" opacity="0.039" transform="rotate(-0.1 35.1 182.8)"/>
<ellipse cx="143.3" cy="173.9" rx="41.1" ry="1.4" fill="url(#g)" opacity="0.033" transform="rotate(-0.2 143.3 173.9)"/>
<ellipse cx="24.9" cy="149.6" rx="48.7" ry="0.9" fill="url(#g)" opacity="0.035" transform="rotate(-0.0 24.9 149.6)"/>
<ellipse cx="43.9" cy="173.4" rx="23.1" ry="1.4" fill="url(#g)" opacity="0.029" transform="rotate(-0.3 43.9 173.4)"/>
<ellipse cx="65.5" cy="80.6" rx="30.8" ry="1.1" fill="url(#g)" opacity="0.049" transform="rotate(-0.9 65.5 80.6)"/>
<ellipse cx="114.6" cy="90.0" rx="22.2" ry="1.3" fill="url(#g)" opacity="0.033" transform="rotate(1.2 114.6 90.0)"/>
<ellipse cx="100.0" cy="104.1" rx="55.4" ry="1.3" fill="url(#g)" opacity="0.047" transform="rotate(-0.8 100.0 104.1)"/>
<ellipse cx="72.0" cy="110.9" rx="47.4" ry="0.8" fill="url(#g)" opacity="0.035" transform="rotate(-0.7 72.0 110.9)"/>
<ellipse cx="42.5" cy="69.7" rx="46.1" ry="1.3" fill="url(#g)" opacity="0.029" transform="rotate(0.3 42.5 69.7)"/>
<ellipse cx="91.9" cy="177.9" rx="27.0" ry="1.1" fill="url(#g)" opacity="0.028" transform="rotate(-1.6 91.9 177.9)"/>
<ellipse cx="60.5" cy="41.2" rx="29.5" ry="1.6" fill="url(#g)" opacity="0.032" transform="rotate(-0.2 60.5 41.2)"/>
<ellipse cx="75.5" cy="126.9" rx="52.6" ry="1.1" fill="url(#g)" opacity="0.040" transform="rotate(0.4 75.5 126.9)"/>
<ellipse cx="66.0" cy="178.2" rx="48.0" ry="0.8" fill="url(#g)" opacity="0.023" transform="rotate(0.5 66.0 178.2)"/>
<ellipse cx="104.5" cy="150.3" rx="58.1" ry="0.8" fill="url(#g)" opacity="0.024" transform="rotate(0.1 104.5 150.3)"/>
<ellipse cx="108.7" cy="44.2" rx="53.6" ry="1.5" fill="url(#g)" opacity="0.026" transform="rotate(0.2 108.7 44.2)"/>
<ellipse cx="112.1" cy="92.8" rx="18.9" ry="0.9" fill="url(#g)" opacity="0.027" transform="rotate(-0.2 112.1 92.8)"/>
<ellipse cx="104.6" cy="123.6" rx="15.3" ry="1.1" fill="url(#g)" opacity="0.022" transform="rotate(-0.9 104.6 123.6)"/>
<ellipse cx="143.7" cy="124.0" rx="32.6" ry="0.9" fill="url(#g)" opacity="0.038" transform="rotate(-0.6 143.7 124.0)"/>
<ellipse cx="134.2" cy="30.8" rx="55.9" ry="1.0" fill="url(#g)" opacity="0.042" transform="rotate(0.0 134.2 30.8)"/>
<ellipse cx="51.4" cy="159.0" rx="45.4" ry="0.9" fill="url(#g)" opacity="0.041" transform="rotate(0.6 51.4 159.0)"/>
<ellipse cx="104.2" cy="200.0" rx="39.1" ry="1.0" fill="url(#g)" opacity="0.040" transform="rotate(-0.6 104.2 200.0)"/>
<ellipse cx="89.3" cy="143.1" rx="23.2" ry="0.8" fill="url(#g)" opacity="0.046" transform="rotate(0.7 89.3 143.1)"/>
<ellipse cx="27.2" cy="138.7" rx="56.9" ry="1.3" fill="url(#g)" opacity="0.036" transform="rotate(-0.5 27.2 138.7)"/>
<ellipse cx="100.6" cy="118.2" rx="35.6" ry="0.7" fill="url(#g)" opacity="0.040" transform="rotate(-0.8 100.6 118.2)"/>
<ellipse cx="86.0" cy="158.2" rx="48.3" ry="1.0" fill="url(#g)" opacity="0.046" transform="rotate(-0.4 86.0 158.2)"/>
<ellipse cx="80.7" cy="15.4" rx="26.1" ry="0.9" fill="url(#g)" opacity="0.029" transform="rotate(0.3 80.7 15.4)"/>
<ellipse cx="118.0" cy="115.0" rx="30.9" ry="0.9" fill="url(#g)" opacity="0.018" transform="rotate(-0.1 118.0 115.0)"/>
<ellipse cx="119.1" cy="29.9" rx="47.7" ry="1.0" fill="url(#g)" opacity="0.041" transform="rotate(-0.8 119.1 29.9)"/>
<ellipse cx="114.8" cy="170.8" rx="41.6" ry="0.8" fill="url(#g)" opacity="0.033" transform="rotate(-0.6 114.8 170.8)"/>
<ellipse cx="38.3" cy="120.3" rx="26.3" ry="1.4" fill="url(#g)" opacity="0.046" transform="rotate(-0.4 38.3 120.3)"/>
<ellipse cx="63.6" cy="197.3" rx="39.9" ry="1.6" fill="url(#g)" opacity="0.039" transform="rotate(0.3 63.6 197.3)"/>
<ellipse cx="130.4" cy="67.4" rx="36.8" ry="0.6" fill="url(#g)" opacity="0.042" transform="rotate(0.5 130.4 67.4)"/>
<ellipse cx="78.9" cy="139.5" rx="38.6" ry="1.1" fill="url(#g)" opacity="0.016" transform="rotate(-0.5 78.9 139.5)"/>
<ellipse cx="100.4" cy="107.9" rx="35.0" ry="1.5" fill="url(#g)" opacity="0.020" transform="rotate(0.9 100.4 107.9)"/>
<ellipse cx="97.3" cy="165.7" rx="17.3" ry="0.7" fill="url(#g)" opacity="0.034" transform="rotate(-1.3 97.3 165.7)"/>
<ellipse cx="55.2" cy="192.8" rx="54.2" ry="1.5" fill="url(#g)" opacity="0.036" transform="rotate(-0.2 55.2 192.8)"/>
<ellipse cx="110.2" cy="193.3" rx="48.3" ry="1.5" fill="url(#g)" opacity="0.045" transform="rotate(0.2 110.2 193.3)"/>
<ellipse cx="116.0" cy="94.7" rx="36.8" ry="0.7" fill="url(#g)" opacity="0.022" transform="rotate(-1.3 116.0 94.7)"/>
<ellipse cx="79.6" cy="39.4" rx="46.5" ry="1.2" fill="url(#g)" opacity="0.026" transform="rotate(-0.0 79.6 39.4)"/>
<ellipse cx="116.0" cy="101.0" rx="33.1" ry="1.3" fill="url(#g)" opacity="0.028" transform="rotate(0.1 116.0 101.0)"/>
<ellipse cx="84.1" cy="81.4" rx="41.8" ry="0.8" fill="url(#g)" opacity="0.042" transform="rotate(-1.1 84.1 81.4)"/>
<ellipse cx="74.4" cy="36.1" rx="23.8" ry="1.0" fill="url(#g)" opacity="0.021" transform="rotate(-1.5 74.4 36.1)"/>
<ellipse cx="25.4" cy="12.5" rx="22.6" ry="0.6" fill="url(#g)" opacity="0.031" transform="rotate(-1.1 25.4 12.5)"/>
<ellipse cx="108.5" cy="88.9" rx="17.3" ry="0.6" fill="url(#g)" opacity="0.049" transform="rotate(-0.7 108.5 88.9)"/>
<ellipse cx="23.2" cy="51.6" rx="36.4" ry="0.9" fill="url(#g)" opacity="0.019" transform="rotate(-0.3 23.2 51.6)"/>
<ellipse cx="111.9" cy="17.5" rx="27.4" ry="1.5" fill="url(#g)" opacity="0.026" transform="rotate(0.5 111.9 17.5)"/>
<ellipse cx="47.2" cy="57.1" rx="51.7" ry="0.7" fill="url(#g)" opacity="0.039" transform="rotate(-0.0 47.2 57.1)"/>
<ellipse cx="92.9" cy="201.3" rx="15.2" ry="0.8" fill="url(#g)" opacity="0.016" transform="rotate(-3.3 92.9 201.3)"/>
<ellipse cx="101.6" cy="19.0" rx="55.5" ry="1.1" fill="url(#g)" opacity="0.043" transform="rotate(0.2 101.6 19.0)"/>
<ellipse cx="141.6" cy="191.2" rx="16.5" ry="1.5" fill="url(#g)" opacity="0.018" transform="rotate(-0.3 141.6 191.2)"/>
<ellipse cx="129.0" cy="66.0" rx="20.2" ry="1.3" fill="url(#g)" opacity="0.047" transform="rotate(-0.8 129.0 66.0)"/>
<ellipse cx="113.6" cy="42.0" rx="48.0" ry="1.5" fill="url(#g)" opacity="0.028" transform="rotate(0.5 113.6 42.0)"/>
<ellipse cx="42.1" cy="90.1" rx="50.1" ry="0.8" fill="url(#g)" opacity="0.040" transform="rotate(-0.3 42.1 90.1)"/>
<ellipse cx="109.5" cy="128.2" rx="32.4" ry="1.3" fill="url(#g)" opacity="0.016" transform="rotate(-0.6 109.5 128.2)"/>
<ellipse cx="116.2" cy="100.9" rx="45.5" ry="1.4" fill="url(#g)" opacity="0.037" transform="rotate(-0.8 116.2 100.9)"/>
<ellipse cx="132.1" cy="182.9" rx="35.3" ry="0.9" fill="url(#g)" opacity="0.028" transform="rotate(1.0 132.1 182.9)"/>
<ellipse cx="65.9" cy="22.3" rx="58.0" ry="0.7" fill="url(#g)" opacity="0.018" transform="rotate(-0.3 65.9 22.3)"/>
<ellipse cx="43.7" cy="137.7" rx="17.2" ry="1.2" fill="url(#g)" opacity="0.015" transform="rotate(-0.7 43.7 137.7)"/>
<ellipse cx="145.4" cy="53.2" rx="24.9" ry="1.4" fill="url(#g)" opacity="0.036" transform="rotate(-0.0 145.4 53.2)"/>
<ellipse cx="84.9" cy="165.0" rx="23.5" ry="1.4" fill="url(#g)" opacity="0.019" transform="rotate(-1.8 84.9 165.0)"/>
<ellipse cx="145.3" cy="11.4" rx="24.0" ry="1.1" fill="url(#g)" opacity="0.023" transform="rotate(-0.1 145.3 11.4)"/>
<ellipse cx="96.2" cy="173.4" rx="43.9" ry="0.9" fill="url(#g)" opacity="0.036" transform="rotate(0.8 96.2 173.4)"/>
<ellipse cx="25.5" cy="96.7" rx="52.6" ry="0.8" fill="url(#g)" opacity="0.034" transform="rotate(0.4 25.5 96.7)"/>
<ellipse cx="111.9" cy="100.4" rx="18.5" ry="0.7" fill="url(#g)" opacity="0.034" transform="rotate(-0.5 111.9 100.4)"/>
<ellipse cx="69.2" cy="154.1" rx="44.2" ry="1.0" fill="url(#g)" opacity="0.050" transform="rotate(-0.2 69.2 154.1)"/>
<ellipse cx="70.3" cy="74.4" rx="18.8" ry="1.5" fill="url(#g)" opacity="0.040" transform="rotate(-1.9 70.3 74.4)"/>
<ellipse cx="148.1" cy="181.9" rx="42.5" ry="1.0" fill="url(#g)" opacity="0.048" transform="rotate(0.6 148.1 181.9)"/>
<ellipse cx="142.9" cy="187.7" rx="36.8" ry="1.6" fill="url(#g)" opacity="0.047" transform="rotate(0.3 142.9 187.7)"/>
<ellipse cx="140.8" cy="66.4" rx="23.3" ry="0.9" fill="url(#g)" opacity="0.033" transform="rotate(-0.4 140.8 66.4)"/>
<ellipse cx="15.7" cy="135.4" rx="48.5" ry="0.9" fill="url(#g)" opacity="0.041" transform="rotate(-0.3 15.7 135.4)"/>
<ellipse cx="50.2" cy="156.9" rx="19.7" ry="0.7" fill="url(#g)" opacity="0.020" transform="rotate(-0.8 50.2 156.9)"/>
<ellipse cx="108.1" cy="159.8" rx="58.9" ry="1.0" fill="url(#g)" opacity="0.021" transform="rotate(0.8 108.1 159.8)"/>
<ellipse cx="74.8" cy="69.6" rx="38.7" ry="1.5" fill="url(#g)" opacity="0.025" transform="rotate(-0.1 74.8 69.6)"/>
<ellipse cx="134.2" cy="100.0" rx="51.3" ry="1.4" fill="url(#g)" opacity="0.015" transform="rotate(-0.5 134.2 100.0)"/>
<ellipse cx="84.3" cy="33.6" rx="39.1" ry="0.8" fill="url(#g)" opacity="0.042" transform="rotate(-1.1 84.3 33.6)"/>
<ellipse cx="147.1" cy="99.6" rx="50.3" ry="0.8" fill="url(#g)" opacity="0.015" transform="rotate(0.0 147.1 99.6)"/>
<ellipse cx="57.4" cy="93.4" rx="17.3" ry="0.9" fill="url(#g)" opacity="0.024" transform="rotate(-1.2 57.4 93.4)"/>
<ellipse cx="68.6" cy="168.2" rx="26.7" ry="1.2" fill="url(#g)" opacity="0.039" transform="rotate(-1.1 68.6 168.2)"/>
<ellipse cx="123.2" cy="190.5" rx="26.1" ry="1.4" fill="url(#g)" opacity="0.033" transform="rotate(-0.2 123.2 190.5)"/>
<ellipse cx="87.3" cy="173.4" rx="27.6" ry="1.2" fill="url(#g)" opacity="0.046" transform="rotate(-1.7 87.3 173.4)"/>
<ellipse cx="75.4" cy="188.5" rx="45.0" ry="1.2" fill="url(#g)" opacity="0.030" transform="rotate(0.9 75.4 188.5)"/>
<ellipse cx="33.9" cy="111.4" rx="23.2" ry="1.1" fill="url(#g)" opacity="0.029" transform="rotate(1.7 33.9 111.4)"/>
<ellipse cx="73.7" cy="78.3" rx="51.1" ry="0.8" fill="url(#g)" opacity="0.026" transform="rotate(0.5 73.7 78.3)"/>
<ellipse cx="67.7" cy="111.9" rx="53.3" ry="1.2" fill="url(#g)" opacity="0.016" transform="rotate(0.8 67.7 111.9)"/>
<ellipse cx="87.0" cy="122.7" rx="36.9" ry="1.5" fill="url(#g)" opacity="0.019" transform="rotate(-0.0 87.0 122.7)"/>
<ellipse cx="62.0" cy="141.2" rx="38.2" ry="1.2" fill="url(#g)" opacity="0.022" transform="rotate(1.3 62.0 141.2)"/>
<ellipse cx="35.4" cy="191.0" rx="32.2" ry="0.9" fill="url(#g)" opacity="0.048" transform="rotate(0.3 35.4 191.0)"/>
<ellipse cx="54.4" cy="196.0" rx="32.7" ry="0.9" fill="url(#g)" opacity="0.049" transform="rotate(-1.0 54.4 196.0)"/>
<ellipse cx="42.2" cy="23.7" rx="24.0" ry="1.3" fill="url(#g)" opacity="0.044" transform="rotate(-0.9 42.2 23.7)"/>
<ellipse cx="124.5" cy="134.3" rx="15.2" ry="0.7" fill="url(#g)" opacity="0.024" transform="rotate(0.9 124.5 134.3)"/>
<ellipse cx="47.5" cy="104.2" rx="39.6" ry="1.6" fill="url(#g)" opacity="0.020" transform="rotate(-1.0 47.5 104.2)"/>
<ellipse cx="34.9" cy="188.5" rx="59.7" ry="0.7" fill="url(#g)" opacity="0.017" transform="rotate(0.3 34.9 188.5)"/>
<ellipse cx="34.7" cy="159.3" rx="23.5" ry="0.6" fill="url(#g)" opacity="0.049" transform="rotate(1.7 34.7 159.3)"/>
<ellipse cx="63.5" cy="114.9" rx="19.8" ry="0.9" fill="url(#g)" opacity="0.020" transform="rotate(1.1 63.5 114.9)"/>
<ellipse cx="27.8" cy="35.6" rx="30.9" ry="0.8" fill="url(#g)" opacity="0.048" transform="rotate(-0.0 27.8 35.6)"/>
<ellipse cx="147.2" cy="207.4" rx="26.1" ry="1.1" fill="url(#g)" opacity="0.040" transform="rotate(0.7 147.2 207.4)"/>
<ellipse cx="13.0" cy="70.1" rx="30.5" ry="1.2" fill="url(#g)" opacity="0.031" transform="rotate(1.0 13.0 70.1)"/>
<ellipse cx="71.9" cy="114.4" rx="39.0" ry="1.2" fill="url(#g)" opacity="0.048" transform="rotate(0.0 71.9 114.4)"/>
<ellipse cx="35.1" cy="176.4" rx="58.4" ry="0.9" fill="url(#g)" opacity="0.022" transform="rotate(0.0 35.1 176.4)"/>
<ellipse cx="147.0" cy="17.3" rx="33.4" ry="0.6" fill="url(#g)" opacity="0.045" transform="rotate(-0.0 147.0 17.3)"/>
<ellipse cx="148.8" cy="166.4" rx="45.8" ry="0.7" fill="url(#g)" opacity="0.034" transform="rotate(0.4 148.8 166.4)"/>
<ellipse cx="30.5" cy="95.8" rx="42.0" ry="1.0" fill="url(#g)" opacity="0.026" transform="rotate(-0.2 30.5 95.8)"/>
<ellipse cx="94.1" cy="79.0" rx="59.1" ry="1.4" fill="url(#g)" opacity="0.025" transform="rotate(0.8 94.1 79.0)"/>
<ellipse cx="47.8" cy="203.0" rx="20.5" ry="0.9" fill="url(#g)" opacity="0.038" transform="rotate(0.6 47.8 203.0)"/>
<ellipse cx="145.4" cy="63.9" rx="35.4" ry="1.5" fill="url(#g)" opacity="0.050" transform="rotate(0.0 145.4 63.9)"/>
<ellipse cx="71.8" cy="113.5" rx="42.8" ry="1.4" fill="url(#g)" opacity="0.042" transform="rotate(-0.7 71.8 113.5)"/>
<ellipse cx="81.0" cy="23.4" rx="75.0" ry="14.0" fill="url(#f)" opacity="0.035"/>
<ellipse cx="86.5" cy="23.6" rx="63.5" ry="1.2" fill="url(#g)" opacity="0.050" transform="rotate(0.2 86.5 23.6)"/>
<ellipse cx="86.5" cy="26.6" rx="63.5" ry="1.2" fill="url(#g)" opacity="0.050" transform="rotate(0.2 86.5 26.6)"/>
<ellipse cx="86.5" cy="29.6" rx="63.5" ry="1.2" fill="url(#g)" opacity="0.050" transform="rotate(0.2 86.5 29.6)"/>
<ellipse cx="86.5" cy="32.6" rx="63.5" ry="1.2" fill="url(#g)" opacity="0.050" transform="rotate(0.2 86.5 32.6)"/>
<ellipse cx="6.0" cy="22.4" rx="5.0" ry="4.5" fill="url(#g)" opacity="0.200"/>
<ellipse cx="9.0" cy="28.9" rx="8.8" ry="1.3" fill="url(#g)" opacity="0.200" transform="rotate(47.3 9.0 28.9)"/>
<ellipse cx="14.0" cy="39.4" rx="10.0" ry="1.0" fill="url(#g)" opacity="0.150" transform="rotate(53.1 14.0 39.4)"/>
<ellipse cx="14.0" cy="35.4" rx="2.5" ry="2.5" fill="url(#g)" opacity="0.405"/>
<ellipse cx="15.0" cy="35.4" rx="6.5" ry="5.5" fill="url(#g)" opacity="0.280"/>
<ellipse cx="15.0" cy="35.9" rx="6.1" ry="1.1" fill="url(#g)" opacity="0.220" transform="rotate(35.0 15.0 35.9)"/>
<ellipse cx="15.0" cy="35.4" rx="5.8" ry="1.0" fill="url(#g)" opacity="0.180" transform="rotate(-31.0 15.0 35.4)"/>
<ellipse cx="19.0" cy="46.4" rx="2.2" ry="1.8" fill="url(#g)" opacity="0.675"/>
<ellipse cx="20.0" cy="46.4" rx="6.2" ry="4.8" fill="url(#g)" opacity="0.280"/>
<ellipse cx="20.0" cy="46.9" rx="6.1" ry="1.1" fill="url(#g)" opacity="0.220" transform="rotate(35.0 20.0 46.9)"/>
<ellipse cx="20.0" cy="46.4" rx="5.8" ry="1.0" fill="url(#g)" opacity="0.180" transform="rotate(-31.0 20.0 46.4)"/>
<ellipse cx="23.0" cy="55.4" rx="2.5" ry="2.0" fill="url(#g)" opacity="0.630"/>
<ellipse cx="24.0" cy="55.4" rx="6.5" ry="5.0" fill="url(#g)" opacity="0.280"/>
<ellipse cx="24.0" cy="55.9" rx="6.1" ry="1.1" fill="url(#g)" opacity="0.220" transform="rotate(35.0 24.0 55.9)"/>
<ellipse cx="24.0" cy="55.4" rx="5.8" ry="1.0" fill="url(#g)" opacity="0.180" transform="rotate(-31.0 24.0 55.4)"/>
<ellipse cx="25.0" cy="59.4" rx="2.5" ry="2.0" fill="url(#g)" opacity="0.765"/>
<ellipse cx="26.0" cy="59.4" rx="6.5" ry="5.0" fill="url(#g)" opacity="0.280"/>
<ellipse cx="26.0" cy="59.9" rx="6.1" ry="1.1" fill="url(#g)" opacity="0.220" transform="rotate(35.0 26.0 59.9)"/>
<ellipse cx="26.0" cy="59.4" rx="5.8" ry="1.0" fill="url(#g)" opacity="0.180" transform="rotate(-31.0 26.0 59.4)"/>
<ellipse cx="26.5" cy="64.9" rx="2.5" ry="2.0" fill="url(#g)" opacity="0.630"/>
<ellipse cx="27.5" cy="64.9" rx="6.5" ry="5.0" fill="url(#g)" opacity="0.280"/>
<ellipse cx="27.5" cy="65.4" rx="6.1" ry="1.1" fill="url(#g)" opacity="0.220" transform="rotate(35.0 27.5 65.4)"/>
<ellipse cx="27.5" cy="64.9" rx="5.8" ry="1.0" fill="url(#g)" opacity="0.180" transform="rotate(-31.0 27.5 64.9)"/>
<ellipse cx="28.0" cy="68.4" rx="2.5" ry="1.8" fill="url(#g)" opacity="0.630"/>
<ellipse cx="29.0" cy="68.4" rx="6.5" ry="4.8" fill="url(#g)" opacity="0.280"/>
<ellipse cx="29.0" cy="68.9" rx="6.1" ry="1.1" fill="url(#g)" opacity="0.220" transform="rotate(35.0 29.0 68.9)"/>
<ellipse cx="29.0" cy="68.4" rx="5.8" ry="1.0" fill="url(#g)" opacity="0.180" transform="rotate(-31.0 29.0 68.4)"/>
<ellipse cx="28.5" cy="75.4" rx="2.5" ry="2.0" fill="url(#g)" opacity="0.540"/>
<ellipse cx="29.5" cy="75.4" rx="6.5" ry="5.0" fill="url(#g)" opacity="0.280"/>
<ellipse cx="29.5" cy="75.9" rx="6.1" ry="1.1" fill="url(#g)" opacity="0.220" transform="rotate(35.0 29.5 75.9)"/>
<ellipse cx="29.5" cy="75.4" rx="5.8" ry="1.0" fill="url(#g)" opacity="0.180" transform="rotate(-31.0 29.5 75.4)"/>
<ellipse cx="33.5" cy="85.4" rx="3.0" ry="2.5" fill="url(#g)" opacity="0.810" transform="rotate(30.0 33.5 85.4)"/>
<ellipse cx="34.5" cy="85.4" rx="7.0" ry="5.5" fill="url(#g)" opacity="0.280" transform="rotate(30.0 34.5 85.4)"/>
<ellipse cx="34.5" cy="85.9" rx="6.1" ry="1.1" fill="url(#g)" opacity="0.220" transform="rotate(35.0 34.5 85.9)"/>
<ellipse cx="34.5" cy="85.4" rx="5.8" ry="1.0" fill="url(#g)" opacity="0.180" transform="rotate(-31.0 34.5 85.4)"/>
<ellipse cx="37.5" cy="93.4" rx="2.5" ry="2.0" fill="url(#g)" opacity="0.765" transform="rotate(30.0 37.5 93.4)"/>
<ellipse cx="38.5" cy="93.4" rx="6.5" ry="5.0" fill="url(#g)" opacity="0.280" transform="rotate(30.0 38.5 93.4)"/>
<ellipse cx="38.5" cy="93.9" rx="6.1" ry="1.1" fill="url(#g)" opacity="0.220" transform="rotate(35.0 38.5 93.9)"/>
<ellipse cx="38.5" cy="93.4" rx="5.8" ry="1.0" fill="url(#g)" opacity="0.180" transform="rotate(-31.0 38.5 93.4)"/>
<ellipse cx="39.0" cy="97.4" rx="2.5" ry="2.0" fill="url(#g)" opacity="0.675"/>
<ellipse cx="40.0" cy="97.4" rx="6.5" ry="5.0" fill="url(#g)" opacity="0.280"/>
<ellipse cx="40.0" cy="97.9" rx="6.1" ry="1.1" fill="url(#g)" opacity="0.220" transform="rotate(35.0 40.0 97.9)"/>
<ellipse cx="40.0" cy="97.4" rx="5.8" ry="1.0" fill="url(#g)" opacity="0.180" transform="rotate(-31.0 40.0 97.4)"/>
<path d="M 1.0 17.4 C 8.0 12.4 23.0 10.4 43.0 9.9 L 150.0 9.9" fill="none" stroke="#fff" stroke-width="1.3" stroke-linecap="butt" opacity="0.080" filter="url(#b05)"/>
<path d="M 1.0 20.4 C 11.0 17.4 28.0 15.9 48.0 15.4 L 150.0 15.4" fill="none" stroke="#fff" stroke-width="1.3" stroke-linecap="butt" opacity="0.080" filter="url(#b05)"/>
<path d="M 3.0 25.4 C 13.0 22.4 33.0 21.4 53.0 20.9 L 150.0 20.9" fill="none" stroke="#fff" stroke-width="1.3" stroke-linecap="butt" opacity="0.070" filter="url(#b05)"/>
<path d="M 8.0 29.4 C 23.0 27.4 43.0 26.4 150.0 26.4" fill="none" stroke="#fff" stroke-width="1.3" stroke-linecap="butt" opacity="0.060" filter="url(#b05)"/>
<ellipse cx="63.0" cy="53.9" rx="40.3" ry="1.3" fill="url(#g)" opacity="0.160" transform="rotate(6.4 63.0 53.9)"/>
<ellipse cx="68.0" cy="65.9" rx="35.1" ry="1.2" fill="url(#g)" opacity="0.130" transform="rotate(4.1 68.0 65.9)"/>
<ellipse cx="38.5" cy="104.4" rx="4.5" ry="2.0" fill="url(#h)" opacity="0.558" transform="rotate(6.3 38.5 104.4)"/>
<ellipse cx="40.0" cy="104.7" rx="9.0" ry="5.5" fill="url(#g)" opacity="0.297" transform="rotate(4.8 40.0 104.7)"/>
<ellipse cx="51.9" cy="106.3" rx="12.0" ry="1.4" fill="url(#g)" opacity="0.238" transform="rotate(6.6 51.9 106.3)"/>
<ellipse cx="40.5" cy="112.4" rx="4.5" ry="1.8" fill="url(#h)" opacity="0.372" transform="rotate(6.3 40.5 112.4)"/>
<ellipse cx="42.0" cy="112.7" rx="9.0" ry="5.3" fill="url(#g)" opacity="0.198" transform="rotate(4.8 42.0 112.7)"/>
<ellipse cx="58.5" cy="114.0" rx="16.5" ry="1.5" fill="url(#g)" opacity="0.228" transform="rotate(3.7 58.5 114.0)"/>
<ellipse cx="46.0" cy="119.4" rx="5.0" ry="2.2" fill="url(#h)" opacity="0.558" transform="rotate(5.7 46.0 119.4)"/>
<ellipse cx="47.5" cy="119.7" rx="9.5" ry="5.7" fill="url(#g)" opacity="0.297" transform="rotate(4.5 47.5 119.7)"/>
<ellipse cx="65.5" cy="122.0" rx="17.6" ry="1.6" fill="url(#g)" opacity="0.176" transform="rotate(6.9 65.5 122.0)"/>
<ellipse cx="46.5" cy="124.4" rx="4.5" ry="2.2" fill="url(#h)" opacity="0.570" transform="rotate(6.3 46.5 124.4)"/>
<ellipse cx="48.0" cy="124.7" rx="9.0" ry="5.7" fill="url(#g)" opacity="0.304" transform="rotate(4.8 48.0 124.7)"/>
<ellipse cx="63.5" cy="126.3" rx="15.6" ry="1.4" fill="url(#g)" opacity="0.177" transform="rotate(5.1 63.5 126.3)"/>
<ellipse cx="47.0" cy="129.4" rx="5.0" ry="2.0" fill="url(#h)" opacity="0.558" transform="rotate(5.7 47.0 129.4)"/>
<ellipse cx="48.5" cy="129.7" rx="9.5" ry="5.5" fill="url(#g)" opacity="0.297" transform="rotate(4.5 48.5 129.7)"/>
<ellipse cx="69.8" cy="132.4" rx="20.9" ry="1.6" fill="url(#g)" opacity="0.155" transform="rotate(7.0 69.8 132.4)"/>
<ellipse cx="50.0" cy="136.4" rx="4.0" ry="2.0" fill="url(#h)" opacity="0.546" transform="rotate(7.1 50.0 136.4)"/>
<ellipse cx="51.5" cy="136.7" rx="8.5" ry="5.5" fill="url(#g)" opacity="0.290" transform="rotate(5.0 51.5 136.7)"/>
<ellipse cx="65.3" cy="138.0" rx="14.3" ry="1.6" fill="url(#g)" opacity="0.154" transform="rotate(4.4 65.3 138.0)"/>
<ellipse cx="51.5" cy="142.4" rx="4.5" ry="1.8" fill="url(#h)" opacity="0.496" transform="rotate(6.3 51.5 142.4)"/>
<ellipse cx="53.0" cy="142.7" rx="9.0" ry="5.3" fill="url(#g)" opacity="0.264" transform="rotate(4.8 53.0 142.7)"/>
<ellipse cx="65.2" cy="143.8" rx="12.3" ry="1.4" fill="url(#g)" opacity="0.143" transform="rotate(4.1 65.2 143.8)"/>
<ellipse cx="60.0" cy="147.4" rx="7.0" ry="2.4" fill="url(#h)" opacity="0.570" transform="rotate(4.1 60.0 147.4)"/>
<ellipse cx="61.5" cy="147.7" rx="11.5" ry="5.9" fill="url(#g)" opacity="0.304" transform="rotate(3.7 61.5 147.7)"/>
<ellipse cx="83.1" cy="150.3" rx="19.2" ry="1.5" fill="url(#g)" opacity="0.214" transform="rotate(7.2 83.1 150.3)"/>
<ellipse cx="59.5" cy="152.4" rx="6.5" ry="2.0" fill="url(#h)" opacity="0.527" transform="rotate(4.4 59.5 152.4)"/>
<ellipse cx="61.0" cy="152.7" rx="11.0" ry="5.5" fill="url(#g)" opacity="0.281" transform="rotate(3.9 61.0 152.7)"/>
<ellipse cx="86.4" cy="155.7" rx="23.6" ry="1.7" fill="url(#g)" opacity="0.184" transform="rotate(6.8 86.4 155.7)"/>
<ellipse cx="58.5" cy="157.9" rx="6.5" ry="2.0" fill="url(#h)" opacity="0.546" transform="rotate(4.4 58.5 157.9)"/>
<ellipse cx="60.0" cy="158.2" rx="11.0" ry="5.5" fill="url(#g)" opacity="0.290" transform="rotate(3.9 60.0 158.2)"/>
<ellipse cx="83.2" cy="159.6" rx="21.3" ry="1.7" fill="url(#g)" opacity="0.178" transform="rotate(3.3 83.2 159.6)"/>
<ellipse cx="60.5" cy="163.4" rx="6.5" ry="2.2" fill="url(#h)" opacity="0.558" transform="rotate(4.4 60.5 163.4)"/>
<ellipse cx="62.0" cy="163.7" rx="11.0" ry="5.7" fill="url(#g)" opacity="0.297" transform="rotate(3.9 62.0 163.7)"/>
<ellipse cx="82.1" cy="166.1" rx="18.3" ry="1.4" fill="url(#g)" opacity="0.159" transform="rotate(7.0 82.1 166.1)"/>
<ellipse cx="62.5" cy="166.9" rx="9.5" ry="1.8" fill="url(#h)" opacity="0.527" transform="rotate(3.0 62.5 166.9)"/>
<ellipse cx="64.0" cy="167.2" rx="14.0" ry="5.3" fill="url(#g)" opacity="0.281" transform="rotate(3.1 64.0 167.2)"/>
<ellipse cx="92.4" cy="169.7" rx="23.5" ry="1.3" fill="url(#g)" opacity="0.143" transform="rotate(5.7 92.4 169.7)"/>
<ellipse cx="59.0" cy="171.9" rx="10.0" ry="2.0" fill="url(#h)" opacity="0.558" transform="rotate(2.9 59.0 171.9)"/>
<ellipse cx="60.5" cy="172.2" rx="14.5" ry="5.5" fill="url(#g)" opacity="0.297" transform="rotate(3.0 60.5 172.2)"/>
<ellipse cx="82.3" cy="173.2" rx="16.3" ry="1.7" fill="url(#g)" opacity="0.158" transform="rotate(2.7 82.3 173.2)"/>
<ellipse cx="65.5" cy="178.4" rx="8.5" ry="2.0" fill="url(#h)" opacity="0.546" transform="rotate(3.4 65.5 178.4)"/>
<ellipse cx="67.0" cy="178.7" rx="13.0" ry="5.5" fill="url(#g)" opacity="0.290" transform="rotate(3.3 67.0 178.7)"/>
<ellipse cx="86.1" cy="180.1" rx="15.2" ry="1.5" fill="url(#g)" opacity="0.183" transform="rotate(4.5 86.1 180.1)"/>
<ellipse cx="63.0" cy="184.9" rx="11.0" ry="1.8" fill="url(#h)" opacity="0.527" transform="rotate(2.6 63.0 184.9)"/>
<ellipse cx="64.5" cy="185.2" rx="15.5" ry="5.3" fill="url(#g)" opacity="0.281" transform="rotate(2.8 64.5 185.2)"/>
<ellipse cx="91.4" cy="187.5" rx="20.5" ry="1.5" fill="url(#g)" opacity="0.150" transform="rotate(5.9 91.4 187.5)"/>
<ellipse cx="72.5" cy="190.9" rx="7.5" ry="2.0" fill="url(#h)" opacity="0.527" transform="rotate(3.8 72.5 190.9)"/>
<ellipse cx="74.0" cy="191.2" rx="12.0" ry="5.5" fill="url(#g)" opacity="0.281" transform="rotate(3.6 74.0 191.2)"/>
<ellipse cx="102.7" cy="194.2" rx="25.8" ry="1.3" fill="url(#g)" opacity="0.184" transform="rotate(6.2 102.7 194.2)"/>
<ellipse cx="80.5" cy="201.9" rx="23.5" ry="2.6" fill="url(#h)" opacity="0.484" transform="rotate(1.2 80.5 201.9)"/>
<ellipse cx="82.0" cy="202.2" rx="28.0" ry="6.1" fill="url(#g)" opacity="0.257" transform="rotate(1.5 82.0 202.2)"/>
<ellipse cx="123.3" cy="205.4" rx="22.5" ry="1.2" fill="url(#g)" opacity="0.141" transform="rotate(7.6 123.3 205.4)"/>
<ellipse cx="93.0" cy="179.9" rx="15.0" ry="1.5" fill="url(#g)" opacity="0.550" transform="rotate(1.9 93.0 179.9)"/>
<ellipse cx="93.0" cy="191.9" rx="20.0" ry="1.5" fill="url(#g)" opacity="0.400" transform="rotate(1.4 93.0 191.9)"/>
<ellipse cx="85.5" cy="206.9" rx="22.5" ry="1.2" fill="url(#g)" opacity="0.600" transform="rotate(1.3 85.5 206.9)"/>
<ellipse cx="112.0" cy="203.9" rx="19.0" ry="1.3" fill="url(#g)" opacity="0.450" transform="rotate(1.5 112.0 203.9)"/>
<linearGradient id="lg2_260" gradientUnits="userSpaceOnUse" x1="73.0" y1="0" x2="150.0" y2="0"><stop offset="0" stop-color="#fff" stop-opacity="0.28"/><stop offset="1" stop-color="#fff" stop-opacity="0.08"/></linearGradient>
<path d="M 71.0 175.4 C 93.0 178.4 123.0 184.4 150.0 188.4" fill="none" stroke="url(#lg2_260)" stroke-width="1.4" filter="url(#b05)"/>
<linearGradient id="lg2_262" gradientUnits="userSpaceOnUse" x1="73.0" y1="0" x2="150.0" y2="0"><stop offset="0" stop-color="#fff" stop-opacity="0.28"/><stop offset="1" stop-color="#fff" stop-opacity="0.08"/></linearGradient>
<path d="M 71.0 186.4 C 98.0 190.4 123.0 195.4 150.0 198.4" fill="none" stroke="url(#lg2_262)" stroke-width="1.4" filter="url(#b05)"/>
<linearGradient id="lg2_264" gradientUnits="userSpaceOnUse" x1="73.0" y1="0" x2="150.0" y2="0"><stop offset="0" stop-color="#fff" stop-opacity="0.28"/><stop offset="1" stop-color="#fff" stop-opacity="0.08"/></linearGradient>
<path d="M 73.0 166.4 C 98.0 170.4 123.0 175.4 150.0 179.4" fill="none" stroke="url(#lg2_264)" stroke-width="1.4" filter="url(#b05)"/>
<linearGradient id="lg2_266" gradientUnits="userSpaceOnUse" x1="73.0" y1="0" x2="150.0" y2="0"><stop offset="0" stop-color="#fff" stop-opacity="0.28"/><stop offset="1" stop-color="#fff" stop-opacity="0.08"/></linearGradient>
<path d="M 73.0 155.4 C 98.0 158.4 123.0 163.4 150.0 166.4" fill="none" stroke="url(#lg2_266)" stroke-width="1.4" filter="url(#b05)"/>
<ellipse cx="39.0" cy="52.4" rx="11.2" ry="1.5" fill="url(#g)" opacity="0.330" transform="rotate(10.3 39.0 52.4)"/>
<ellipse cx="69.5" cy="78.4" rx="16.5" ry="1.6" fill="url(#g)" opacity="0.360" transform="rotate(1.7 69.5 78.4)"/>
<ellipse cx="75.5" cy="84.2" rx="19.5" ry="1.6" fill="url(#g)" opacity="0.360" transform="rotate(2.2 75.5 84.2)"/>
<ellipse cx="59.0" cy="136.4" rx="6.1" ry="1.0" fill="url(#g)" opacity="0.300" transform="rotate(9.5 59.0 136.4)"/>
<ellipse cx="83.0" cy="159.4" rx="10.0" ry="1.0" fill="url(#g)" opacity="0.300" transform="rotate(5.7 83.0 159.4)"/>
<ellipse cx="95.5" cy="203.4" rx="27.5" ry="1.5" fill="url(#g)" opacity="0.550" transform="rotate(1.0 95.5 203.4)"/>
<ellipse cx="85.5" cy="206.7" rx="12.5" ry="1.0" fill="url(#g)" opacity="0.450" transform="rotate(1.1 85.5 206.7)"/>
<ellipse cx="48.0" cy="197.9" rx="15.0" ry="1.0" fill="url(#g)" opacity="0.300" transform="rotate(1.9 48.0 197.9)"/>
<ellipse cx="107.0" cy="179.9" rx="42.7" ry="1.0" fill="url(#g)" opacity="0.200" transform="rotate(10.1 107.0 179.9)"/>
<ellipse cx="107.0" cy="188.9" rx="42.5" ry="1.0" fill="url(#g)" opacity="0.200" transform="rotate(8.8 107.0 188.9)"/>
<ellipse cx="107.0" cy="195.9" rx="42.1" ry="1.0" fill="url(#g)" opacity="0.180" transform="rotate(4.8 107.0 195.9)"/>
<ellipse cx="106.0" cy="152.4" rx="43.3" ry="0.9" fill="url(#g)" opacity="0.120" transform="rotate(6.6 106.0 152.4)"/>
<ellipse cx="101.0" cy="131.4" rx="48.2" ry="0.9" fill="url(#g)" opacity="0.100" transform="rotate(4.8 101.0 131.4)"/>
<ellipse cx="98.5" cy="110.9" rx="50.6" ry="0.9" fill="url(#g)" opacity="0.080" transform="rotate(4.0 98.5 110.9)"/>
<ellipse cx="96.0" cy="94.9" rx="53.1" ry="0.9" fill="url(#g)" opacity="0.080" transform="rotate(2.7 96.0 94.9)"/>
<ellipse cx="91.0" cy="68.9" rx="58.0" ry="0.9" fill="url(#g)" opacity="0.080" transform="rotate(1.5 91.0 68.9)"/>
<ellipse cx="40.0" cy="107.4" rx="3.9" ry="3.5" fill="url(#g)" opacity="0.100" transform="rotate(60.0 40.0 107.4)"/>
<ellipse cx="39.9" cy="107.1" rx="4.8" ry="1.5" fill="url(#g)" opacity="0.327" transform="rotate(16.5 39.9 107.1)"/>
<ellipse cx="40.8" cy="109.9" rx="4.0" ry="3.5" fill="url(#g)" opacity="0.100" transform="rotate(60.0 40.8 109.9)"/>
<ellipse cx="39.0" cy="109.0" rx="6.3" ry="1.5" fill="url(#g)" opacity="0.318" transform="rotate(-15.9 39.0 109.0)"/>
<ellipse cx="41.7" cy="112.4" rx="4.1" ry="3.5" fill="url(#g)" opacity="0.100" transform="rotate(60.0 41.7 112.4)"/>
<ellipse cx="39.0" cy="112.5" rx="4.4" ry="1.8" fill="url(#g)" opacity="0.270" transform="rotate(17.1 39.0 112.5)"/>
<ellipse cx="42.5" cy="114.9" rx="4.2" ry="3.5" fill="url(#g)" opacity="0.100" transform="rotate(60.0 42.5 114.9)"/>
<ellipse cx="42.7" cy="114.2" rx="5.1" ry="1.5" fill="url(#g)" opacity="0.261" transform="rotate(18.0 42.7 114.2)"/>
<ellipse cx="43.3" cy="117.4" rx="4.3" ry="3.5" fill="url(#g)" opacity="0.100" transform="rotate(60.0 43.3 117.4)"/>
<ellipse cx="45.1" cy="116.8" rx="3.7" ry="1.4" fill="url(#g)" opacity="0.473" transform="rotate(14.8 45.1 116.8)"/>
<ellipse cx="44.2" cy="119.9" rx="4.4" ry="3.5" fill="url(#g)" opacity="0.100" transform="rotate(60.0 44.2 119.9)"/>
<ellipse cx="42.1" cy="120.8" rx="3.9" ry="1.7" fill="url(#g)" opacity="0.461" transform="rotate(16.5 42.1 120.8)"/>
<ellipse cx="45.0" cy="122.4" rx="4.5" ry="3.5" fill="url(#g)" opacity="0.100" transform="rotate(60.0 45.0 122.4)"/>
<ellipse cx="43.0" cy="122.2" rx="6.1" ry="1.7" fill="url(#g)" opacity="0.256" transform="rotate(-19.0 43.0 122.2)"/>
<ellipse cx="55.5" cy="124.2" rx="12.6" ry="0.9" fill="url(#g)" opacity="0.188" transform="rotate(8.3 55.5 124.2)"/>
<ellipse cx="45.8" cy="124.9" rx="4.7" ry="3.5" fill="url(#g)" opacity="0.100" transform="rotate(60.0 45.8 124.9)"/>
<ellipse cx="44.1" cy="124.3" rx="4.8" ry="1.5" fill="url(#g)" opacity="0.408" transform="rotate(2.2 44.1 124.3)"/>
<ellipse cx="61.6" cy="126.8" rx="17.5" ry="1.1" fill="url(#g)" opacity="0.241" transform="rotate(6.4 61.6 126.8)"/>
<ellipse cx="46.7" cy="127.4" rx="4.8" ry="3.5" fill="url(#g)" opacity="0.100" transform="rotate(60.0 46.7 127.4)"/>
<ellipse cx="44.3" cy="127.6" rx="5.4" ry="1.4" fill="url(#g)" opacity="0.425" transform="rotate(10.8 44.3 127.6)"/>
<ellipse cx="62.7" cy="131.8" rx="19.0" ry="1.0" fill="url(#g)" opacity="0.237" transform="rotate(13.5 62.7 131.8)"/>
<ellipse cx="47.5" cy="129.9" rx="4.9" ry="3.5" fill="url(#g)" opacity="0.100" transform="rotate(60.0 47.5 129.9)"/>
<ellipse cx="45.8" cy="130.5" rx="6.5" ry="1.3" fill="url(#g)" opacity="0.470" transform="rotate(4.4 45.8 130.5)"/>
<ellipse cx="48.3" cy="132.4" rx="5.0" ry="3.5" fill="url(#g)" opacity="0.100" transform="rotate(60.0 48.3 132.4)"/>
<ellipse cx="48.2" cy="132.9" rx="5.3" ry="1.2" fill="url(#g)" opacity="0.254" transform="rotate(6.8 48.2 132.9)"/>
<ellipse cx="49.2" cy="134.9" rx="5.1" ry="3.5" fill="url(#g)" opacity="0.100" transform="rotate(60.0 49.2 134.9)"/>
<ellipse cx="51.9" cy="134.8" rx="5.0" ry="1.5" fill="url(#g)" opacity="0.343" transform="rotate(17.3 51.9 134.8)"/>
<ellipse cx="50.0" cy="137.4" rx="5.2" ry="3.5" fill="url(#g)" opacity="0.100" transform="rotate(60.0 50.0 137.4)"/>
<ellipse cx="47.6" cy="137.0" rx="6.2" ry="1.7" fill="url(#g)" opacity="0.228" transform="rotate(11.1 47.6 137.0)"/>
<ellipse cx="51.1" cy="139.9" rx="5.5" ry="3.5" fill="url(#g)" opacity="0.100" transform="rotate(60.0 51.1 139.9)"/>
<ellipse cx="55.3" cy="138.9" rx="5.5" ry="1.6" fill="url(#g)" opacity="0.451" transform="rotate(5.8 55.3 138.9)"/>
<ellipse cx="52.2" cy="142.4" rx="5.9" ry="3.5" fill="url(#g)" opacity="0.100" transform="rotate(60.0 52.2 142.4)"/>
<ellipse cx="52.1" cy="142.5" rx="4.7" ry="1.2" fill="url(#g)" opacity="0.370" transform="rotate(14.0 52.1 142.5)"/>
<ellipse cx="53.4" cy="144.9" rx="6.2" ry="3.5" fill="url(#g)" opacity="0.100" transform="rotate(60.0 53.4 144.9)"/>
<ellipse cx="51.7" cy="144.3" rx="4.7" ry="1.5" fill="url(#g)" opacity="0.417" transform="rotate(-21.3 51.7 144.3)"/>
<ellipse cx="58.5" cy="146.0" rx="6.9" ry="0.9" fill="url(#g)" opacity="0.226" transform="rotate(9.3 58.5 146.0)"/>
<ellipse cx="54.5" cy="147.4" rx="6.5" ry="3.5" fill="url(#g)" opacity="0.100" transform="rotate(60.0 54.5 147.4)"/>
<ellipse cx="51.2" cy="148.1" rx="5.0" ry="1.4" fill="url(#g)" opacity="0.230" transform="rotate(18.5 51.2 148.1)"/>
<ellipse cx="61.6" cy="148.8" rx="10.6" ry="1.3" fill="url(#g)" opacity="0.168" transform="rotate(7.5 61.6 148.8)"/>
<ellipse cx="55.6" cy="149.9" rx="6.8" ry="3.5" fill="url(#g)" opacity="0.100" transform="rotate(60.0 55.6 149.9)"/>
<ellipse cx="60.3" cy="150.8" rx="4.1" ry="1.5" fill="url(#g)" opacity="0.343" transform="rotate(5.2 60.3 150.8)"/>
<ellipse cx="56.8" cy="152.4" rx="7.2" ry="3.5" fill="url(#g)" opacity="0.100" transform="rotate(60.0 56.8 152.4)"/>
<ellipse cx="53.4" cy="152.9" rx="6.2" ry="1.2" fill="url(#g)" opacity="0.267" transform="rotate(15.8 53.4 152.9)"/>
<ellipse cx="57.9" cy="154.9" rx="7.5" ry="3.5" fill="url(#g)" opacity="0.100" transform="rotate(60.0 57.9 154.9)"/>
<ellipse cx="60.8" cy="154.6" rx="5.8" ry="1.2" fill="url(#g)" opacity="0.268" transform="rotate(19.5 60.8 154.6)"/>
<ellipse cx="59.0" cy="157.4" rx="7.8" ry="3.5" fill="url(#g)" opacity="0.100" transform="rotate(60.0 59.0 157.4)"/>
<ellipse cx="56.2" cy="157.9" rx="5.0" ry="1.6" fill="url(#g)" opacity="0.353" transform="rotate(17.4 56.2 157.9)"/>
<ellipse cx="59.4" cy="159.9" rx="8.1" ry="3.5" fill="url(#g)" opacity="0.100" transform="rotate(60.0 59.4 159.9)"/>
<ellipse cx="63.2" cy="159.7" rx="3.6" ry="1.2" fill="url(#g)" opacity="0.277" transform="rotate(11.7 63.2 159.7)"/>
<ellipse cx="59.8" cy="162.4" rx="8.5" ry="3.5" fill="url(#g)" opacity="0.100" transform="rotate(60.0 59.8 162.4)"/>
<ellipse cx="56.0" cy="163.1" rx="5.7" ry="1.4" fill="url(#g)" opacity="0.427" transform="rotate(19.1 56.0 163.1)"/>
<ellipse cx="70.8" cy="165.6" rx="15.2" ry="1.3" fill="url(#g)" opacity="0.180" transform="rotate(12.2 70.8 165.6)"/>
<ellipse cx="60.1" cy="164.9" rx="8.8" ry="3.5" fill="url(#g)" opacity="0.100" transform="rotate(60.0 60.1 164.9)"/>
<ellipse cx="55.5" cy="165.4" rx="3.9" ry="1.5" fill="url(#g)" opacity="0.494" transform="rotate(9.7 55.5 165.4)"/>
<ellipse cx="60.5" cy="167.4" rx="9.1" ry="3.5" fill="url(#g)" opacity="0.100" transform="rotate(60.0 60.5 167.4)"/>
<ellipse cx="62.0" cy="168.2" rx="3.9" ry="1.1" fill="url(#g)" opacity="0.248" transform="rotate(-16.3 62.0 168.2)"/>
<ellipse cx="80.7" cy="170.1" rx="19.0" ry="1.0" fill="url(#g)" opacity="0.299" transform="rotate(8.3 80.7 170.1)"/>
<ellipse cx="60.9" cy="169.9" rx="9.4" ry="3.5" fill="url(#g)" opacity="0.100" transform="rotate(60.0 60.9 169.9)"/>
<ellipse cx="62.5" cy="169.5" rx="5.6" ry="1.2" fill="url(#g)" opacity="0.279" transform="rotate(0.0 62.5 169.5)"/>
<ellipse cx="76.9" cy="171.8" rx="14.6" ry="1.3" fill="url(#g)" opacity="0.165" transform="rotate(7.6 76.9 171.8)"/>
<ellipse cx="61.2" cy="172.4" rx="9.8" ry="3.5" fill="url(#g)" opacity="0.100" transform="rotate(60.0 61.2 172.4)"/>
<ellipse cx="65.8" cy="172.7" rx="4.5" ry="1.3" fill="url(#g)" opacity="0.317" transform="rotate(8.9 65.8 172.7)"/>
<ellipse cx="61.6" cy="174.9" rx="10.1" ry="3.5" fill="url(#g)" opacity="0.100" transform="rotate(60.0 61.6 174.9)"/>
<ellipse cx="66.3" cy="174.1" rx="4.4" ry="1.5" fill="url(#g)" opacity="0.304" transform="rotate(8.3 66.3 174.1)"/>
<ellipse cx="62.0" cy="177.4" rx="10.4" ry="3.5" fill="url(#g)" opacity="0.100" transform="rotate(60.0 62.0 177.4)"/>
<ellipse cx="63.6" cy="177.1" rx="4.1" ry="1.5" fill="url(#g)" opacity="0.287" transform="rotate(-29.4 63.6 177.1)"/>
<ellipse cx="81.8" cy="180.8" rx="18.6" ry="1.1" fill="url(#g)" opacity="0.260" transform="rotate(10.6 81.8 180.8)"/>
<ellipse cx="62.8" cy="179.9" rx="10.7" ry="3.5" fill="url(#g)" opacity="0.100" transform="rotate(60.0 62.8 179.9)"/>
<ellipse cx="63.1" cy="180.5" rx="5.0" ry="1.2" fill="url(#g)" opacity="0.328" transform="rotate(1.3 63.1 180.5)"/>
<ellipse cx="63.5" cy="182.4" rx="11.1" ry="3.5" fill="url(#g)" opacity="0.100" transform="rotate(60.0 63.5 182.4)"/>
<ellipse cx="64.9" cy="183.4" rx="4.0" ry="1.4" fill="url(#g)" opacity="0.387" transform="rotate(2.5 64.9 183.4)"/>
<ellipse cx="64.2" cy="184.9" rx="11.4" ry="3.5" fill="url(#g)" opacity="0.100" transform="rotate(60.0 64.2 184.9)"/>
<ellipse cx="57.6" cy="185.7" rx="4.7" ry="1.1" fill="url(#g)" opacity="0.350" transform="rotate(5.0 57.6 185.7)"/>
<ellipse cx="65.0" cy="187.4" rx="11.7" ry="3.5" fill="url(#g)" opacity="0.100" transform="rotate(60.0 65.0 187.4)"/>
<ellipse cx="56.1" cy="186.5" rx="5.5" ry="1.3" fill="url(#g)" opacity="0.413" transform="rotate(18.1 56.1 186.5)"/>
<ellipse cx="65.8" cy="189.9" rx="12.0" ry="3.5" fill="url(#g)" opacity="0.100" transform="rotate(60.0 65.8 189.9)"/>
<ellipse cx="62.1" cy="189.1" rx="6.4" ry="1.1" fill="url(#g)" opacity="0.292" transform="rotate(-16.2 62.1 189.1)"/>
<ellipse cx="66.5" cy="192.4" rx="12.3" ry="3.5" fill="url(#g)" opacity="0.100" transform="rotate(60.0 66.5 192.4)"/>
<ellipse cx="60.6" cy="192.9" rx="5.0" ry="1.5" fill="url(#g)" opacity="0.225" transform="rotate(10.6 60.6 192.9)"/>
<ellipse cx="77.5" cy="195.3" rx="17.1" ry="1.3" fill="url(#g)" opacity="0.151" transform="rotate(9.6 77.5 195.3)"/>
<ellipse cx="67.2" cy="194.9" rx="12.7" ry="3.5" fill="url(#g)" opacity="0.100" transform="rotate(60.0 67.2 194.9)"/>
<ellipse cx="58.8" cy="195.3" rx="5.2" ry="1.4" fill="url(#g)" opacity="0.403" transform="rotate(8.4 58.8 195.3)"/>
<ellipse cx="68.0" cy="197.4" rx="13.0" ry="3.5" fill="url(#g)" opacity="0.100" transform="rotate(60.0 68.0 197.4)"/>
<ellipse cx="70.0" cy="196.9" rx="4.9" ry="1.3" fill="url(#g)" opacity="0.209" transform="rotate(14.8 70.0 196.9)"/>
<ellipse cx="22.0" cy="123.4" rx="21.8" ry="0.8" fill="url(#g)" opacity="0.041" transform="rotate(15.9 22.0 123.4)"/>
<ellipse cx="22.0" cy="131.4" rx="21.8" ry="0.8" fill="url(#g)" opacity="0.044" transform="rotate(15.9 22.0 131.4)"/>
<ellipse cx="22.0" cy="139.4" rx="21.8" ry="0.8" fill="url(#g)" opacity="0.049" transform="rotate(15.9 22.0 139.4)"/>
<ellipse cx="22.0" cy="147.4" rx="21.8" ry="0.8" fill="url(#g)" opacity="0.037" transform="rotate(15.9 22.0 147.4)"/>
<ellipse cx="22.0" cy="155.4" rx="21.8" ry="0.8" fill="url(#g)" opacity="0.030" transform="rotate(15.9 22.0 155.4)"/>
<ellipse cx="22.0" cy="163.4" rx="21.8" ry="0.8" fill="url(#g)" opacity="0.033" transform="rotate(15.9 22.0 163.4)"/>
<ellipse cx="22.0" cy="171.4" rx="21.8" ry="0.8" fill="url(#g)" opacity="0.026" transform="rotate(15.9 22.0 171.4)"/>
<ellipse cx="22.0" cy="179.4" rx="21.8" ry="0.8" fill="url(#g)" opacity="0.031" transform="rotate(15.9 22.0 179.4)"/>
<ellipse cx="22.0" cy="187.4" rx="21.8" ry="0.8" fill="url(#g)" opacity="0.040" transform="rotate(15.9 22.0 187.4)"/>
<ellipse cx="22.0" cy="195.4" rx="21.8" ry="0.8" fill="url(#g)" opacity="0.040" transform="rotate(15.9 22.0 195.4)"/>
<ellipse cx="22.0" cy="203.4" rx="21.8" ry="0.8" fill="url(#g)" opacity="0.031" transform="rotate(15.9 22.0 203.4)"/>
<ellipse cx="78.0" cy="180.9" rx="25.8" ry="1.6" fill="url(#g)" opacity="0.500" transform="rotate(14.6 78.0 180.9)"/>
<ellipse cx="76.5" cy="188.4" rx="27.4" ry="1.6" fill="url(#g)" opacity="0.550" transform="rotate(14.8 76.5 188.4)"/>
<ellipse cx="81.5" cy="194.4" rx="27.0" ry="1.6" fill="url(#g)" opacity="0.500" transform="rotate(10.7 81.5 194.4)"/>
<ellipse cx="63.0" cy="196.4" rx="20.2" ry="1.4" fill="url(#g)" opacity="0.350" transform="rotate(8.5 63.0 196.4)"/>
<ellipse cx="48.0" cy="197.9" rx="20.1" ry="1.4" fill="url(#g)" opacity="0.300" transform="rotate(4.3 48.0 197.9)"/>
<ellipse cx="40.5" cy="203.4" rx="17.5" ry="1.3" fill="url(#g)" opacity="0.220" transform="rotate(3.3 40.5 203.4)"/>
<ellipse cx="88.0" cy="173.4" rx="25.7" ry="1.4" fill="url(#g)" opacity="0.350" transform="rotate(13.5 88.0 173.4)"/>
<ellipse cx="85.5" cy="199.4" rx="27.8" ry="1.8" fill="url(#g)" opacity="0.550" transform="rotate(8.3 85.5 199.4)"/>
<ellipse cx="29.0" cy="202.7" rx="29.0" ry="1.0" fill="url(#g)" opacity="0.150" transform="rotate(0.5 29.0 202.7)"/>
<linearGradient id="lg2_388" gradientUnits="userSpaceOnUse" x1="3.0" y1="0" x2="43.0" y2="0"><stop offset="0" stop-color="#fff" stop-opacity="0.3"/><stop offset="1" stop-color="#fff" stop-opacity="0.4"/></linearGradient>
<path d="M 0.0 210.1 L 150.0 210.2" fill="none" stroke="url(#lg2_388)" stroke-width="3.4" filter="url(#b05)"/></g></g></svg><div class="bx" style="left:396.5px;top:32.1px;width:150.10000000000002px;height:214.5px"></div>
<div class="tk" style="left:49.20px;top:29.40px;width:1px;height:3.2px"></div>
<div class="tl" style="left:30.70px;top:15.5px;width:40px;text-align:center">1.5</div>
<div class="tk" style="left:77.80px;top:29.40px;width:1px;height:3.2px"></div>
<div class="tl" style="left:59.30px;top:15.5px;width:40px;text-align:center">2</div>
<div class="tk" style="left:106.40px;top:29.40px;width:1px;height:3.2px"></div>
<div class="tl" style="left:87.90px;top:15.5px;width:40px;text-align:center">2.5</div>
<div class="tk" style="left:135.00px;top:29.40px;width:1px;height:3.2px"></div>
<div class="tl" style="left:116.50px;top:15.5px;width:40px;text-align:center">3</div>
<div class="tk" style="left:163.60px;top:29.40px;width:1px;height:3.2px"></div>
<div class="tl" style="left:145.10px;top:15.5px;width:40px;text-align:center">3.5</div>
<div class="tk" style="left:28.20px;top:32.10px;width:3.8px;height:1px"></div>
<div class="tl" style="left:2.40px;top:24.80px;width:40px;text-align:center">0</div>
<div class="tk" style="left:28.20px;top:67.80px;width:3.8px;height:1px"></div>
<div class="tl" style="left:2.40px;top:60.50px;width:40px;text-align:center">0.5</div>
<div class="tk" style="left:28.20px;top:103.50px;width:3.8px;height:1px"></div>
<div class="tl" style="left:2.40px;top:96.20px;width:40px;text-align:center">1</div>
<div class="tk" style="left:28.20px;top:139.20px;width:3.8px;height:1px"></div>
<div class="tl" style="left:2.40px;top:131.90px;width:40px;text-align:center">1.5</div>
<div class="tk" style="left:28.20px;top:174.90px;width:3.8px;height:1px"></div>
<div class="tl" style="left:2.40px;top:167.60px;width:40px;text-align:center">2</div>
<div class="tk" style="left:28.20px;top:210.60px;width:3.8px;height:1px"></div>
<div class="tl" style="left:2.40px;top:203.30px;width:40px;text-align:center">2.5</div>
<div class="tk" style="left:28.20px;top:246.30px;width:3.8px;height:1px"></div>
<div class="tl" style="left:2.40px;top:239.00px;width:40px;text-align:center">3</div>
<div class="yl" style="left:9.20px;top:135.80px;font-size:14px">Time (s)</div>
<div class="ttl" style="left:75.00px;top:3px">Velocity (km/s)</div>
<div class="cap" style="left:95.60px;top:250.4px">(a)</div><div class="tk" style="left:231.70px;top:29.40px;width:1px;height:3.2px"></div>
<div class="tl" style="left:213.20px;top:15.5px;width:40px;text-align:center">1.5</div>
<div class="tk" style="left:260.30px;top:29.40px;width:1px;height:3.2px"></div>
<div class="tl" style="left:241.80px;top:15.5px;width:40px;text-align:center">2</div>
<div class="tk" style="left:288.90px;top:29.40px;width:1px;height:3.2px"></div>
<div class="tl" style="left:270.40px;top:15.5px;width:40px;text-align:center">2.5</div>
<div class="tk" style="left:317.50px;top:29.40px;width:1px;height:3.2px"></div>
<div class="tl" style="left:299.00px;top:15.5px;width:40px;text-align:center">3</div>
<div class="tk" style="left:346.10px;top:29.40px;width:1px;height:3.2px"></div>
<div class="tl" style="left:327.60px;top:15.5px;width:40px;text-align:center">3.5</div>
<div class="tk" style="left:210.70px;top:32.10px;width:3.8px;height:1px"></div>
<div class="tl" style="left:184.90px;top:24.80px;width:40px;text-align:center">0</div>
<div class="tk" style="left:210.70px;top:67.80px;width:3.8px;height:1px"></div>
<div class="tl" style="left:184.90px;top:60.50px;width:40px;text-align:center">0.5</div>
<div class="tk" style="left:210.70px;top:103.50px;width:3.8px;height:1px"></div>
<div class="tl" style="left:184.90px;top:96.20px;width:40px;text-align:center">1</div>
<div class="tk" style="left:210.70px;top:139.20px;width:3.8px;height:1px"></div>
<div class="tl" style="left:184.90px;top:131.90px;width:40px;text-align:center">1.5</div>
<div class="tk" style="left:210.70px;top:174.90px;width:3.8px;height:1px"></div>
<div class="tl" style="left:184.90px;top:167.60px;width:40px;text-align:center">2</div>
<div class="tk" style="left:210.70px;top:210.60px;width:3.8px;height:1px"></div>
<div class="tl" style="left:184.90px;top:203.30px;width:40px;text-align:center">2.5</div>
<div class="tk" style="left:210.70px;top:246.30px;width:3.8px;height:1px"></div>
<div class="tl" style="left:184.90px;top:239.00px;width:40px;text-align:center">3</div>
<div class="yl" style="left:192.30px;top:137.40px;font-size:13.6px">Time (s)</div>
<div class="ttl" style="left:256.80px;top:3px">Velocity (km/s)</div>
<div class="cap" style="left:284.40px;top:250.4px">(b)</div><div class="tk" style="left:414.20px;top:29.40px;width:1px;height:3.2px"></div>
<div class="tl" style="left:395.70px;top:15.5px;width:40px;text-align:center">1.5</div>
<div class="tk" style="left:442.80px;top:29.40px;width:1px;height:3.2px"></div>
<div class="tl" style="left:424.30px;top:15.5px;width:40px;text-align:center">2</div>
<div class="tk" style="left:471.40px;top:29.40px;width:1px;height:3.2px"></div>
<div class="tl" style="left:452.90px;top:15.5px;width:40px;text-align:center">2.5</div>
<div class="tk" style="left:500.00px;top:29.40px;width:1px;height:3.2px"></div>
<div class="tl" style="left:481.50px;top:15.5px;width:40px;text-align:center">3</div>
<div class="tk" style="left:528.60px;top:29.40px;width:1px;height:3.2px"></div>
<div class="tl" style="left:510.10px;top:15.5px;width:40px;text-align:center">3.5</div>
<div class="tk" style="left:393.20px;top:32.10px;width:3.8px;height:1px"></div>
<div class="tl" style="left:367.40px;top:24.80px;width:40px;text-align:center">0</div>
<div class="tk" style="left:393.20px;top:67.80px;width:3.8px;height:1px"></div>
<div class="tl" style="left:367.40px;top:60.50px;width:40px;text-align:center">0.5</div>
<div class="tk" style="left:393.20px;top:103.50px;width:3.8px;height:1px"></div>
<div class="tl" style="left:367.40px;top:96.20px;width:40px;text-align:center">1</div>
<div class="tk" style="left:393.20px;top:139.20px;width:3.8px;height:1px"></div>
<div class="tl" style="left:367.40px;top:131.90px;width:40px;text-align:center">1.5</div>
<div class="tk" style="left:393.20px;top:174.90px;width:3.8px;height:1px"></div>
<div class="tl" style="left:367.40px;top:167.60px;width:40px;text-align:center">2</div>
<div class="tk" style="left:393.20px;top:210.60px;width:3.8px;height:1px"></div>
<div class="tl" style="left:367.40px;top:203.30px;width:40px;text-align:center">2.5</div>
<div class="tk" style="left:393.20px;top:246.30px;width:3.8px;height:1px"></div>
<div class="tl" style="left:367.40px;top:239.00px;width:40px;text-align:center">3</div>
<div class="yl" style="left:374.60px;top:137.70px;font-size:13.6px">Time (s)</div>
<div class="ttl" style="left:439.60px;top:3px">Velocity (km/s)</div>
<div class="cap" style="left:466.40px;top:250.4px">(c)</div>
</body></html>
